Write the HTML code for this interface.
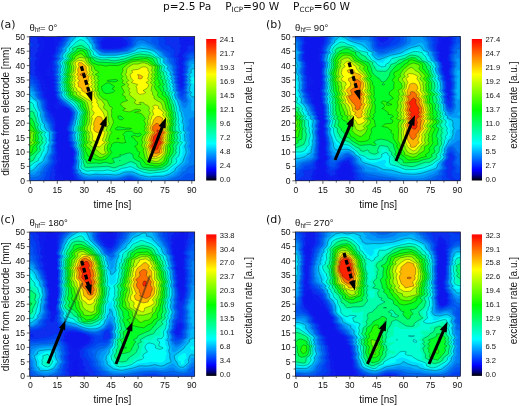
<!DOCTYPE html>
<html><head><meta charset="utf-8"><title>figure</title>
<style>html,body{margin:0;padding:0;background:#fff}svg{display:block}text{fill:#111}</style></head><body>
<svg width="520" height="406" viewBox="0 0 520 406">
<defs><clipPath id="pc"><rect x="0" y="0" width="164.9" height="144.3"/></clipPath>
<linearGradient id="cb" x1="0" y1="1" x2="0" y2="0"><stop offset="0.000" stop-color="#000000"/><stop offset="0.035" stop-color="#000096"/><stop offset="0.075" stop-color="#0000ff"/><stop offset="0.260" stop-color="#00ffff"/><stop offset="0.500" stop-color="#00ff00"/><stop offset="0.750" stop-color="#ffff00"/><stop offset="1.000" stop-color="#ff0000"/></linearGradient>
<filter id="bl" x="0" y="0" width="520" height="406" filterUnits="userSpaceOnUse"><feGaussianBlur stdDeviation="0.42"/></filter>
</defs>
<rect width="520" height="406" fill="#fff"/>
<g filter="url(#bl)">
<text x="163" y="10.1" font-size="10.6" font-family="'DejaVu Sans', sans-serif">p=2.5 Pa</text>
<text x="225.2" y="10.1" font-size="10.6" font-family="'DejaVu Sans', sans-serif">P<tspan font-size="7.2" dy="1.8">ICP</tspan><tspan dy="-1.8">=90 W</tspan></text>
<text x="293.1" y="10.1" font-size="10.6" font-family="'DejaVu Sans', sans-serif">P<tspan font-size="7.2" dy="1.8">CCP</tspan><tspan dy="-1.8">=60 W</tspan></text>
<g transform="translate(0.0,0.0)">
<g transform="translate(29.8,36.5)" clip-path="url(#pc)" stroke="#001020" stroke-opacity="0.6" stroke-width="0.55" stroke-linejoin="round">
<rect x="0" y="0" width="164.9" height="144.3" fill="#0812ec"/>
<path d="M-2,-2l17.2,0 -0.6,2 -1.6,2 2,2 -0.8,2 1.8,2.3 -0.4,1.7 -2.3,2 0.1,2 -1.8,2 -1.5,4 1.3,2 -1.9,2 -0.9,4 0.2,6 1.8,2 -0.7,2 2.1,1.9 0.5,2.1 3.8,6 -0.5,2 3,2 -1.9,2 0.8,2 -1.3,2 0.1,2 3.1,4 0.4,3.1 1.5,0.9 -1.1,2 1.2,2 -0.2,2 4.6,4 -0.1,2 1.3,2 -0.4,4 0.6,2 -0.7,2 -0.1,2 0.4,2 2.6,2 -2,2 0.2,4 -1.1,2 1.9,2 -0.9,2 -0.3,2 1.3,2 -0.1,2 1.1,2 -0.2,2 0.4,2 1.5,2 0.2,2 -2.6,4 -0.9,2 -0.2,2 1.1,2 -0.1,2 2.5,2 3.9,6 -1.3,0.4 -1.4,1.6 2.1,2 -36.7,0 0,-150zM27,0l2.8,-2 138.2,0 0,150 -124,0 -4,-3.5 -2,-0.5 2,-0.5 1.2,-1.5 -0.5,-2 0.5,-2 -1.4,-2 1.7,-2 -1.2,-2 0.3,-2 1.4,-2 0.7,-2 0.1,-2 -0.6,-2 1.2,-6 -2.3,-4 -2.5,-2 0.1,-2 0.7,-2 -2.9,-2 0.5,-2 -0.3,-2 1.9,-4 -3,-2 0,-2 0.5,-2 1.2,-2 0.3,-2 2.2,-4 1,-6 -4.1,-4 -2.7,-0.8 -2,0 -3.8,0.8 -1.5,2 -0.7,0.3 -0.5,-0.3 -0.1,-2 -2.7,-4 1.3,-0.3 2,-1.6 0.6,-2.1 -1.5,-2 -1.8,-4 1.6,-2 -2.3,-2 0.1,-2 -0.6,-2 1.1,-2 -2.2,-2 2,-2 -2.7,-4 -5.8,-2 3.5,-1.9 -2,-2.1 3.2,-4 -0.7,-2 2.6,-4 2,-2 -2.7,-2 1.3,-2 2,-2 0.7,-2 -0.9,-2 0.4,-2 1.1,-2 -1.6,-4 1,-2 2.6,-2zM76,4l-3.5,2 1.2,2 0,2 2.3,0.9 12,-0.4 4,-0.9 2.9,-1.6 -3.2,-4 -3.7,-1.5 -6,-0.4 -6,1.9zM156,2.7l-1.6,1.3 1.6,0.6 3.5,-0.6 -3.5,-1.3z" fill="#081ded" stroke="none"/>
<path d="M-2,-2l8,0 1.4,2 -0.3,2 0.9,2 -0.2,2 2.1,2 -0.3,2 -2.2,2 0.8,2 -2.5,4 -0.2,2 2.4,2 -2.6,2 -0.7,4 1.2,2 0.1,2 -1.5,2 1.4,2 -1.1,2 3.2,2 -0.5,2 2.6,1.9 -0.4,2.1 1.8,2 -0.6,2 1,2 0.2,1.9 2.4,2.1 -1.1,2 0.7,2 3.4,4 0.4,4 -0.4,2 0.6,2.4 0.7,1.6 3.3,3.9 0.6,2.1 1.6,2 1.5,6 -0.5,4 0.4,2 2.6,2 -1.7,2 0.3,4 -1.1,2 1.9,2 -1.8,4 1.2,2 -0.3,2 1,2 -1.3,4 -0.2,2 1.6,2 -0.4,2 -2.3,4 -0.3,2 1,2 -0.9,2 1.1,1.9 -1.1,2.1 0.5,4 -0.9,4 -26.5,0 0,-150zM33.4,-2l44.4,0 0.8,2 -5.1,2 -3.3,4 1.3,2 0,2 1.2,2 5.3,0.6 11.5,-0.6 5.3,-2 3.1,-2 -0.9,-4 -4,-2 -2.2,-4 58.5,0 0.4,2 -0.3,2 0.9,2 -1,2 2.6,4 -2.1,2 0.9,2 -0.5,2 -2.8,4 2.2,2 -1.1,4 0.2,2 1.1,2 -1.5,4 1.4,2 -1.4,2 1.6,2 -1.6,2 1.4,2 -1.2,2 2.6,2 -1.3,2 2.1,2 0.4,-2 1.6,-2 -1.7,-2 1.6,-2 -0.8,-2 1.2,-2 -3.3,-2 2.5,-2 -0.7,-4 0.7,-2 -1.2,-2 0,-2 2.3,-4 -2.1,-2 0.6,-2 3,-2.9 2,-1.1 -0.7,-2 0.3,-2 0.4,-0.3 2,-1.2 8,1.1 0,138.4 -120,0 -1.6,-2 0.9,-2 -2.7,-2 -0.8,-4 -1.6,-2 1.1,-2 -1.3,-2.3 0.2,-1.7 1.7,-4 0.1,-2 -0.9,-2 1.3,-6 -1.3,-2 -0.6,-2 -2,-2 -0.1,-2 0.5,-2 -2.9,-2 0.6,-2 -0.4,-2 0.3,-2 1.4,-2 -3,-2 0.5,-4 1.2,-2 0.3,-2 1.9,-4 1.1,-6 -3.9,-4.2 -6,-2.3 -2.4,-1.5 -1.2,-4 -1.8,-2 -0.5,-2 -1.2,-2 1.6,-2 -2.2,-2 0.7,-2 -0.9,-2 1.3,-2 -1.9,-2 1.6,-2 -1.3,-2 0.5,-2 -2.3,-2 1.9,-2 -1.3,-2 -0.2,-2 1.1,-2 -1,-2 -0.3,-2 1,-2 2,-2 -2.3,-2 2.7,-4 0.7,-2 -0.7,-2 2.7,-4 0.2,-2 2.2,-2 -0.1,-2 2.6,-2 0.2,-2z" fill="#072eee" stroke="none"/>
<path d="M-2,-2l1.6,0 1.1,2 -0.7,6 3.6,2 -1.2,2 -4.4,-0.3 0,-11.7zM35.6,-2l37,0 0,2 -3.7,2 0,2 -0.8,2 1.5,2 0.5,4 3.9,1.3 4,0.5 12,-0.7 2,-0.5 5.6,-2.6 2.4,-1.6 0.5,-0.4 -0.4,-2 0.2,-2 -2,-2 0.3,-4 36.5,0 0.4,2 -1.8,2 1.9,2 -1.1,4 5.5,1.6 1.9,2.4 2.6,2 0,2 -0.9,4 3.1,2 -0.6,4 0.4,2 1.4,2 -1.2,4 1.2,2 -1.5,2 2.2,2 -1.5,2 1.4,2 -1.3,2 2.3,2 -1.1,2 1.2,2 -0.1,2 2.5,0.9 0.2,-0.9 1.8,-1.8 -0.2,-2.2 1.3,-2 -1.9,-2 1.7,-2 -0.7,-2 1.1,-2 -2.6,-2 2.3,-2 -0.7,-2 0.8,-4 -1.1,-1.9 0.1,-2.1 2.7,-4 -1.8,-2 3,-3.5 2,-1.3 4,-1.4 4,0 0,134.2 -116.8,0 -1.2,-2 0.1,-2 -2.9,-2 -1.6,-4 -1.9,-2 1,-2 -1.6,-2 0.3,-2 1.4,-4 0.1,-2 -0.8,-2 1.2,-6 -1.7,-4 -1.6,-1.9 -0.3,-2.1 0.5,-2 -2.9,-2 0.7,-1.7 -0.7,-2.3 0.3,-2 1.4,-2 -2.8,-2 0,-2 0.4,-2 1.3,-2 0.2,-2 1.8,-4 0.9,-6 -3.2,-4 -6.6,-4 -2,-2 -1,-1.9 -2,-2 -1.9,-4.1 1.5,-2 -2.2,-2 0.9,-2 -1,-2 1.3,-2 -1.9,-2 1.7,-2 -1.3,-2 1.1,-2 -2.2,-1.8 1.7,-2.2 -1.1,-2 0,-2 1,-2 -1.2,-2 -0.4,-1.8 0.8,-2.2 1.9,-2 -2,-2 3.5,-6 -0.6,-2 3.2,-4 0.4,-2 2.3,-2 -0.2,-2 2.3,-2 0,-2zM98,143.5l-1.5,0.5 -0.1,2 1.6,1.1 2,0 2,-0.9 1.7,-2.2 -3.7,-0.7 -2,0.2zM141,4l1,-0.7 1.8,0.7 -1.8,0.3 -1,-0.3zM-2,14l0,-0.5 2,0.4 0.2,2.1 -2.2,1.1 0,-3.1zM-2,20l0,-0.9 2,0.6 2.9,2.3 -1.9,2 -1.3,4 0.4,2 -2.1,0.2 0,-10.2zM-2,38l0,-1.9 2,0 0.7,1.9 3.8,2 -0.5,1.8 3.3,2.2 -0.8,2 2.4,2 -0.7,2 1.2,2 0,2 2.6,2 -1,2 2,4 2.3,2 0.5,2 -0.1,4 0.5,2 0.8,2 1.6,2 1,4 1.8,2 2.5,6 -0.1,4 0.6,2 2.7,2 -1.6,2 0.3,4 -1.1,2 1.9,2 -2.1,4 1.1,2 -0.3,2 0.8,2 -2,4 -0.4,2 1.4,2 -0.2,2 -3.3,6 0.2,2 -1.7,2 0.6,2 -1.1,2 -0.5,2 0.5,2 -1.2,2 1.5,2 -21.9,0 0,-110z" fill="#0641f0" stroke="none"/>
<path d="M37.2,-2l30.1,0 0.4,2 -1.9,2 1.2,2 -0.4,2 1.6,2 0.5,4 5.3,2.3 4,0.3 14,-0.6 8,-3.9 2.5,-2.1 -0.4,-2 0.6,-2 -1,-2 1.3,-4 28.4,0 -0.7,2 -3.2,2 1.4,2 0.1,4 2.9,4 8.1,3.9 0.6,2.1 -0.3,2 3.7,1.9 0.3,4.1 0.5,2 1.6,2 -0.9,4 1.2,2 -1.5,2 2.3,2 -1.4,2 1.4,2 -1.3,2 2.2,2 -1,2 1.1,2 -0.5,1.9 2.9,2.1 -1,2 2.1,2.7 0.8,-0.7 0.5,-2 2.3,-2 -2,-2 1.4,-2 -0.3,-2 1.4,-2 -1.9,-2 1.7,-2 -1,-2 1.3,-2 -2.2,-1.9 2,-2 -0.7,-2.1 1,-4 -1.2,-2 0.2,-2 3.3,-4 -1.4,-2 2.8,-2.6 2,-1 2,0 4,1 0,130.6 -60,0 -1.1,-4 -4.9,-1.9 -2,-0.3 -2.6,0.2 -5.1,2 -0.8,2 0.9,2 -38.4,0 -1.5,-2 0.1,-2 -3.2,-2 -2.4,-4 -2.1,-2 0.8,-2 -1.5,-2 0.2,-2 1.2,-4 0.1,-2 -1,-2 1.4,-6 -1.3,-2 -0.4,-2 -1.7,-2 -0.1,-2 0.6,-2 -2.7,-2 0.6,-2 -0.8,-2 0.2,-2 1.5,-2 -2.8,-2 0.4,-4 1.2,-2 0.2,-2 1.8,-4 0.8,-6 -3,-4 -5.6,-4 -6.1,-6 -1.9,-4 1.5,-2 -2.2,-2 0.9,-2 -1,-2 1.3,-2 -1.8,-2 1.6,-2 -1.1,-2 1,-2 -2.3,-2 1.9,-2 -0.8,-1.9 0,-1.6 0.8,-2.5 -1.7,-4 0.9,-1.9 2,-2.1 -1.8,-2 3.6,-6 -0.6,-2 2.1,-2 1.3,-2 0.5,-2 2,-2 -0.1,-2 2.3,-2 -0.1,-2zM-2,42l2,0.1 4,1.9 -0.6,2 3.2,2 -0.3,2 1.4,2 -0.1,2 2.7,2 -1.1,2 2,4 2.4,2 0.8,2 0,4 1.3,4 1.6,2 0.3,4 1.8,2 0.4,2 2.6,4 0,2 1,4 2.6,1.9 -1.4,2.1 0.3,4 -1.1,2 1.9,2 -2.2,4 1,2 -0.3,2 0.7,2 -2.4,4 -0.3,2 1.1,2 -0.3,2 -4.4,6 0,2 -2.5,2 0.4,2 -0.9,2 -1.5,2 0.3,4 1.6,2 -18,0 0,-106z" fill="#0653f1" stroke="none"/>
<path d="M38.6,-2l26.1,0 0.4,2 -1.1,2.1 1.5,1.9 -0.2,2 1.8,2 0.4,4 4.5,2.5 4,0.9 14,-0.5 6,-0.9 2.2,-2 4.1,-2 1.7,-1.8 0.1,-2.2 1.2,-2 0.4,-2 1.5,-2 -0.3,-2 18.8,0 -1.2,2 -3,2 -0.3,2 0.5,2 2.3,0.9 2,1.6 2.9,3.5 4.1,2 4.3,4 0.5,2 3.6,2 0.9,4 0.9,2 1.8,2 -0.6,4 1.3,2 -1.5,2 2.4,2 -1.3,2 1.4,2 -1.3,2 2.2,2 -1,2 1.1,2 -0.6,2 2.6,2 -1,2 2.1,4 3.2,1.9 0.8,-1.9 -0.1,-4 2.1,-2 -2.2,-2 1.3,-2 -0.4,-2 1.4,-2 -2,-2 1.7,-2 -0.9,-2 1.2,-2 -2.3,-2 2.3,-2 -0.7,-2 1,-4 -1,-2 0.3,-2 1.5,-2 2.3,-2 -0.6,-2 0.3,-0.3 2,-0.7 6,0.6 0,116.1 -2,0.1 -4,1.4 -4,-0.4 -2,0.6 -4,4 -7.5,2.6 -0.7,2 1.1,2 -32.9,0 -1.9,-4 -8.1,-3.1 -2,-0.4 -4,0.7 -6,2.1 -6.8,0.7 1,2 2.4,2 -3.7,0 -0.9,-0.6 -6,0.3 -2,-0.3 -1.2,0.6 -9.5,0 -1.3,-1.1 -4,-0.4 -0.9,-0.5 -0.6,-2 -4.5,-1.8 -2,-1.7 -1.8,-2.5 -2.2,-1.9 0.6,-2.1 -1.6,-2 0.1,-2 1.2,-4 0,-2 -1,-2 1.2,-6 -1.1,-2 -0.4,-2 -1.6,-2 -0.1,-2 0.8,-2 -2.7,-2 0.6,-1.8 -0.8,-2.2 0,-2 1.5,-2 -2.6,-2 0.4,-4 1.3,-2 0.2,-2 1.6,-4 -0.1,-2 0.8,-4 -2.7,-4 -11.8,-10 -2,-4 1.4,-2 -2.3,-2 1.1,-2 -1.1,-2 1.4,-2 -1.9,-2 1.6,-1.8 -1.1,-2.2 1.2,-2 -2.1,-1.8 1.7,-2.2 -0.9,-2 0.1,-2 1,-2 -1.3,-2 -0.4,-2 0.9,-2 1.9,-2 -1.7,-2 3.8,-6 -0.5,-2 3.6,-4 0.4,-2 1.9,-2 0,-2 2.3,-2 -0.2,-2zM68,143.9l-0.7,0.1 0.7,0.6 2,0.3 1,-0.9 -3,-0.1zM-2,48l0,-1.9 2,0.3 3.8,1.6 0.7,2 1.5,1.8 0,2.2 2.8,2 -1.2,2 2.1,4 2.3,1.8 1.1,2.2 0.2,4 1.3,4 1.4,1.9 0.2,4.1 1.6,2 0.3,2 3,4 0.1,2 1.2,4 2.8,2 -1.5,2 0.4,4 -1.1,2 2,2 -2.5,4 1,2 -0.3,2 0.5,2 -2.6,4 -0.2,2 0.9,2 -0.6,2 -5.2,6 -0.1,2 -2.9,2 0.4,2 -1.4,2 -4,3.3 -6.7,0.7 -1,2 7.7,0.3 2,0.7 1.3,1 -13.3,0 0,-100z" fill="#0565f3" stroke="none"/>
<path d="M39.7,-2l23.4,0 0.4,2 -0.8,2 1.7,2 -0.1,2 1.9,2 0.4,4 5.4,3.3 2,0.6 14,-0.2 10,-1.6 1.9,-2.1 3.8,-2 1.9,-2 0.3,-2 2.1,-1.8 2,-0.9 4,0.4 3.8,2.3 4.6,2 2.8,2 1.6,2 5.2,2.7 1.5,1.3 2.5,3.8 3.6,2.2 -0.1,2 0.9,2 3.4,4 -0.3,4 1.4,2 -1.4,2 2.4,2 -1.3,2 1.4,2 -1.2,2 2.1,2 -0.9,1.8 1.1,2.2 -0.7,2 2.6,2 -1.2,2 1.8,4 4.4,4 2,-0.5 0.9,-1.5 -0.8,-2 -0.4,-4 1.9,-2 -2.2,-2 1.2,-2 -0.4,-2 1.4,-2 -2,-2 1.6,-2 -0.9,-2 1.2,-2 -2.2,-2 2.3,-2 -0.7,-2 1.1,-3.9 -0.9,-2.1 0.4,-2 2.5,-2.7 2,-1.3 2,-0.8 4,0.2 0,102.3 -0.6,0.3 0.6,0.3 0,3.7 -8.3,2 -2.7,2 -0.1,2 -4.4,2 -1.1,2 -2.6,2 -10.3,4 0,4 -23,0 -1.5,-2 0.5,-2 -4.5,-1 -7.5,-3 -2.5,-0.4 -2,0.1 -10,2.8 -6,0.5 -24,-0.2 -3.8,-0.8 -2.2,-1.1 -5.3,-4.9 0.5,-2 -1.5,-2 0,-2 1.1,-4 0,-2 -1,-2 1.2,-6 -1.5,-4 -1.5,-2 0,-2 0.7,-2 -2.5,-2 0.5,-2 -0.8,-2 0,-2 1.5,-2 -2.6,-2 0.4,-4 1.3,-2 0.1,-2 1.6,-4 0,-2 0.7,-4 -2.9,-4.3 -11.5,-9.7 -2.1,-4 1.5,-2 -2.4,-2 1,-2 -1,-2 1.3,-2 -1.9,-2 1.8,-2 -1.2,-2 1.2,-2 -2.3,-2 2,-2 -0.9,-2 0.2,-2 0.9,-2 -1.2,-2 -0.5,-2 1,-2 1.9,-2 -1.5,-2 3.7,-5.8 -0.3,-2.2 2.1,-2 1.4,-2 0.4,-2 1.9,-2 0.1,-2 2.4,-2 -0.3,-2zM-2,50l0,-1.8 2,0.1 2,0.8 2.7,2.9 0.1,2 2.8,2 -1.1,2 2.1,4 2.6,2 0.9,2 0.3,4 0.6,2 0.7,2 1.6,2 -0.1,4 1.5,2 0.3,2 3,3.9 0.2,2.1 1.4,4 2.8,2 -1.3,2 0.3,4 -1,2 1.9,2 -2.5,4 0.9,2 -0.4,2 0.5,2 -2.8,4 -0.2,2 0.8,2 -0.6,1.4 -2,2.4 -2.5,2.2 -1.4,2 -0.4,2 -3.1,2 0.6,2 -3.2,2.3 -4,0.9 -6,0.1 0,-91.3z" fill="#047bf4" stroke-opacity="0.22"/>
<path d="M41.4,-2l19.5,0 0.3,2 -0.2,2 1.7,2 0.3,2 1.9,2 0.4,4 4.7,3.5 2,1 2,0.4 14,-0.2 10,-1.7 2.8,-1 1.5,-2 3.7,-2 4,-2.8 2,-0.3 2,0.2 4,1.3 3.1,1.6 2.4,2 4.9,2 2.7,2 2.8,4 3.6,2 -0.4,2 0.5,2 4.2,4 -0.2,2 0.5,2 1.5,2 -1.3,2 2.5,2 -1.3,2 1.5,2 -1.2,2 2.1,2 -1,2 1.1,1.8 -0.7,2.2 2.6,2 -1.3,2 1.7,4 2.1,2 1.6,4.5 2,2.9 2,0.3 2,-3.6 1.3,-4.1 -1.3,-1.9 -1,-4.1 1.9,-2 -2.3,-2 1,-2 -0.3,-2 1.4,-2 -2.1,-2 1.7,-2 -1.1,-2 1.3,-2 -2.1,-2 2.4,-2 -0.8,-2 1.5,-4 -0.8,-2 0.7,-2 2.6,-1.8 6,-0.2 0,56.9 -4,-0.3 -2,0.6 -2,1.1 -1.5,1.7 1.1,4 -1.5,2 -0.6,2 0.1,2 2.9,2 -1.5,2 0.8,4 -0.4,2 1.5,2 -1.3,2 -0.7,2 1.4,2 -0.1,2 1.1,2 -2.8,6 0.7,4 -7.2,5.6 -0.4,0.4 -0.1,2 -3.2,2 -1.4,2 -2.9,1.6 -8,2.8 -4,0.5 -12,0.3 -4,-0.4 -6,-1.4 -6,-2.4 -4,-1 -2,0.1 -8,2.6 -4,0.5 -18,-0.5 -6,0.6 -4,-0.2 -4,-1 -6,-4.1 0.3,-2 -1.7,-2 1,-8 -1.1,-2 1.2,-6 -1.1,-2 -0.3,-2 -1.5,-2 0,-2 0.8,-2 -2.5,-2 0.6,-2 -0.8,-2 0,-2 1.5,-2 -2.4,-1.9 0.2,-4.1 1.3,-2 0.1,-2 1.6,-4 -0.2,-2 0.9,-4 -2.5,-4 -1.4,-1.4 -10.4,-8.6 -2.1,-4 1.3,-2 -2.4,-2 0.9,-2 -1,-2 1.3,-2 -1.8,-2 1.7,-2 -1,-2 1.2,-2 -2.3,-2 2,-2 -0.9,-2 0.2,-2 1,-2 -1.2,-2 -0.4,-2 1,-2 2,-2 -1.4,-2 3.9,-6 -0.3,-2 3.5,-4 0.4,-2 1.9,-2 0.4,-2 2.4,-2 -0.5,-2zM-2,52l0,-1.2 2,0.2 1.9,1 0.5,2 3.2,2 -1,2 2.4,4 2.6,2 1.1,2 0.3,4 1.3,4 1.6,2 -0.2,4 1.2,2 0.3,2 3.2,4 0.1,2 1.7,4 2.9,2 -1.1,2 0.3,4 -1,2 1.9,2 -2.6,4 0.8,2 -0.4,2 0.3,2 -3,4 0,4 -1.3,2 -4.8,4 -2.2,3.9 -3.2,2.1 -0.8,1.6 -2,0.6 -6,-0.1 0,-86.1z" fill="#0398f7" stroke="none"/>
<path d="M43.4,-2l15.2,0 0.6,4 1.9,2 0.5,2 2,2 0.5,2 -0.1,2 6,5 2,0.8 4,0.3 10,-0.3 12,-1.8 5,-2 1.8,-2 1.2,-0.6 6,-2.2 3.9,0.8 3.4,2 6.4,2 2.9,2 3.2,4 3.9,2 -0.5,2 0.3,2 4.5,4 -0.8,2 3.1,4 -1.2,2 2.4,2 -1.3,2 1.7,2 -1.1,2 2,2 -1,2 1.4,2 -1.1,2 2.7,2 -1.3,2 1.5,4 1.9,2 1.8,6 1,2 0.1,2 1.8,2 0.7,4 0.9,2 -0.4,2 0.2,2 1.2,2 -1.1,4 0.2,2 2.6,2 -1.6,2 0,2 1,2 -0.4,2 1.7,2 -2.2,4 1.5,2 0.8,4 -2.7,5.8 -0.8,4.2 -6.9,6 0,2 -3.4,2 -1.9,2 -9,3 -14,0.7 -4,-0.4 -6,-1.5 -6,-2.4 -4,-0.8 -4,0.3 -6,2.4 -4,0.6 -20,-0.8 -6,0.6 -4,-0.5 -6.5,-3.2 0,-2 -1.9,-2 0.9,-8 -1.2,-2 1.1,-6 -1.1,-2 -0.3,-2 -1.4,-2 0,-2 0.9,-2 -2.4,-2 0.6,-2 -0.8,-4 1.5,-2 -2.6,-2 0.4,-4 1.3,-2 0.6,-4 1.1,-2 -0.2,-2 0.9,-4 -2.4,-4 -1.9,-2 -4.4,-4 -5.4,-4 -2.3,-4 1.2,-2 -2.5,-2 1,-2 -1.1,-2 1.3,-2 -1.9,-2 1.9,-2 -1.1,-2 1.3,-2 -2.2,-2 2,-2 -1,-2 0.3,-2 1,-2 -1.1,-2 -0.4,-2 1.1,-2 2.2,-2 -1.4,-2 4,-6 -0.3,-2 3.6,-4 0.4,-2 2.2,-2 0.7,-2 2.3,-1.9 -0.6,-2.1zM161.5,28l0.5,-0.4 6,-0.2 0,47.1 -4,0 -2.4,-0.5 -0.3,-6 0.9,-4 -2.2,-2.4 -1.5,-3.6 1.9,-2 -2.4,-1.9 0.9,-2.1 -0.3,-2 1.3,-2 -2.1,-2 1.6,-2 -1.1,-2 1.3,-2 -2,-2 2.4,-1.9 -0.6,-2.1 0.6,-1.7 1.6,-2.3 -0.1,-2zM-2,56l0,-2 4.9,2 -0.6,2 1.9,2 1,2 2.8,2 1.2,2 0.2,4 1.5,4 1.5,2 -0.3,4 1.2,2 0.1,2 1.1,2 1.9,2 0.1,2 2.1,4 3,2 -0.8,2 0.2,4 -0.9,2 1.8,2 -2.6,4 0.6,2 -0.4,4 -3,4 -0.8,4 -1.6,2 -4.1,3.3 -3.4,4.7 -2.6,1.2 -6,0.9 0,-80.1z" fill="#02b7f9" stroke="none"/>
<path d="M45.9,-2l10.5,0 0,2 1,2 2.1,2 0.9,2 1.9,2 0.8,2 -0.2,2 2.6,2 3.7,4 2.8,0.7 14,0 10,-1.6 4.4,-1.1 4.9,-2 2.7,-1.9 2,-0.4 8,1 5,1.3 3.4,2 3.5,4 4.3,2 -0.3,4 4.6,4 -1,2 1.3,2 2.2,2 -1,1.9 2.4,2.1 -1.5,2 1.9,2 -1,2 2,2 -1,2 1.5,2 -1.2,2 2.7,2 -1.3,2 1.4,4 1.7,2 2.6,8 -0.3,2 1.7,2 0.5,4 1,2 -0.6,4 1.5,1.8 -0.5,6.2 2.5,1.9 -1.5,2.1 0.7,4 -0.3,2 2,2 -2.4,4 1.3,2 0.6,4 -3.9,10 -6.9,6 -0.4,2 -5.2,3.5 -6,2.1 -10,0.2 -4,0.6 -2,-0.1 -8,-1.8 -6,-2.8 -2,-0.4 -6,0.1 -2.4,0.6 -4.3,2 -3.3,0.5 -8,-0.6 -6,0.3 -6,-0.6 -6,1 -4,-0.7 -4,-1.5 -0.8,-0.4 -0.5,-2 -2.1,-2 0.6,-8 -1.2,-2 1,-6 -1.3,-4 -1.4,-2 0.1,-2 0.9,-2 -2.4,-2 0.7,-2 -0.8,-4 1.5,-2 -2.6,-2 0.4,-4 1.3,-2 0.5,-4 1.2,-2 -0.3,-2 1,-4 -3.8,-5.7 -4.5,-4.3 -5.5,-3.9 -1.4,-2.1 -1.1,-2 1.1,-2 -2.5,-2 0.8,-2 -1.1,-2 1.3,-2 -1.9,-2 1.9,-2 -0.9,-2 1.2,-2 -2.2,-2 2.1,-2 -1,-2 0.3,-2 1.1,-2 -1.2,-2 -0.3,-2 1.2,-2 2.3,-2 -1.4,-2 0.9,-2 3.1,-4 -0.2,-2 2.2,-2 1.4,-2 0.6,-2 2.6,-2 0.9,-2 2.7,-2 -0.5,-1.7zM164.6,32l3.4,-1 0,30 -6,-0.9 -1.7,-2.1 1.6,-2 -2.4,-2 0.6,-2 0,-2 1.2,-2 -2.3,-2 1.6,-2 -1.3,-2 1.5,-2 -1.8,-2 2.7,-2 -0.6,-2 0.9,-1.4 2.6,-0.6zM-2,60l0,-1.9 2,0.5 1.8,1.4 1.6,2 3.1,2 1.2,2 0.3,3.8 1.6,4.2 1.5,2 -0.3,4 1.1,2 0.1,2 0.9,2 1.8,2 -0.2,2 2.4,4 3.1,1.9 -0.4,2.1 0.2,4 -0.7,2 1.5,2 -2.5,4 0.4,2 -0.8,4 -2.6,4 -1.4,4 -1.7,1.8 -3.6,2.2 -4.4,5.2 -2,1 -4,0.5 0,-74.7z" fill="#01dcfc"/>
<path d="M46.8,2l3.2,-1.4 2,0.1 4,2.5 4.3,4.8 1.2,2 -0.2,2 2.4,2 1.6,2 0.8,2 3.9,1.7 4,0.4 12,-0.1 12,-2.3 10,-3.2 6,-0.9 4,0.5 4,1.2 2,1.1 3.6,3.6 4.7,2 -0.3,4 4.7,4 -1.1,2 0.4,1.5 3.1,2.5 -0.8,2 2.3,2 -1.7,2 2.3,2 -0.8,2 1.9,2 -1.1,2 1.5,2 -1.2,2 2.9,2 -1.2,2 1.1,4 1.6,2 0.7,2 1.9,6 -0.6,2 1.8,2 0.4,4 0.9,2 -0.7,2 -0.1,2 1.6,2 -0.6,2 0.2,4 2.6,2 -1.8,2 0.4,4 -0.5,2 2.7,2 -2.8,4 1,4 -0.7,2 0.1,2 -0.8,2 -1.6,1.9 -0.5,4.1 -7.4,6 -2.1,2.7 -2,1.3 -4.9,2 -13.1,0.6 -10,-2.1 -2,-1 -1.6,-1.5 -4.4,-1.2 -6,0.7 -12,3 -8,-0.6 -8,-0.1 -10,0.7 -4,-0.9 -4,-3.6 -0.3,-2 0.7,-2 -0.1,-4 -1.4,-2 0.9,-6 -1.2,-4 -1.3,-2 0,-2 1,-2 -2.3,-2 0.7,-2 -0.6,-4 1.4,-2 -2.7,-2 0.4,-4 1.4,-2 -0.1,-2 0.5,-2 1.3,-2 -0.3,-1.9 1.2,-4.1 -5.2,-7.3 -2.8,-2.7 -5.9,-4 -2.5,-4 1,-2 -2.7,-2 0.9,-2 -1.2,-2 1.4,-2 -2,-2 1.8,-1.9 -0.8,-2.1 1.4,-2 -2.1,-2 2.1,-2 -1.1,-2 0.3,-2 1.1,-2 -1.1,-2 -0.4,-2 1.4,-2 2.6,-2 -1.4,-2.3 0.6,-1.7 3.4,-4 -0.3,-2 2.5,-2 2.9,-4 2.5,-2 1.2,-2zM161.2,42l0.8,-1 2,-0.5 2,2.2 2,0.4 0,6.7 -2,-0.1 -2,-2.1 -2.6,-1.6 1.8,-2 -2,-2zM-2,62l5.7,2 1.7,2 0.6,3.9 1.3,2.1 0.5,2 1.4,2 0,4 1.1,2 0.1,2 0.7,2 1.8,2 -0.8,2 0.8,2 1.6,2 3.5,1.9 -0.9,2.1 1,4 -0.6,2 1.2,2 -2.4,4 0.2,2 -0.6,2 -2.9,6 -1.4,2 -0.2,2 -6.8,4 -1,2 -1.6,1.2 -4,1.1 0,-70.3z" fill="#00fff7" stroke="none"/>
<path d="M48.8,4l1.2,-0.7 2,0.1 2,0.8 4,3.7 1.5,2.1 0.4,2 2.3,2 1.3,2 0.2,2 3,2 3.3,0.9 4,0.5 6,-0.5 8,0.1 8,-1.6 12,-3.7 6,-0.8 4,0.5 4,1.4 3.8,3.2 4.7,2 -0.1,4 1.8,2 2.8,2 -1.1,4 3.4,2 -0.6,2 2,2 -1.6,2 2.5,2 -0.7,2 1.7,2 -1,2 1.4,2 -1.2,2 3.1,2 -1.1,2 0.9,2 0.2,2 1.6,2 2.6,8 -0.6,2 1.5,1.9 0.4,4.1 0.8,2 -1,4 1.4,2 -0.8,2 0.6,2 -0.1,2 2.7,1.9 -2,2.1 0.9,4 -1.2,2 3,2 -3.1,4 0.4,4 -0.6,4 -0.8,2 -2.6,2 0.9,2 0,2 -7.5,6 -1.4,1.7 -4,1.5 -14,1.7 -5.9,-0.9 -8.1,-3.4 -4,-2.2 -2,-0.2 -4,1.1 -4,0.5 -4.4,2.2 -3.6,0.9 -6,-1.5 -4,0.8 -8,0.2 -3.7,-0.4 -4.3,0.7 -2,-0.4 -4.4,-2.3 -0.6,-2 0.6,-2 -0.3,-4 -1.3,-1.8 0.6,-6.2 -1.1,-4 -1.3,-2 0,-2 1.1,-2 -2.4,-2 1,-2 -0.7,-4 1.4,-2 -2.6,-1.9 0.3,-4.1 1.5,-2 -0.2,-2 0.4,-1.8 1.4,-2.2 -0.4,-2 1.5,-4 -5.7,-8 -2.8,-2.7 -5.3,-3.3 -2.7,-4 1,-2 -2.8,-2 0.9,-2 -1.3,-2 1.4,-2 -2.1,-2 1.9,-2 -0.9,-2 1.6,-2 -2,-2 2,-2 -1,-2 0.3,-2 1,-2 -1.1,-2 -0.3,-2 1.4,-1.9 2.9,-2.1 -1.7,-2 0.7,-2 3.9,-4 -0.5,-2 2.7,-1.9 4,-4.3 2.8,-1.8zM-2,66l0,-0.4 2,0 1.9,0.4 1.7,2 0.3,2 3.6,6 0.3,4 1.1,2 0.1,2 0.6,2 1.8,2 -1,2 0.5,2 1.5,2 3.6,1.9 -1.8,2.1 2.3,4 -0.4,2 0.5,2 -2.5,4 0.2,2 -0.4,2 -1.5,2 -1.6,4 -1.8,2 -0.1,2 -4.1,2 -4.8,3.9 -2,0.5 0,-64.4z" fill="#00ffd1"/>
<path d="M46.9,8l1.1,-1.1 2,-0.8 2,0.1 2,0.7 1.4,1.1 3.1,4 2.5,2 0.9,2 0,2 2.1,1.8 8,2.5 4,0.1 4,-0.7 6,0.8 4,-0.4 8,-2.1 8,-2.9 6,-1 8,1.2 2,0.9 2.3,1.8 4.5,2 0.2,4 1.7,2 2.9,2 -1.3,4 3.2,2 -0.3,2 1.7,2 -1.3,2 2.4,1.9 -0.6,2.1 1.5,2 -0.8,2 1.3,2 -1.3,2 3.2,2 -0.8,2 1.1,2 0.2,2 1.5,2 1.4,4 1.1,4 -0.5,2 1.6,2 0.1,4 0.8,2 -1.3,4 1.4,2 -1,2 0.3,4 3.3,2 -2.1,2 1.1,4 -1.7,2 3,2 -3.1,4 0.4,2 -0.6,2 0.5,2 -1.9,4 -2.1,1.9 0.4,2.1 -0.2,2 -2.2,2.3 -6,4.7 -6,0.9 -4,1.1 -8,0.4 -3.2,-1.4 -4.8,-0.9 -2,-0.8 -4,-3.1 -2,-1.1 -2,-0.4 -2,0.4 -2.6,1.9 -5.4,1.1 -4,1.8 -2,0.3 -6,-1.8 -12,1 -10,0.2 -2,-0.6 -1.7,-2 0.6,-2 -0.6,-4 -1.5,-2 0.6,-6 -1.1,-4 -1.3,-2 0,-2 1.2,-2 -2.2,-1.9 0.9,-2.1 0,-2 -0.7,-2 1.5,-2 -2.8,-2 0.4,-4 1.7,-2 -0.4,-2 0.4,-2 1.3,-2 -0.4,-2 1.8,-4 -1.7,-2 -4,-6.3 -4,-3.6 -4,-2.1 -2.9,-4 1,-2 -2.8,-2 0.9,-2 -1.4,-2 1.4,-2 -2.2,-2 1.8,-2 -0.8,-2 1.7,-2 -2,-2 1.9,-2 -0.8,-2 1.1,-4 -1.3,-4 1.6,-2 2.8,-1.9 -1.7,-2.1 0.7,-2 4.6,-4 -0.8,-2 6.1,-4zM-2,68l0,-0.6 2.8,0.6 0.4,2 4.8,5.9 0.1,2.1 1.5,4 0.1,2 0.6,2 1.7,1.8 -1,2.2 0.5,2 1.2,2 3.6,2 -1.9,2 2.4,4 -0.5,2 0.6,2 -3.1,4 0.4,4 -2.1,2 -1.2,2 -0.4,2 -2,2 -0.2,2 -6.3,3.3 -2,0.2 0,-59.5z" fill="#00ffac" stroke="none"/>
<path d="M47.1,10l2.9,-0.9 2,0 7.7,4.9 0.8,2 0.1,2 1.6,2 5.8,2.4 4,1 6,-0.2 4,1 4,-0.1 8,-1.5 12,-4.3 4,-0.8 10,1.2 6.9,3.3 0.8,4 1.6,2 3,2 -1.2,4 2.7,2 -0.3,2 1.6,2 -1,2 2.5,2 -0.9,2 1.6,2 -0.8,2 1.4,2 -1.5,2 3,2 -0.4,2 1.4,2 0.4,2 1.2,1.9 0.5,2.1 1.1,2 1,4 -0.4,2 1.5,2 0,4 0.8,2 -1.3,4 1.3,2 -1.3,2 0.2,4 3.6,2 -2.2,2 1.3,4 -2,2 2.8,2 -2.9,3.8 0.6,2.2 -0.9,2 0.8,2 -4.4,6 -0.5,4 -1.6,2.4 -6,4 -8,1.4 -6,0.1 -9.9,-1.9 -2.9,-2 -0.4,-2 -0.8,-0.8 -4,-1.9 -2,0 -8,3.6 -2,0.2 -4,1.8 -2,0.4 -6,-1.5 -20,1.1 -2,-0.1 -1.7,-0.8 0.1,-2 -0.9,-2 -0.1,-2 -1.7,-2 0.6,-6 -0.9,-2 -0.2,-2 -1.2,-1.9 -0.1,-2.1 1.3,-2 -2.2,-2 1,-2 0.1,-2 -0.8,-2 1.5,-2 -2.8,-2 0.5,-4 1.8,-2 -0.6,-2 0.4,-2 1.2,-2 -0.4,-2 1.9,-4 -3.2,-4 -1.8,-4 -1.8,-2 -2.3,-2 -4.1,-2 -3.4,-4 1,-2 -2.8,-2 0.9,-2 -1.3,-1.9 1.2,-2.1 -2.2,-2 1.7,-2 -0.8,-2 2,-2 -2.1,-2 1.8,-2 -0.8,-2 0.2,-2 0.9,-2 -1.2,-4 1.7,-2 2.9,-2 -1.8,-2 0.8,-2 5.1,-4 -0.9,-2 4.6,-2zM-2,76l0,-0.6 4,-0.5 2,0.9 0.3,2.2 1.9,4 0.1,2 0.6,2 1.8,2 -1.1,2 0.6,2 1,2 3.4,2 -1.9,2 2.1,4 -1.1,2 1.4,2 -3.4,4 0.8,4 -4.1,4 -3.1,6 -3.3,1.3 -2,0.3 0,-49.6z" fill="#00ff72"/>
<path d="M47.3,12l2.7,-0.1 4,0.8 3.1,1.3 2.1,6 4.2,2 1.2,2 3.4,1.5 18,1 10,-2.1 8,-3.1 6,-1 8,0.3 4.9,1.4 2.2,4 1.7,2 3.2,1.9 -1,4.1 1.9,2 -0.8,2 1.7,2 -1,2 2.4,2 -0.5,2 1.8,2 -1.9,2 1.4,2 -0.6,2 2.3,2 0.2,2 2.3,2 1.7,4 -0.1,2 1.4,2 1,6 1.6,2 -0.6,2 0.2,2 1,2 -1.2,2 -0.1,2 1.1,2 -1.3,2 -0.1,4 3.2,1.9 -1.8,2.1 0.1,2 0.8,2 -1.8,2 2.2,2 -2.1,2 -0.5,2 1.1,1.9 -0.7,2.1 0.1,2 -4.2,6 -1,4 -1.3,2 -4.9,2.8 -4,0.8 -10,-0.2 -4,-0.5 -2,-0.9 -1.1,-2 -0.1,-2 -0.8,-0.8 -3,-1.2 -3,-2 -0.9,-2 0.1,-2 -3.2,-1.6 -2,0.2 -6,2.1 -2,-0.7 0.6,2 -8,2 2.1,4 -2.7,0.9 -2,0.2 -4,-1.4 -6,1.2 -4,-0.4 -8,0.4 -1.5,-0.9 -0.2,-2 -2.3,-1.9 0.1,-6.1 -1,-2 0.2,-2 -1.7,-2 0,-2 1.6,-2 -1.9,-2 0.9,-2 -0.2,-2 -0.7,-2 1.6,-2 -2.5,-2 -0.2,-2 0.6,-2 1.7,-2 -0.5,-2 0.3,-2 0.9,-2 -0.4,-2 1.8,-4 -4,-6 0,-2 -1.3,-2 -7.3,-4.6 -3.8,-3.4 1.1,-2 -2.9,-2 1.1,-2 -1.4,-2 1,-2 -2,-2 1.4,-2 -0.8,-2 2,-2 -2.2,-2 1.8,-2 -0.5,-2 1,-4 -1.1,-4 4.5,-4 -1.5,-2 1.2,-2 5.6,-4 0.8,-2zM-2,82l2,-0.4 2,0.4 2.3,4 0.7,2 0.1,2 1.8,4 2.8,2 -1.9,2 1,4 -1.1,2 2.3,1.9 -2.2,2.1 -1.2,2 0.9,2 -0.5,2 -3,3 -4,2.8 -2,-0.7 0,-37.1zM89.8,124l0.6,0 -0.4,0.4 -0.2,-0.4z" fill="#00ff26"/>
<path d="M46.9,16l3.1,-1.6 2,-0.3 2,0.9 2,2.7 0.8,2.3 4,2 0,2 1.1,2 6.1,2.6 4,0 4,1.1 4,-0.9 8,0.3 10,-3.6 4,-2 14,-1.4 2,0.5 4,3 2.3,2.4 3.7,2 -1,4 1.4,2 -1.3,2 1.7,2 -1.6,2 2,2 0,2 1.7,2 -2.9,1.9 2,2 0.7,2.1 2,2 -0.6,2 4.6,4 2.4,10 0.9,1.9 1.8,2.1 -1,2 0.4,2 1.3,2 -1.3,2 0.2,2 1,2 -1.3,2 -0.3,4 2.8,2 -1.6,1.9 -0.3,2.1 0.5,2 -1.3,2 1.7,2 -2,2 -0.9,2 1.2,2 -1.5,6 -2.5,4 -0.3,2 -0.6,1.1 -2,2.2 -2,1.1 -4,1.2 -2,0 -10,-1.8 -4,-5.7 -3.3,-2.1 1.4,-4 -3,-2 0.2,-2 -2.5,-2 2.9,-2 0.4,-2 -2.4,-2 -1.7,-2.5 -2.7,-1.5 2.7,-1.1 4,1.4 2,-0.9 1.7,-1.4 -1.7,-1.5 -4,0.8 -2,-0.7 -2,-1.8 -2,-0.2 -4,0.3 -3,3.1 1.8,2 -0.3,2 1.6,4 -4.1,0.6 -4,-0.9 -2,0 -2,0.7 -2.4,1.6 0.1,2 -1.7,1.8 0,0.5 1.9,3.7 -5.9,6.6 -4,1 -4,0 -4,-1.2 -6,-3.1 -1.3,-3.3 -1.4,-2 0.7,-1.9 -2.4,-2.1 -0.1,-2 2.1,-2 -1.6,-1.9 0.5,-2.1 -1,-4 1.7,-2 -2.5,-2 -0.4,-2 0.7,-2 1.4,-2 -0.1,-2 1,-4 -0.4,-2 1.4,-4 -1.8,-4 -1.5,-2 0.2,-2 -0.9,-2 -12.1,-8 1.1,-2 -2.9,-2 1.2,-2 -1.5,-2 0.8,-2 -1.8,-2 1.3,-2 -0.7,-2 1.8,-2 -2.4,-2 2.1,-2 0,-4 0.5,-2 -0.8,-2 -0.1,-2 4.2,-4 -0.9,-2 4.8,-4zM76,46.7l-1.2,1.3 -3.2,2 1,4 1.4,2 2,1 2,0 5.5,-1 0.5,-0.5 0.9,-1.5 -2.8,-2 1.9,-0.9 0.8,-1.1 -4.8,-3.2 -2,-0.4 -2,0.3zM78,43.8l-0.7,0.2 0.7,1 6,0.4 2,-0.2 2.3,-1.2 -2.3,-1.2 -8,1zM86,91.5l-0.4,0.5 0.4,1.1 2,0.3 6,-0.1 2,-0.5 4,-0.1 1.7,-0.7 -1.7,-0.5 -4,0.1 -6,-1.2 -2,0 -2,1.1zM88,79.9l0.5,2.1 1.5,1.1 2,0.3 1.7,-1.4 -1.7,-1.8 -2,-0.9 -2,0.6zM88,101.6l-1.1,0.4 1.1,0.5 1.4,-0.5 -1.4,-0.4zM-2,88l0,-1.5 2,0.3 3.7,5.2 0.8,2 2.6,2 -1.6,2 0.7,4 -1,2 2.4,2 -4,4 -1.6,5.9 -2,0.7 -2,0.1 0,-28.7z" fill="#24ff00"/>
<path d="M48.9,18l1.1,-0.6 2,0 2.4,2.6 4.1,2 -0.1,2 1,2 4.8,4 0.3,2 1.3,2 2.2,0.6 0.9,1.4 -3.5,2 3.4,2 -1.2,2 1.6,2 -2,2 1.6,2 -1.1,2 0.7,2 -0.6,2 2,2 -0.6,2 3.7,4 4.4,2 2.7,5.8 2,0.9 0.7,1.3 -0.7,0.6 -0.4,1.4 0.4,2 -0.3,4 1.1,2 0.9,4 -3.7,7.8 2,2.1 -2,2.7 -1.5,5.4 1.5,2 -1.8,2 -1.1,4 0.4,2 1.6,2 -3.1,3 -4,1.9 -2,0.1 -5,-3 -1.5,-2 -2.8,-2 -1.1,-2 -2.8,-2 -0.8,-1.7 -0.1,-0.3 2.7,-2 -2.1,-2 0.4,-4 -0.9,-1.9 1.5,-2.1 -2.4,-2 -0.5,-2 0.6,-2 1.2,-2 0.9,-4 0.4,-2 -0.6,-2 0.8,-4 -3.1,-10 -2.3,-2 -9.7,-6 0.8,-2 -3,-2 1.1,-2 -1.7,-2 0.8,-2 -1.6,-2 1.2,-2 -0.5,-2 1.5,-2 -2.5,-2 2.3,-2 0.6,-6 -0.9,-2 0,-2 4.1,-4 0.2,-2 3.7,-2zM100.6,26l3.4,-1.1 4,-0.4 8,0.3 2,0.6 3.5,2.6 4.2,2 -1.1,4 1.3,2 -1.7,2 1.6,2 -1.8,1.9 1.6,2.1 -1.6,1.9 1.7,2.1 -1.3,2 1.9,4 2.1,2 -0.8,2 0.6,2 5.6,4 1.1,2 1.4,6 1,2 2,2 -0.7,2 0.5,2 1.5,2 -1.2,2 0.3,2 1,2 -1.3,2 0.1,2 -0.5,2 2.3,2 -1.3,1.8 -0.4,2.2 0.3,2 -1,2 1.6,2 -2.2,2 -0.9,2 0.2,6 -3,6 -0.5,2 -1.9,2 -2.2,0.9 -4,0.2 -4,-0.6 -4,-1.8 -2.6,-2.7 -2.1,-8 0.7,-2 -1.8,-2 -0.2,-2 1.1,-2 -1.1,-2.3 1,-3.7 3.4,-4 -2,-2 1.2,-2 -1,-2 1.4,-2.3 -1.9,-3.7 1.6,-2 -3.7,-4.6 -2,-0.8 -5.2,-0.6 1.2,-0.7 4,-0.6 1.1,-0.7 -1.1,-0.8 -4,-0.5 -6,2.7 -4,-0.5 -3,-0.9 1,-1.1 2,-0.8 -2,-0.7 -2,-2.5 -1.3,-0.9 1.3,-1.9 5.9,-2.1 -2.3,-2 -0.1,-2 -3.4,-2 2.6,-2 -3.1,-6 3.8,-2 -3.2,-2 1.4,-2 -2.2,-2 1.9,-2 -1.9,-2 1.8,-4 -0.4,-2 4.4,-4 3.4,-2zM-2,94l0,-1.6 6.7,3.6 -1.3,2 0.3,4 -1,2 2.5,2 -3.2,2.6 -2,1 -2,-0.1 0,-15.5z" fill="#6dff00"/>
<path d="M47.7,22l2.3,-1 2,0 3.6,1 0.4,2 1.3,2 1.7,2 2.7,2 -0.1,4 2.1,2 -1.7,1.8 2.9,2.2 -1,2 1.8,2 -1.4,2 1.5,2 -1.4,2 1.4,2 -0.9,2 2.4,2 -0.5,2 2.1,4 3.1,1.9 2.7,4.1 -0.9,2 0.2,2 2.9,2 1,2 0.5,8 1.2,4 -2,2 -1.3,4 2.1,2 -1.2,2 -0.2,2 -1.6,4 2.3,2 -2.1,2 -0.9,2 -0.1,4 1.6,2 -2.2,1.8 -2,-0.1 -2,-1.3 -2.5,-2.4 -5.7,-4 -1.8,-1.9 2,-2 -3.1,-2.1 0.9,-4 -1,-2 0.9,-2 -2,-2 -0.4,-2 0.4,-2 1.3,-2 1.2,-6 -0.9,-2 0.8,-4 -0.8,-2 -1.2,-6 -0.7,-2 -1.8,-2 -9,-6 0.1,-2 -3.3,-2 0.5,-2 -1.9,-1.9 0.8,-2.1 -1.4,-2 1.4,-2 -0.6,-2 1.4,-2 -2.4,-2 2.2,-2 0.8,-6 -1.1,-2 0,-2 4.6,-4zM102.7,28l1.3,-0.4 4,0 4,-1.2 2,-0.1 4,1.2 2,1.5 2.4,1 -0.1,2 -0.7,2 1.4,2 -1.6,2 1.4,2 -1.9,2 1.6,2 -2.1,2 2.3,2 -0.9,2 -0.5,4 1.5,2 -0.2,2 1.7,2 -0.1,2 2.8,2 4,2 1.9,4 0.2,2 3.5,4 -0.6,2 0.8,2 1.8,2 -1.1,2 0.3,2 1.2,2 -1.4,2 0.4,2 -0.7,2 2.2,2 -1.5,2 -0.3,2 0.2,2 -0.8,2 1.4,2 -2.1,2 -0.9,2 0.3,6 -1.1,2 -2.7,3.6 -4,3.3 -2,0.2 -2,-0.4 -4,-1.5 -2,-1.2 -1.8,-8 0,-2 -1.6,-2 0.3,-2 1.4,-2 -1.6,-2 0.3,-2 1.6,-4 2.2,-2 -1.7,-2 0.4,-2 -0.7,-2 1.6,-2 -0.7,-4 1.4,-2 -0.6,-2 1.4,-2 0.5,-2 -1.6,-2 0.8,-2 -0.6,-2 -1,-1.1 -2.7,-0.9 -1.3,-1.7 -2,-0.6 -2.7,0.3 1.9,2 -4.1,0 -3,-2 2.2,-2 -7,-6 1.1,-2 -1.7,-2 1.3,-1.8 -2.2,-2.2 1.2,-2 -2.7,-2 2.8,-2 -2,-2 -0.1,-2 -1.4,-2 1.1,-2 0,-2 0.6,-2 2,-2 3.4,-2zM-2,96l0,-0.5 3.6,0.5 -1.2,2 0.4,2 -0.4,2 -0.4,0.5 -2,0.5 0,-7zM-2,106l0,-1.5 4,1.5 -2,0.8 -2,0 0,-0.8z" fill="#b6ff00"/>
<path d="M49.9,24l2.1,0 2,0.9 2.6,3.1 2.6,2 0,4 1.1,2 -1.5,2 3.1,2 -1,2 1.4,2 -1.2,2 1.7,2 -2.1,2 2.1,2 -0.3,2 2.3,2 -0.5,2 0.3,2 2.7,4 -0.3,2 1.5,2 0,2 1.5,1.4 3.3,4.6 2.5,6 -0.2,2 1.2,4 -2,2 -1.5,4 2.1,2 -1.1,2 -0.1,2 -1.1,2 -0.4,2 2.6,2 -3.2,2 -2.1,2.5 -3.4,-0.5 -0.6,-2 2.6,-2 -5.5,-2 -0.6,-2 0.5,-2 -1,-4 -1.3,-2 -0.1,-4 1,-2 -0.1,-2 1,-4 -0.8,-2 1.9,-2 0.9,-2 -2.1,-2 -0.6,-2 1.2,-2 -1.5,-2 0.5,-1.6 0.7,-0.4 -12.6,-8 0.5,-2 -3.5,-2 -0.2,-2 -2.5,-2 0.9,-2 -1,-2 1.7,-2 -1.4,-2 1.4,-1.8 -2,-2.2 1.6,-2 -0.3,-2 1.2,-4 -1,-2 -0.2,-2 2.7,-1.6 1.9,-0.4zM110,32l2,-1.3 2,-0.4 2,0.3 2.2,1.4 0,2 1.3,2 -1,2 0.2,2 -1.1,2 1.7,2 -3,2 2.8,2 -1.1,2.7 -1,1.3 -3.8,2 2.8,2 -2,1.2 -4,0.7 -2.6,-1.9 -0.3,-4 -0.8,-2 1.6,-2 -6.3,-2 1.9,-2 -2.2,-2 -1.2,-4 2.7,-2 -0.8,-2 2,-0.6 4,-0.4 2,-1zM122.9,70l1.1,-1 2,-0.4 2,0.7 0.8,0.7 -0.2,2 1.4,0.5 3.8,3.5 -1.1,2 1.3,2 2.3,2 -0.9,2 0,2 1.4,2 -1,2 0.5,2 -0.6,2 2.1,2 -1.5,2 -0.4,2 0.2,2 -0.9,2 1.5,2 -2,2 -0.9,2 -0.1,4 0.5,2 -2.2,2.8 -2,1.7 -4,1.4 -4,-0.1 -2,-1.2 -0.8,-4.6 -1.1,-2 -0.3,-2 -1.4,-2 0.7,-2 1.4,-2 -1.7,-2 0.5,-2 1.5,-4 2.3,-2 -2,-2 0.1,-2 -0.5,-2 1.7,-2 0.1,-4 1.2,-2 0.2,-2 2.1,-1.9 -1.5,-4.1 1.8,-2 -1.4,-2z" fill="#ffff00"/>
<path d="M49.1,26l2.9,0.3 4.4,3.7 0.1,4 1.5,2 -1.5,2 2.9,2 -0.9,2 0.7,2 -2,2 2.3,2 -1.5,2 2.5,6 -0.5,0.5 -2,0.4 -2,-0.3 -4,-2.5 -0.1,-2.1 -3.5,-2 0.2,-2 -0.8,-2 2.2,-2 -2.5,-2 1.6,-2 -2.3,-2 1.7,-2 -0.7,-2 0.3,-2 1.3,-2 -1.1,-2 0.8,-2zM107.8,38l2.2,0.4 3,1.6 -1,2 -2,0.5 -1.6,-0.5 0.4,-2 -1,-2zM67.8,80l2.2,0 2,1.3 1.7,6.7 -1.7,1.9 -1.9,4.1 1.8,2 -1.9,0.6 -4,-1.1 -1.8,-1.5 -0.4,-2 0.5,-2 -0.5,-2 0.2,-2 2,-4.6 1.8,-1.4zM127.7,80l2.3,0 3.2,2 -0.8,2 0,2 1.3,2 0.7,4 -0.3,2 2.2,2 -1.9,2 -0.3,2 0.2,2 -0.9,2 1.5,2 -1.9,2 -0.9,2 0.3,2 -0.4,2 0.5,2 -5.8,4 -2.7,0.3 -1.1,-0.3 -0.9,-1.2 -0.7,-2.8 -1.6,-2 -0.4,-2 -1.2,-2 2.2,-4 -1.6,-2 1.3,-4 0.8,-2 2.3,-2 -2.1,-2 -0.5,-4 1.8,-2 1.7,-4.9 2,-2.4 1.7,-0.7z" fill="#ffb600"/>
<path d="M53.5,36l0.5,-0.3 0.5,0.3 -0.3,2 1.8,1.9 -2,2 -0.3,-1.9 -3.7,-1.9 3.5,-2.1zM125,88l1,-1 2,0 2,1.8 2,3 0.2,2.2 2.4,2 -2.2,2 -0.2,2 0.4,2 -0.9,2 1.6,2 -1.9,2 -1.1,2 0.5,2 -1.1,2 0.2,2 -3.9,1 -2,-0.7 -2,-1.8 -2.2,-4.5 2.2,-3.9 -1.3,-2.1 1.1,-4 1.1,-2 2.3,-2 -2.2,-2 -0.2,-2 0.2,-2 2,-2z" fill="#ff6d00"/>
<path d="M126.8,94l1.2,-0.7 0.4,0.7 3.6,2 -2.8,2 1.6,4 -0.8,2 1.6,2 -3.3,4 0.1,2 -2.4,1.6 -2,-0.5 -2.3,-3.1 0.8,-2 1.3,-2 -1,-2 0.9,-2 0.1,-2 4.2,-4 -1.2,-2z" fill="#ff2400"/>
</g>
<rect x="29.8" y="36.5" width="164.9" height="144.3" fill="none" stroke="#222" stroke-width="0.7"/>
<text x="30.4" y="193.0" font-size="8.6" text-anchor="middle" font-family="'Liberation Sans', sans-serif" >0</text>
<text x="57.3" y="193.0" font-size="8.6" text-anchor="middle" font-family="'Liberation Sans', sans-serif" >15</text>
<text x="84.2" y="193.0" font-size="8.6" text-anchor="middle" font-family="'Liberation Sans', sans-serif" >30</text>
<text x="111.1" y="193.0" font-size="8.6" text-anchor="middle" font-family="'Liberation Sans', sans-serif" >45</text>
<text x="138.0" y="193.0" font-size="8.6" text-anchor="middle" font-family="'Liberation Sans', sans-serif" >60</text>
<text x="164.9" y="193.0" font-size="8.6" text-anchor="middle" font-family="'Liberation Sans', sans-serif" >75</text>
<text x="191.8" y="193.0" font-size="8.6" text-anchor="middle" font-family="'Liberation Sans', sans-serif" >90</text>
<text x="25.0" y="183.7" font-size="8.6" text-anchor="end" font-family="'Liberation Sans', sans-serif" >0</text>
<text x="25.0" y="169.3" font-size="8.6" text-anchor="end" font-family="'Liberation Sans', sans-serif" >5</text>
<text x="25.0" y="154.9" font-size="8.6" text-anchor="end" font-family="'Liberation Sans', sans-serif" >10</text>
<text x="25.0" y="140.5" font-size="8.6" text-anchor="end" font-family="'Liberation Sans', sans-serif" >15</text>
<text x="25.0" y="126.1" font-size="8.6" text-anchor="end" font-family="'Liberation Sans', sans-serif" >20</text>
<text x="25.0" y="111.7" font-size="8.6" text-anchor="end" font-family="'Liberation Sans', sans-serif" >25</text>
<text x="25.0" y="97.3" font-size="8.6" text-anchor="end" font-family="'Liberation Sans', sans-serif" >30</text>
<text x="25.0" y="82.9" font-size="8.6" text-anchor="end" font-family="'Liberation Sans', sans-serif" >35</text>
<text x="25.0" y="68.5" font-size="8.6" text-anchor="end" font-family="'Liberation Sans', sans-serif" >40</text>
<text x="25.0" y="54.1" font-size="8.6" text-anchor="end" font-family="'Liberation Sans', sans-serif" >45</text>
<text x="25.0" y="39.7" font-size="8.6" text-anchor="end" font-family="'Liberation Sans', sans-serif" >50</text>
<path d="M30.4,180.8v3M57.3,180.8v3M84.2,180.8v3M111.1,180.8v3M138.0,180.8v3M164.9,180.8v3M191.8,180.8v3M43.8,180.8v1.8M70.7,180.8v1.8M97.6,180.8v1.8M124.5,180.8v1.8M151.4,180.8v1.8M178.3,180.8v1.8M29.8,180.8h-3M29.8,166.4h-3M29.8,152.0h-3M29.8,137.6h-3M29.8,123.2h-3M29.8,108.8h-3M29.8,94.4h-3M29.8,80.0h-3M29.8,65.6h-3M29.8,51.2h-3M29.8,36.8h-3M29.8,173.6h-1.8M29.8,159.2h-1.8M29.8,144.8h-1.8M29.8,130.4h-1.8M29.8,116.0h-1.8M29.8,101.6h-1.8M29.8,87.2h-1.8M29.8,72.8h-1.8M29.8,58.4h-1.8M29.8,44.0h-1.8" stroke="#222" stroke-width="0.7" fill="none"/>
<text x="112.5" y="207.7" font-size="10" text-anchor="middle" font-family="'Liberation Sans', sans-serif" >time [ns]</text>
<text transform="translate(9.0,111.4) rotate(-90)" font-size="10" text-anchor="middle" font-family="'Liberation Sans', sans-serif">distance from electrode [mm]</text>
<text x="0.3" y="27.8" font-size="11" text-anchor="start" font-family="'DejaVu Sans', sans-serif" >(a)</text>
<text x="29.5" y="30.5" font-size="9.5" font-family="'Liberation Sans', sans-serif">θ<tspan font-size="6.3" dy="1.8">hf</tspan><tspan dy="-1.8">= 0°</tspan></text>
<rect x="206.2" y="39.0" width="10.2" height="141.5" fill="url(#cb)"/>
<text x="219.8" y="181.7" font-size="7.6" text-anchor="start" font-family="'Liberation Sans', sans-serif" >0.0</text>
<text x="219.8" y="167.8" font-size="7.6" text-anchor="start" font-family="'Liberation Sans', sans-serif" >2.4</text>
<text x="219.8" y="153.8" font-size="7.6" text-anchor="start" font-family="'Liberation Sans', sans-serif" >4.8</text>
<text x="219.8" y="139.9" font-size="7.6" text-anchor="start" font-family="'Liberation Sans', sans-serif" >7.2</text>
<text x="219.8" y="125.9" font-size="7.6" text-anchor="start" font-family="'Liberation Sans', sans-serif" >9.6</text>
<text x="219.8" y="112.0" font-size="7.6" text-anchor="start" font-family="'Liberation Sans', sans-serif" >12.1</text>
<text x="219.8" y="98.0" font-size="7.6" text-anchor="start" font-family="'Liberation Sans', sans-serif" >14.5</text>
<text x="219.8" y="84.1" font-size="7.6" text-anchor="start" font-family="'Liberation Sans', sans-serif" >16.9</text>
<text x="219.8" y="70.1" font-size="7.6" text-anchor="start" font-family="'Liberation Sans', sans-serif" >19.3</text>
<text x="219.8" y="56.2" font-size="7.6" text-anchor="start" font-family="'Liberation Sans', sans-serif" >21.7</text>
<text x="219.8" y="42.2" font-size="7.6" text-anchor="start" font-family="'Liberation Sans', sans-serif" >24.1</text>
<text transform="translate(251.5,105.2) rotate(-90)" font-size="10" text-anchor="middle" font-family="'Liberation Sans', sans-serif">excitation rate [a.u.]</text>
</g>
<g transform="translate(265.6,0.0)">
<g transform="translate(29.8,36.5)" clip-path="url(#pc)" stroke="#001020" stroke-opacity="0.6" stroke-width="0.55" stroke-linejoin="round">
<rect x="0" y="0" width="164.9" height="144.3" fill="#0812ec"/>
<path d="M-2,-2l12.9,0 5,4 -3.9,1.4 -0.6,0.6 1.5,2 -2.4,2 -0.8,6 2,2 -2.1,2 0.4,1.8 1.8,2.2 -1.2,2 2.2,2 -0.7,2 1.4,2 -1.3,2 1.5,4 -1,2 5.3,5.2 1.2,2.8 -1.2,1.8 -2,0.6 -0.6,1.6 -1.4,1.8 0,2.2 4.2,2 -0.3,4 0.9,2 -0.6,4 1.7,2 1.8,4 -0.7,2 2.1,2 -1,2 2.4,2 -1.4,2 2.6,2 -0.1,2 -1,2 -0.2,2 1.2,2 -1.1,2 -0.5,2 1,2 -0.1,2 0.7,2 -0.4,2 0.2,4 -0.6,2 0.3,4 0.5,2 -0.9,2 0.9,2 -0.2,2 -1.9,2 -0.7,2 -0.5,2 0.4,2 1,2 -2.8,2 0,4 -1.3,2 1,2 -1.5,2 2.4,2 0,2 -23.5,0 0,-150zM17.5,-2l4,0 -1.5,1.4 -2,0.2 -0.5,-1.6zM24.1,-2l121.3,0 0.2,2 1.4,2 -1,2 0.3,2 -1.3,2 -1.1,6 2.9,2 -2.3,2 0.8,2 -0.3,2 0.2,2 2.8,2 0,2 1.3,2 -1.1,2 1.1,2 0.5,4 2,2 -0.4,2 0.6,1.5 0.4,-1.5 1.8,-2 -2.5,-4 0.3,-0.2 0.5,-3.8 1.3,-2 -1,-2 0.8,-2 -1.6,-1.9 -0.5,-2.1 0.5,-2 -0.2,-2 2,-2 -1.8,-1.9 0.1,-4.1 2.5,-4 -1.4,-2 0.7,-2 -0.9,-2 0.3,-2 14.7,0 0,150 -112.8,0 -1.2,-2 -0.5,-2 1,-2 -0.5,-2 2.4,-2 -2,-2 -0.6,-2 1.7,-2 -0.9,-2 -2.6,-2.3 -2,-0.1 -2,1.1 -1.2,1.3 -0.8,2 -2.9,2 -0.3,2 1.1,2 -2.6,2 3.2,2 0.3,2 -0.3,4 -11.1,0 -1,-6 -1.9,-2 0.7,-2 -1.6,-2 -0.9,-2 1.9,-2 -2.4,-4 -0.4,-2 2.8,-4 -0.4,-2 -1.7,-2 1.2,-2 -1,-2 -0.1,-2 1.2,-6 -1.2,-2 0.2,-2 -1.2,-6 0.9,-4 -1.8,-2 2.4,-6 -2.4,-2 1.8,-2 -1.9,-2 1.4,-1.9 -0.9,-2.1 0.6,-2 -0.9,-2 0,-2 -1.8,-2 1,-1.8 0,-1.3 -0.2,-0.9 -1.8,-1.9 1.4,-2.1 -1.8,-4 1,-2 0.5,-4 1.1,-2 -1.1,-2 0,-2 1,-2 -1.6,-2 0.7,-4 -0.5,-2 1.3,-2 -1.3,-2 -0.4,-2 -2.1,-2 0.5,-4 -1,-2 3.4,-2 -2.6,-2 -0.4,-2 1.9,-2 2,-3.9 0,-3.2 -1.7,-2.9 -0.2,-2zM17.5,8l0.5,-0.4 0.2,0.4 -0.7,0z" fill="#081ded" stroke="none"/>
<path d="M-2,-2l9.1,0 2,4 -0.6,2 1.2,2 -1.3,2 -0.6,6 2.2,1.8 -2,2.1 0.4,6.1 2.5,2 -0.6,2 1,2 -1,2 0.2,4 -0.4,2 1.8,2 -0.5,4 1.2,2 -0.9,2 0.7,2 -1.5,4 3.7,4 -0.5,2 2.1,2 0.2,4 2,2 2,4 -0.6,2 2,2 -0.7,2 2.4,2 -1.5,1.8 2.8,2.2 -0.2,2 -1.1,2 -0.3,2 1.4,2 -1.2,2 -0.2,2 0.4,4 0.8,2 -0.6,2 0.6,2 -0.8,6 0.8,4 -1.2,2 1,2 -0.2,2 -2,2 -1.7,4 0.8,4 -3.1,1.9 -0.6,2.1 0.1,2 -2.1,2 2,2 -2.2,2 -0.2,2 2.3,2 -19.3,0 0,-150zM27.9,-2l54,0 -0.3,2 2.3,4 2.1,1.6 2,0.3 3,-1.9 1.9,-2 -0.5,-4 49.6,0 1.2,4 -0.6,2 0.6,2 -1.2,2 -0.4,2 0,4 3.2,2 -1.9,2 0.9,2 -0.3,2 0.3,2 3,2 -0.1,2 1.1,2 -0.9,2 1,4 0.6,2 1.8,2 -0.9,2 0.6,1.7 1.6,2.3 -0.5,2 0.4,4 -1.3,2 2.8,4 -1.6,2 1.9,4 0.7,0.7 0.6,-2.7 -1,-2 2.4,-1.9 -1.3,-2.1 -0.7,-2 1.4,-4 0.1,-4 -1.1,-2 -0.1,-2 1.3,-2 -1.4,-2 -0.8,-2 0.7,-4 1.2,-2 -0.8,-2 0.6,-2 -1.9,-2 -0.2,-2 0.2,-4 2.3,-2 -1.8,-2 0.7,-4 2.3,-4 -1.1,-2 0.7,-2 -1.1,-2 0.5,-2 12.3,0 0,150 -108.6,0 -0.6,-4 0.5,-2 -1.2,-2 1.4,-2 -1.9,-2 -1.1,-2 1.5,-2 -2.9,-4 -1.1,-2.5 -1.2,-1.5 -0.8,-0.1 -5.1,2.1 -0.9,1 -0.8,1 -1.2,3.9 -3.5,2.1 -0.5,2.3 0.5,1.7 -5.1,2 -4.7,-6 1.8,-2 -2.5,-4 -0.4,-2 2.4,-3.9 -0.3,-2.1 -1.7,-2 0.9,-2 -0.9,-1.9 -0.1,-2.1 0.8,-6 -0.7,-1.9 0.2,-2.1 -0.8,-2 -0.8,-4 1,-4 -1.6,-2 2.2,-6 -2.4,-2 1.7,-2 -1.9,-2 1.2,-2 -0.8,-1.9 0.5,-2.1 -0.6,-4 -1.8,-2 0.8,-2 -0.1,-2 -1.7,-2 1.8,-2 -2,-4 1.4,-2 0.2,-4 0.7,-2 -0.9,-2 -0.1,-2 1,-2 -1.2,-2 -0.1,-2 0.4,-2 -0.2,-2 1.1,-2 -0.8,-2 0.3,-2 -2,-2 0.3,-4 -0.5,-2 3.3,-2 -1.8,-1.9 0,-1 0.7,-3.1 1.2,-2 0.6,-2 0.5,-4 -1,-2 -0.1,-2zM37.9,148l0.6,0 -0.5,0z" fill="#072eee" stroke="none"/>
<path d="M-2,-2l6,0 0.8,2 1.6,2 0.1,2 1.5,2 -1.1,2 -0.5,2 0.1,4 2.5,2 -2.2,2 0,4 0.2,2 2.5,2 -0.5,2 0.8,2 -0.9,2 -0.2,4 0.2,2 1.5,2 -0.9,2 0.1,2 1.3,2 -0.9,2 0.6,2 -1.4,4 3.3,4 -1,2 2.2,2 0.8,4 2.3,2 2.2,4 -0.3,2 2,2 -0.7,2 2.5,2 -1.5,2 2.8,2 -0.2,2 -1.4,4 1.4,2 -1,2 -0.4,2 1.2,6 -0.6,2 0.6,2 -0.8,6 0.7,4 -1.3,2 1,2 -0.3,2 -3.7,4 -0.9,2 -0.1,2 -1,2 -9.4,2 0.1,2 1.1,2 -1.6,2 -6.1,4 1.7,2 -0.8,1.3 -1,0.7 -3,0 0,-150zM30.2,-2l49,0 0.1,2 1.1,2 0.3,2 1.7,2 -0.5,2 1.3,2 2.8,0.4 4,-0.5 4.3,-1.9 1,-2 4,-4 -0.8,-2 -0.2,-2 40.4,0 0.5,6 0.9,2 -1,2 0.5,6 3.2,2 -1.5,2 1,2 -0.1,2 0.5,2 2.9,2 -0.1,2 1.2,2 -1,2 1.6,6 1.8,2 -1,2 2.3,4 -0.5,2 0.6,2 -0.2,2 -1.1,2 2.5,4 -1.7,1.9 1.1,2.1 0.3,2 -0.4,2 1.7,2 0.7,2 0.6,0.5 0.9,-0.5 1.3,-2 -1.2,-2 1,-1.8 0.2,-2.2 -1.2,-2 2.1,-2 -2,-4 1.2,-2 0.4,-6 -1.2,-2 -0.1,-2 1.3,-2 -1.5,-2 -0.5,-2 0.5,-4 1.4,-2 -0.7,-2 0.6,-2 -2,-2 0,-2 0.1,-4 2.4,-2 -1.7,-2 1.2,-4 2.2,-4 -0.9,-2 0.8,-2 -1.3,-2 0.5,-2 10.2,0 0,144 -6,1.5 -4,-2.1 -1.2,-1.4 0.2,-2 -0.8,-2 0.4,-2 2.1,-2 -2.2,-4 -0.3,-2 2.2,-4 -0.2,-2 -2.2,-2.7 -2,0.1 -0.7,0.6 0.6,2 -0.3,2 -2,2 -1.1,2 -0.1,2 2.3,4 -2.3,2 0.3,2 1.2,2 -1.4,2 5.5,3.7 1.8,2.3 -1.8,2 -91.9,0 -1.1,-6 -1.7,-2 1.1,-2 -2,-2 -1.3,-2 1.1,-2 -3.1,-4 -1.3,-2 0.2,-2 -2,-2.2 -2,0.3 -8,3.9 -1.4,2 -0.2,2 -1.3,2 -5.1,2.3 -2.2,-0.3 0.9,-2 -1.8,-2 -1.1,-2 -0.4,-2 0.5,-2 1.4,-2 -0.3,-2 -1.9,-2 0.9,-1.9 -1.1,-2.1 0.8,-8 -0.9,-2 0.3,-2 -1.6,-6 1,-4 -1.7,-2 2.1,-6 -2.4,-2 1.8,-2 -1.9,-2 1.2,-2 -1,-2 0.6,-2 -0.6,-4 -1.7,-2 0.9,-2 0,-2 -1.5,-2 1.7,-1.9 -1.9,-4.1 1.3,-2 0.1,-4 0.7,-2 -1.2,-2 0,-2 1.2,-2 -1.4,-2 -0.1,-2 0.3,-4 1.3,-2 -0.7,-2 0.6,-2 -2.1,-2 0.4,-4 -0.3,-2 2.9,-2 -1.8,-2 1.2,-4 2,-4 -0.1,-2 0.7,-2 -0.8,-2 -0.1,-2zM166.5,148l1.5,-0.8 0,0.8 -1.5,0z" fill="#0641f0" stroke="none"/>
<path d="M-2,-2l2.5,0 1.2,2 2.3,2 0.7,2 1.8,2 -1.4,4 0.2,4 2.6,2 -2.2,2 0,4 0.2,2 2.5,2 -0.5,2 0.9,2 -1.1,2 -0.3,4 0.4,2 1.5,2 -1.1,2 0.3,2 1.2,2 -0.7,2 0.3,2 -0.2,2 -1.1,2.2 3.2,3.8 -1.4,2 2.1,2 0.9,2 0,2 2.6,2 2.3,4 -0.1,2 2,2 -0.5,2 2.5,2 -1.5,2 2.9,2 -0.2,2 -1,2 -0.3,2 1.3,2 -1,2 -0.4,2 0.5,4 0.7,2 -0.7,2 0.6,2 -0.8,6 0.5,4 -1.3,2 1,2 -0.4,2 -5.5,5.3 -2,1.2 -4,0.9 -1,0.6 -1,2 -4,1.9 -0.5,2.1 -1.5,1.5 -4,1 0,-140.5zM32.1,-2l45.2,0 0.1,2 1.1,2 0,2 1.5,1.9 -0.1,4.1 2.1,2 2,0.8 2,0.1 4,-0.8 11.1,-4.1 2.9,-2.6 0.8,-1.4 0.3,-2 -1.1,-2 -0.5,-2 32,0 0,2 0.9,4 1.1,2 -0.6,2 0.1,2 0.8,2 0.1,2 3.3,2 -1.2,2.2 1.1,1.8 0.6,4 3,2 -0.1,2 1.1,2 -0.9,2 0.8,4 0.8,2 1.6,1.9 -0.7,2.1 0.7,2 1.5,2 -0.4,2 0.5,2 -0.1,2 -1.2,2 2.7,4 -1.9,2 1.1,2 0.3,2 -0.7,2 1.8,2 0.4,2.3 1.9,1.7 2.1,-0.5 0.7,-1.5 0.6,-2 -1,-2 0.8,-2 0,-2 -1,-2 1.9,-1.9 -1.9,-4.1 1.1,-2 0.5,-6 -1.2,-2 -0.1,-2 1.3,-2 -1.5,-2 -0.5,-2 0.6,-4 1.4,-2 -0.7,-2 0.7,-2 -2.1,-2 0.3,-6 2.6,-2 -1.7,-2 2.4,-6 1.6,-2 -0.6,-2 1.1,-2 -1.9,-2 0.5,-2 8.1,0 0,138 -6,0.4 -2,-1.2 -0.4,-1.2 1.9,-2 -2.9,-4 -0.6,-2 2,-3.9 -0.2,-2.1 -1.5,-2 -0.1,-2 -2.2,-1.5 -2,1.1 -2.2,2.4 1.2,2 -0.6,2 -1.9,2 -1.2,2 -0.2,2 1.9,4 -2.7,2 -0.6,2 1.1,2 -2.7,2 0.7,4 1.4,2 -0.9,2 -79.1,0 -0.3,-2 2.1,-1.9 3.4,-0.1 -3.4,-0.1 -2,-1.1 -3,-2.8 0.5,-2 -2.7,-2 -1.3,-2 0.8,-2 -5,-6 -0.3,-4 -1,-0.8 -2,-0.9 -2,0.2 -10.5,5.5 -1.4,2 -0.3,2 -1.8,0.9 -2,-0.3 -0.7,-0.6 -1.5,-2 -0.5,-2 0,-2 1.3,-2 -0.4,-2 -1.9,-2 0.7,-2 -1,-1.9 -0.1,-2.1 0.7,-6 -0.9,-2 0.3,-2 -1.7,-6 0.9,-4 -1.7,-2 2.1,-6 -2.4,-2 1.8,-2 -1.9,-2 1.2,-2 -1.1,-2 0.8,-2 -0.7,-4 -1.7,-2 0.9,-2 0,-2 -1.4,-2 1.8,-2 -2.1,-4 1.5,-2 0,-4 0.5,-2 -1,-2 -0.1,-2 1.1,-2 -1.1,-2 -0.3,-2 0.5,-2 -0.1,-2 1.2,-2 -0.6,-2 0.6,-2 -2.1,-2 0.6,-4 -0.2,-2 2.9,-2 -1.8,-2 1.3,-4 2.3,-3.8 -0.1,-2.2 0.8,-2 -0.6,-2 0,-2z" fill="#0653f1" stroke="none"/>
<path d="M33.8,-2l23.8,0 -0.4,2 2.8,0.3 2.5,-0.3 0.3,-2 12.6,0 0.2,2 1,2 0,2 1.7,2 0,4 1.1,2 1.8,2 4.8,1.4 2,-0.2 2.3,-1.2 11.7,-3.9 6,-4.1 0.5,-4 -0.3,-2 -1,-2 25.2,0 0,2 3,6 -0.4,2 0.2,2 1.4,4 3.2,2 -1.2,2 1.3,2 0.9,4 3,2 0,2 1.1,2 -0.9,1.8 0.8,4.2 0.8,2 1.7,2 -0.9,2 2.3,4 -0.4,2 0.6,2 -0.1,2 -1.2,2 2.6,4 -1.9,2 1.2,2 0.2,2 -0.5,2 1.8,2 0.1,2 0.9,1.7 2,2.3 2,-0.7 1.2,-1.3 1.2,-4 -1.2,-2 0.8,-1.8 0,-2.2 -1.1,-2 2,-2 -1.4,-2 -0.7,-2 1.2,-1.8 0.3,-2.2 -0.1,-2 0.4,-2 -1.2,-2 -0.1,-2 1.3,-2 -1.6,-2 -0.3,-2 0.6,-4 1.5,-2 -0.7,-2 0.7,-2 -2,-2 0.5,-6 2.7,-1.9 -1.6,-2.1 3.6,-6.6 2,-0.7 4,0.1 0,122.5 -4,0 -2,-0.7 -0.5,-0.6 -1.5,-1.9 0.5,-2.1 1.2,-2 -0.3,-2 -1.4,-1.9 0.2,-2.1 -3.5,-4 -0.7,-0.3 -2,0.4 -1.2,1.9 0.1,2 -1.9,2 1,2 -0.4,2 -2,2 -1.3,2 -0.4,2 1.6,4 -3,2 -1,2 0.9,2 -4.1,2 -2.3,2.4 -4.3,1.6 -0.6,4 -37.1,0 2.2,-2 -2,-2 -2.2,-0.6 -8,-0.7 -4,-1 -6,-0.3 -6.9,-1.4 -1.1,-0.8 -0.6,-1.2 -4.1,-2 -1.5,-2 0.6,-2 -5.6,-6 -0.3,-4 -2.2,-2 -2.3,-1 -2,-0.5 -5.3,3.5 -6.7,3.2 -2,0.8 -2,-0.1 -1.2,-1.9 1,-2 -0.4,-2 -2.1,-2 0.7,-1.8 -1.1,-2.2 -0.1,-2 0.5,-6 -0.8,-2 0.2,-2 -1.8,-6 1,-4 -1.7,-2 2,-6 -2.2,-1.9 1.6,-2.1 -1.9,-2 1.2,-2 -1,-2 0.6,-2 -0.5,-4 -1.7,-2 0.7,-2 0.1,-2 -1.1,-1.8 1.7,-2.2 -2.1,-4 1.3,-2 0,-4 0.6,-2 -1.1,-2 -0.1,-2 1.2,-2 -1.2,-2 -0.2,-2 0.3,-4 1.3,-2 -0.6,-2 0.8,-2 -2.1,-2 0.1,-2 0.5,-2 -0.1,-2 2.7,-2 -1.7,-2 1.5,-4 2.7,-4 -0.3,-2 1,-2 -0.6,-2 0.2,-2zM-2,2l0,-0.5 2,0.2 2,1.1 2.9,3.2 -1.1,4 0.5,4 2.7,2 -2.2,2 -0.1,4 0.2,2 2.6,2 -0.5,2 0.8,2 -1,2 -0.5,4 0.6,2 1.4,2 -1,2 0.3,2 1.2,2 -0.8,2 0.1,4 -1.1,2 3,4 -1.3,2 1.9,2 0.8,2 0,2 2.6,1.9 2.5,4.1 0.1,2 1.9,2 -0.4,2 2.7,2 -1.5,2 2.9,2 -0.1,2 -1.4,4 1.3,1.9 -1.3,4.1 1.1,6 -0.7,2 0.6,2 -0.9,8 0.5,2 -1.3,1.9 0.8,2.1 -0.6,2 -6.2,4.2 -6,1.8 -2.9,4 -5.1,2 -2,1.2 0,-133.2z" fill="#0565f3" stroke="none"/>
<path d="M35.1,-2l18.9,0 0.4,2 3.6,1.2 4,0.3 2,-0.2 2.7,-1.3 -0.7,-1.7 7.3,-0.3 1.7,6 1.9,2 0.2,4 0.8,2 1.4,2 4.7,2.3 2,0.5 5.1,-0.8 3.8,-2 10.5,-4 3.2,-2 2.3,-2 0.2,-4 -0.9,-4 19.8,0 0.2,2 1.6,2 0.6,2 1.4,2 -0.3,2 0.3,2 1.6,4 3.2,2 -1,2 1.4,2 1,4 3.1,2 0.1,2 1,2 -1,2 0.8,3.8 1,2.2 1.7,2 -1,2 2.3,4 -0.3,2 0.6,2 -0.2,2 -1,2 2.6,4 -1.9,2 1.2,2 0.3,2 -0.7,2 1.8,2 0.2,2 0.9,2 0.4,2 2.1,1.2 2,0.1 2,-2.6 1.2,-4.7 -1.1,-2 0.8,-2 -0.2,-2 -1.1,-2 2,-2 -1.4,-2 -0.7,-2 1.3,-2 0,-4 0.5,-2 -1.1,-2 -0.1,-2 1.2,-2 -1.5,-2 -0.3,-2 0.7,-4 1.5,-2 -0.6,-2 0.7,-2 -2,-2 0.9,-6 3.2,-2 -1.4,-2 1.5,-1.6 6,-0.2 0,105.3 -4,0 -3.8,-3.5 -0.6,-2 -1.6,-1.5 -2,-0.2 -2,0.7 -2,2.3 0,2.6 -1.7,2.1 1.2,2 -0.5,2 -3.4,4 -0.5,2 1.2,4 -3.3,2 -1.3,2 0.5,2 -5,2 -3.5,2 -6.2,2 0.7,2 -1.2,2 -22.7,0 -0.8,-2 -1.7,-2 -4.9,-2 -8.9,-0.9 -6,-1.1 -12,-2.6 -4,-1.3 -2.2,-2.1 0.5,-2 -6.3,-5.9 -0.4,-4.1 -2,-2 -3.5,-2 -2.1,-0.7 -3,0.7 -1.5,2 -3.4,2 -6.1,2.3 -0.9,-0.3 0.2,-2 -0.8,-2 -2.2,-2 0.7,-2 -1.3,-2 -0.1,-4 0.4,-3.9 -0.9,-2.1 0.2,-2 -1.9,-6 1,-4 -1.7,-2 1.9,-6 -2.3,-2 1.7,-1.8 -1.8,-2.2 1.2,-2 -1.1,-2 0.7,-2 -0.5,-4 -1.7,-2 0.8,-2 0.1,-2 -1.3,-2 1.9,-2 -2.2,-4 1.4,-2 -0.1,-4 0.6,-2 -1.2,-2 0,-2 1.2,-1.9 -1.2,-2.1 -0.3,-2 0.4,-4 1.3,-2 -0.6,-2 0.8,-2 -2,-2 0.1,-2 0.6,-2 -0.1,-2 2.8,-2 -1.7,-2 1.5,-4 2.9,-4 -0.3,-2 1.1,-2 -0.6,-2 0.4,-2zM-2,4l2,-0.2 3.4,2.2 -0.7,4 0.7,4 2.9,2 -2.3,2 -0.1,4 0.2,2 2.6,2 -0.5,2 0.8,2 -1,1.8 -0.6,4.2 0.8,2 1.4,2 -1.1,2 0.3,2 1.2,1.9 -0.7,2.1 0.1,4 -1.2,2 3,4 -1.4,2 1.9,2 0.6,2 0,2 2.8,2 2.4,4 0.2,2 2,2 -0.4,2 2.7,1.9 -1.3,2.1 2.9,2 -0.1,2 -1.4,4 1.4,2 -1,2 -0.4,2 1.1,6 -0.7,2 0.6,2 -1.1,8 0.5,2 -1.5,2 0.9,2 -1,2 -2.9,1.9 -4,1.6 -4,0.9 -2,1.1 -2,2.8 -2,1.5 -4,0.3 0,-128.1zM163.6,120l0.4,-1.1 3.6,1.1 -3.6,1.2 -0.4,-1.2z" fill="#047bf4" stroke-opacity="0.22"/>
<path d="M37.2,-2l14.1,0 0.4,2 6.3,2.9 6,0.7 6,-0.1 2,0.8 2.4,1.7 0.6,4 2.1,4 4.2,2 -0.1,2 2.8,1 2,-0.1 11.1,-2.9 3.6,-2 5.7,-2 6.8,-4 2.4,-2 0.4,-2 -0.4,-2 -1.6,-2 1.8,-2 9.8,0 3.4,6 2.1,2 0.3,4 2,4 3.5,2 -0.9,1.8 1.5,2.2 1.3,4 3.1,2 0.2,2 1.1,2 -1.1,2 0.9,4 0.9,2 1.8,2 -1,2 2.4,4 -0.3,2 0.5,2 -0.1,2 -1,2 2.7,4 -2,2 1.3,2 0.3,2 -0.8,2 1.9,2 0.8,6 2.4,2 0.5,2 0.7,0.3 2,-0.1 3.2,-2.2 0.1,-2 1.1,-2 0.5,-4 -1.2,-2 0.6,-2 -0.4,-2 -1,-2 1.9,-2 -1.5,-2 -0.6,-2 1.3,-2 -0.1,-4 0.7,-2 -1.2,-2 0.1,-2 1.2,-2 -1.6,-2 -0.2,-2 0.9,-4 1.7,-2 -0.4,-2 0.9,-2 -2,-2 2,-2.8 4,1.5 2,0.3 0,81 -6,0 -1.8,2 -6.2,3.1 -2,1.9 -1.3,3 0.4,2 -1.7,2 1.2,2 -0.6,1.8 -3.6,4.2 -0.7,2 0.7,4 -4.1,2 -4.3,3.8 -4,1.1 -6,2.6 -6,0.6 -14,-0.6 -16,-2.8 -11.2,-2.7 -8.8,-1.1 -2,-0.5 -0.6,-0.4 0.2,-2 -1.6,-1.9 -4,-2.4 -1.8,-1.7 -0.9,-4 -1.9,-2 -3.1,-2 -2.2,-2 -2.1,-0.2 -4,1.1 -2.6,1.1 -1.4,1.3 -2,1 -2,0.1 -3.4,-2.4 0.3,-2 -1.6,-2 -0.4,-2 0.2,-6 -0.9,-2 0.1,-2 -2,-6 0.9,-4 -1.7,-2 1.9,-6 -2.3,-2 1.8,-2 -1.9,-2 1.2,-2 -1.1,-2 0.7,-2 -0.5,-4 -1.7,-2 0.8,-2 0.1,-2 -1.3,-2 1.9,-2 -2.1,-4 1.4,-2 -0.2,-4 0.4,-2 -1,-2 -0.1,-2 1.2,-2 -1.2,-2 -0.3,-2 0.6,-4 1.2,-2 -0.6,-2 0.9,-2 -2,-2 0.2,-2 0.7,-2 0,-2 2.6,-2 -1.7,-2 1.8,-4 3.1,-3.9 -0.1,-2.1 1.5,-2 -0.7,-2 0.5,-2zM-2,8l0,-0.5 2,0.2 0.1,2.3 1.8,4 3.1,2 -2.4,2 0,4 0.2,2 2.6,2 -0.5,2 0.8,2 -1.2,2 -0.5,4 2.4,4 -1.1,2 0.4,2 1.2,2 -0.8,2 0.2,4 -1.1,2 2.7,4 -1.4,2 1.8,2 0.5,2 -0.1,2 2.8,2 2.3,4 0.3,2 1.9,1.9 -0.1,2.1 3,2 -1.3,2 2.9,2 -0.1,2 -1.3,4 1.4,2 -1,2 -0.4,2 1.1,6 -0.8,2 0.5,2 -1.2,8 0.4,2 -1.9,2 0.8,2 -2.3,2 -12.2,4 -3.5,2.4 -2,0.1 0,-120.5z" fill="#0398f7" stroke="none"/>
<path d="M39.7,-2l8.9,0 0.4,2 4,2 2.8,2 8.2,1.6 6,0.4 0.7,2 4.2,6 4.5,2 -0.9,2 3.5,2.6 2,0.4 4,-0.6 6,-2.5 9.1,-1.9 2.9,-2 4.6,-2 3.2,-2 6.5,-2 3.7,-1.7 1.8,-0.3 2.2,1.6 0.7,2.4 2.2,4 4.2,2 -1,2 1.8,2 1.6,4 3.2,2 0.3,2 1,1.9 -1.1,2.1 0.9,4 2.8,4 -1,2 2.4,4 -0.2,2 0.6,2 -0.2,2 -1,2 2.8,4 -2,2 1.3,2 0.3,2 -0.8,2 1.9,2 0.6,4 -0.1,2 2.1,2 -0.4,2 5.1,3.1 6,0.5 6,1.7 0,5.7 -4.7,1 2,2 -3.3,1.1 -1,0.9 -2.2,6 0.3,2 -3,2 -1,2 -3.1,3.2 -2,2.8 -0.4,2 0.5,2 -1.7,2 1.3,2 -0.7,2 -4,4 -1,2 0,4 -16,6.8 -10,0.9 -12,-1.1 -14,-2.3 -9.4,-2.3 -2,-2 -8.6,-1.9 -3.1,-2.1 -2.9,-1.1 -2,-2 -0.7,-2.9 -2,-2 -3.2,-2 -1.1,-2 -3,-1.4 -2,-0.4 -2,0.1 -8,2.6 -2,-0.7 -2.6,-2.2 -1.2,-4 0.2,-4 -0.9,-2 -0.1,-2 -2.1,-6 0.8,-4 -1.7,-2 1.8,-6 -2.2,-2 1.8,-2 -1.8,-1.8 0.9,-2.2 -0.9,-1.9 0.6,-2.1 -0.4,-4 -1.7,-2 0.7,-2 0.1,-2 -1.1,-2 1.8,-1.9 -2.1,-4.1 1.4,-2 -0.4,-4 0.4,-2 -1,-2 0,-2 1.3,-2 -1.3,-2 -0.3,-2 0.6,-4 1.2,-2 -0.6,-2 1,-2 -1.9,-2 0.9,-4 0,-2 2.8,-2 -1.7,-2 1.3,-2 0.5,-2 1.4,-2 2.1,-2 0.1,-2 2,-2 -0.4,-2 0.4,-2zM-2,14l0,-0.7 5.4,2.7 -2.5,2 0,4 0.4,2 2.5,2 -0.4,2 0.8,2 -1.4,2 -0.3,4 2.5,4 -0.9,2 0.3,2 1.2,2 -0.7,2 0.2,4 -1.1,2 2.6,4 -1.5,2 2,2 0.3,2 -0.4,2 2.8,2 2.4,4 0.2,2 2,2 -0.3,2 3.3,2 -1.1,2 3,2 -0.1,2 -1.2,3.9 1.2,2.1 -1.1,4 1,6 -1,2 0.6,2 -1.6,8 0.4,2 -2.7,2 0.1,2 -0.9,0.5 -12,3.9 -4,-0.5 0,-109.9zM161.7,34l0.3,-0.6 2,0.4 4,-0.3 0,25.5 -3.4,1 0.4,2 -1,0.8 -2,0.2 -1.1,-3 1.6,-2 -1.6,-2 -0.8,-2 1.5,-2 0,-4 0.7,-2 -1.1,-2 0.4,-2 1.7,-2 -2.2,-2 0.6,-4zM165.5,74l2.5,-0.3 0,4.8 -4,0.5 -2,-0.4 -0.4,-0.6 0.4,-0.6 2,-2.5 1.5,-0.9z" fill="#02b7f9" stroke="none"/>
<path d="M42.1,2l1.9,-1.9 2,0.1 4,1.4 4,2.7 12,3.8 4,2.7 3,3.2 4.9,2 -1.1,2 3.2,3.7 2,1.4 2,0.1 12,-4.6 8,-1.6 2.8,-1 2.8,-2 6.4,-2.8 8,-2 2,1.3 2.2,3.5 5.2,2 -0.9,2 1.9,2 1.8,4 3.2,2 0.5,2 1.1,2 -1.2,2 1.1,4 2.7,4 -1.1,2 2.5,4 -0.2,2 0.6,2 -0.1,2 -1,2 2.9,4 -2,2 1.3,2 0.4,2 -1,2 2,2 0.5,4 -0.3,2 2.1,2 -0.7,2 3,2 -0.5,1.8 5,2.2 0.5,2 -0.1,4 1.3,2 -1.4,2 0.3,4 -1,2 -0.2,2 -3.1,2 -0.6,2 -3.6,6 -0.3,2 0.4,2 -1.7,2 1.3,2 -0.7,2 -4.4,4 -1.4,2 -0.3,1.8 -1.5,2.2 -14.5,4.8 -8,1 -10,-0.7 -12,-3.5 -8,-0.6 -6,-2.8 -14,-4.1 -2.5,-2.1 -0.3,-2 -2.1,-2 -3.6,-2 -0.8,-2 -4.7,-2.7 -4,-0.7 -8,0.8 -2,-0.4 -0.7,-1 -1.1,-2 -0.4,-4 -1,-2 -0.2,-2 -2.3,-6 0.7,-4 -1.8,-2 1.8,-6 -2.2,-2 1.9,-2 -2.1,-2 1.1,-2 -1,-2 0.6,-2 -0.5,-2 0.2,-2 -1.7,-2 0.9,-4 -1.1,-2 1.7,-2 -2.1,-4 1.3,-1.8 -0.4,-4.2 0.4,-1.9 -1,-2.1 0.1,-2 1.2,-2 -1.3,-2 -0.3,-2 0.7,-4 1.1,-2 -0.5,-1.8 0.9,-2.2 -1.7,-2 1,-4 0.1,-2 2.7,-2 -1.6,-2 1.3,-2 0.5,-2 0.8,-1.1 3.1,-2.9 0.4,-2 2.5,-1.9zM-2,16l2.7,0 -2.2,2 -0.5,2 1,4 1.9,2 1.5,4 -1.7,2 0.1,4 2.8,4 -0.8,2 0.4,2 1.1,2 -0.6,2 0.2,4 -0.9,2 2.2,4 -1.2,1.9 2,2.1 0.1,2 -0.5,2 2.7,2 2.4,4 0.1,2 2,2 -0.4,2 3.3,2 -0.9,2 3.2,2 -1.2,6 1.2,2 -0.8,2 -0.1,2 0.6,2 0.3,4 -1.1,2 0.6,2 -0.1,2 -1,2 0,2 -0.9,2 0.2,2 -4,2 -1.7,1.9 -6,1.9 -6,0.1 0,-105.9z" fill="#01dcfc"/>
<path d="M43.6,4l2.4,-0.5 2,0.3 6.7,2.2 2.9,2 2.4,0.7 9.6,5.3 6.1,2 -1.1,2 4.7,6 4.7,2 2,0.3 2,-0.2 1.2,-2.1 4.8,-2.8 12.6,-3.2 5.4,-2 2,-1.6 4,-1.1 4,-0.6 2,0.7 0.6,0.6 6.1,2 -0.5,2 2.1,2 1.8,4 3.4,2 0.6,2 1.5,2 -1.2,2 1.1,4 2.5,3.9 -1.1,2.1 2.6,4 -0.1,2 0.7,2 -0.2,2 -1,2 3.1,3.9 -1.9,2.1 1.3,2 0.4,2 -1.3,2 2.3,2 0.1,6 2,2 -0.9,2 2.5,2 -1.2,2 3.3,2 0.9,2 -0.6,2 0.4,2 1.5,2 -0.8,2 0.9,4 -1.5,2 -0.2,2 -2.5,2 0,2 -2.9,6 -0.2,2 0.4,2 -1.9,2 1.3,2 -0.8,2 -5.2,4 -3.4,3.9 -6,2.8 -10,2.4 -4,0.4 -10,-0.8 -10,-3.8 -4,0.1 -3.4,-1 -1.5,-2 1.6,-2 -0.2,-2 -0.5,-0.4 -2,0 -8,2.5 -4,-0.1 -6,-1.8 -1.8,-2.2 -2.6,-2 -4,-2 -0.8,-2 -6.8,-4.8 -2.5,-1.2 -7.5,-0.5 -2.7,-1.5 -2.4,-4 -2.8,-8 0.4,-4 -2,-2 1.7,-6 -2.2,-2 1.9,-2 -2.2,-2 1,-2 -0.7,-1.8 0.4,-2.2 -0.5,-2 0.3,-2 -1.7,-2 0.8,-2 0.2,-2 -1.2,-2 1.7,-2 -1.4,-2 -0.8,-2 1.4,-2 -0.7,-4 0.4,-2 -0.9,-1.8 0,-1.1 1.2,-3.1 -1.2,-2 -0.4,-2 0.9,-4 1,-2 -0.6,-2 1.1,-2 -1.6,-2 1.2,-4 0,-2 2.8,-2 -1.5,-2 3.1,-5.5 3.2,-2.5 0.8,-1.3 1.6,-0.7zM-2,44l0,-1.2 2,-0.4 1.8,3.6 0.1,6 -0.6,2 1.4,4 -0.5,2 2.3,2 -1,4 2.5,1.9 2.9,4.1 -0.3,2 1.6,2 0,2 2.8,2 -1,1.9 3.7,2.1 -0.6,6 0.9,1.9 -0.6,2.1 0.2,2 0.7,2 -0.1,4 -1.1,2 0.6,4 -1.6,2 -0.1,2 -2,3.3 -0.8,0.7 -3.2,1.1 -8,1.7 -2,-0.2 0,-74.6z" fill="#00fff7" stroke="none"/>
<path d="M43.9,6l2.1,-0.5 3,0.5 3.7,2 6.7,2 4.3,4 8.7,2 -0.3,2 2.2,2 1.1,2 1.9,2 3.5,2 0.9,2 4.3,2.4 4,-0.4 0.4,-2 3.3,-2 2.8,-4 11.5,-2.9 10,-4 4,0 4.7,0.9 1,2 2.3,1.9 1.7,4.1 3.9,2 0.6,2 2,2 -1.1,2 1.2,4 2.3,4 -1.5,2 2.9,4 -0.1,2 0.8,2 -0.4,2 -1,2 3.6,4 -2,2 1.4,2 0.3,2 -1.4,2 2.4,2 0.1,6 1.9,2 -0.8,2 2.1,2 -1.5,2 3,2 0.4,2 -1.2,2 2.4,4 -1,2 1.1,2 -0.1,0.6 -0.4,1.4 -1.6,1.9 0.6,2.1 -1.8,2 0.3,2 -2.5,6 -0.1,4 -2.1,2 1.4,2 -0.9,2 -4.9,3.3 -3,2.7 -9,3.4 -8,1.7 -10,0.1 -7.6,-3.2 -7.3,-2 -1.1,-2 0.4,-6 -1.8,-2 -0.6,-1.5 -2,-0.6 -3.9,2.1 0.5,2 -2.6,2.1 -4,0.7 -6,0 -1.9,-0.8 -2.6,-2 -5.5,-1.9 -1.3,-2.1 -8.7,-6.9 -2,-0.7 -6.4,-0.4 -1.8,-2 -2.6,-2 -2.4,-6 -0.8,-4 0.2,-2 -2.2,-1.9 1.5,-6.1 -2.3,-2 1.9,-2 -2.3,-2 0.9,-2 -0.6,-2 0.4,-2 -0.5,-2 0.4,-2 -1.7,-2 0.9,-2 0.2,-2 -1.2,-2 1.5,-2 -1.5,-2 -0.7,-2 1.4,-2 -0.9,-4 0.3,-2 -0.9,-2 0.3,-2 1.1,-2 -1.3,-2 -0.4,-2 1,-4 1,-2 -0.6,-2 1,-2 -1.4,-2 1.4,-4 0.1,-2 2.9,-2 -1.5,-2 2.3,-4 5.2,-4zM-2,60l2,0.1 2.6,1.9 -1.6,4 3,1.9 3.3,4.1 -0.8,2 1.4,2 0.5,2 2.7,2 -1.7,2 3.5,2 0.4,6 1,2 -0.7,2 1.3,4 -0.2,2 -1.3,4 0.4,4 -1.8,1.8 -2.7,4.2 -3.3,1.5 -8,0 0,-55.5z" fill="#00ffd1"/>
<path d="M44.4,8l1.6,-0.4 10.4,2.4 1.6,0.8 3.3,3.2 6.2,2 1.5,2 3.4,2 1.1,2 2.1,2 3.5,2 0,2 2.4,2 0.4,2 2.1,0.9 4,-0.4 2,-0.7 2.7,-1.8 0.3,-2 5,-2 2,-2.7 2.7,-1.3 5.3,-1.3 5,-2.7 3,-0.9 2,0 6,1.1 2,1 2,1.7 0.7,1.1 0.3,2 4.8,2 0.6,2 2.6,2 -1,2.2 1.1,3.8 2.2,4 -1.8,2 3,4 -0.1,2 0.8,2 -0.4,2 -1.2,2 4.1,4 -2,2 1.3,2 0.4,2 -1.4,2 2.5,2 0.2,6 1.8,2 -0.9,2 1.8,2 -1.6,2 2.8,2 0,2 -2.1,2 3,4 -1.3,2 1.3,2 -1.9,4 0.9,2 -1.3,2 0.5,2 -0.4,2 -2,4 -0.4,4 -2.4,2 1.3,2 -0.9,2 -3.5,2 -3.4,2.9 -2,0.6 -14,3.8 -8,0.9 -4.8,-2.2 -7.2,-2 -2,-1.8 -1.2,-2.2 -0.4,-4 -1.9,-2 0.1,-2 -3.2,-2 -1.2,-2 -2.2,-0.4 -2,1.1 -1.1,1.3 0.9,2 -2.8,2 -1,1.7 -2,0.3 -12,-1.9 -2,-0.9 -4,-3.1 -1.7,-2.1 -6.3,-4.7 -2,-1 -4,-0.6 -3.9,-1.7 -3.3,-6 -0.8,-3.8 0.1,-2.2 -2.8,-2 1.7,-6 -2.6,-2 1.8,-2 -2.2,-1.8 0.7,-2.2 -0.5,-2 0.4,-2 -0.6,-2 0.5,-2 -1.6,-2 1,-2 0.3,-2 -1.4,-2 1.4,-2 -1.6,-2 -0.6,-1.8 1.2,-2.2 -0.9,-4 0.3,-2 -1,-2 1.4,-4 -1.4,-2 -0.3,-2 2.1,-6 -0.5,-2 0.9,-2 -1.3,-2 1.6,-4 0.2,-2 2.8,-2 -1.1,-1.9 2,-3.1 2,-0.9 2.4,-2.1zM-2,68l0,-1.7 4,1.6 3.8,4.1 -1.1,2 1.6,2 0.6,2 2.8,2 -1.9,2 3.2,2 0.3,6 1.2,2 -0.8,2 1.5,4 -1.8,8 0.4,2 -3.8,3.1 -4,0.9 -3.4,2 -2.6,0.3 0,-46.3z" fill="#00ffac" stroke="none"/>
<path d="M41.3,12l2.7,-1.1 4,-0.8 8,0.9 1.5,1 1.8,2 5.1,2 1,2 4.6,2 1.1,2 2.6,2 3.8,2 -0.5,2 1.9,2 1.1,2.7 2,1.8 8,0.4 2,-1.2 2,-2.5 1.6,-3.2 5.5,-2 1.7,-2 1.2,-0.6 5,-1.4 5,-2.9 2,-0.5 4,0.4 3.1,1 2.6,2 0.9,2 5.3,2 0.7,2 2.9,2 -0.9,2 1,2 0.3,2 2,4 -1.9,2 2.9,4 0.7,4 -0.4,2 -1.2,1.9 4.4,4.1 -2.2,2 1.8,3.8 -1.3,2.2 2.4,2 0.4,2 -0.9,2 0.8,2 1.9,2 -0.9,2 1.4,2 -1.8,2 2.7,2 -0.2,2 -2.1,2 0.9,2 1.7,2 -1.2,2 1.1,2 -1.3,2 0,2 0.9,2 -1,2 0.7,2 -0.1,2 -1.6,2 -0.6,2 0,2 -0.8,2 -2.6,2 1,2 -1.4,2 -6.1,3.8 -4,-0.1 -11.8,4.3 -2.2,0.1 -8,-1.2 -2.6,-0.9 -2,-2 -3.1,-2 -2.1,-4 -2.1,-2 0.5,-2 -2.6,-2 -0.4,-2 -1.5,-2 -6.1,-1 -2,0.5 -2,4.5 1.1,2 -3.1,1.5 -2,0 -4,-1.5 -1,-2 -1,-0.5 -4,1.4 -3.1,-0.9 -0.6,-2 -4.3,-1.8 -6,-4.7 -6,-2.1 -3.7,-3.4 -0.6,-2 -1.3,-2 -0.5,-2 0.2,-2 -3.2,-2 1.7,-6 -2.9,-2 1.9,-2 -2.5,-2 0.7,-2 -0.4,-2 0.3,-2 -0.4,-2 0.6,-2 -1.5,-2 1.1,-2 0,-2 -1.5,-2 1.4,-2 -1.7,-2 -0.6,-2 1.1,-2 -0.9,-4 0.2,-2 -1,-2 1.4,-4 -1.4,-2 -0.2,-2 2.2,-6 -0.6,-2 0.8,-2 -1.1,-2 1.8,-4 0.5,-2 2.5,-2 -0.7,-2 1.6,-2zM-2,72l0,-1.4 2,-0.1 2,0.4 1.9,1.1 -1,2 2.1,2 0.5,2 2.9,2 -2,2 3,2 -0.1,6 1.5,2 -1.1,2 1.3,4 -0.9,6 -1.9,4 -10.2,4.4 0,-40.4z" fill="#00ff72"/>
<path d="M46,14l2,-1.3 2,-0.5 2,0.1 2,0.5 2,1.5 4.4,1.7 -0.1,2 3.7,3.5 3.2,2.5 5.9,2 2.2,4 1.7,6 1,1.5 4,3.5 1.8,1 2.2,3 2,0.5 2,-0.9 2,-2.4 2,-3.1 0.7,-3.1 5.3,-6.2 2,-1.7 4,-2 2.6,-2.1 5.4,-2.3 2,-0.6 4,0.4 2.9,2.5 5.6,2 2.7,4 0.1,2 2.1,2 0,2 2.2,4 -2.1,2 2.8,4 -0.2,2 0.4,4 -1.3,2 1.6,2 2.6,2 -2.6,2 1.2,6 2,2 0.1,2 -0.7,2 1,2 1.6,1.8 -0.8,2.2 1.3,2 -2.4,2 3.5,2 0.2,2 -2.3,2 -0.8,2 2.9,2 -2.9,8 1.9,2 -0.5,2 0.5,4 -3.2,2 -1.1,2 1.1,2 -0.2,2 -3.2,2 0.9,2 -3.2,2 -5.7,1.2 -6,2.3 -12,1 -2,-0.4 -0.3,-2.1 -8.5,-6 1.2,-2 -2.1,-6 -0.1,-2 -5.8,-4 -6.4,-1.4 -4,0.7 -1.5,0.7 -2.3,2 1.8,0.7 0.8,1.3 -0.8,1 -2,0.2 -2,-0.9 -2,-0.2 -8,0.8 -2,-0.2 -8,-4.6 -1.4,-2.1 -4.6,-2 -0.3,-2 -1.1,-2 -2.6,-1.9 -0.3,-2.1 -2.4,-2 -0.7,-2 0.9,-2 0.2,-2 -2.4,-2 1.5,-2 -2.6,-2 0.9,-2 -1,-2 0.4,-2 -0.3,-2 0.6,-2 -1.4,-2 1,-2 -0.7,-2 -1.5,-2 1.7,-2 -2.2,-4 0.4,-2 -0.7,-4 0.2,-2 -1.3,-2 1.4,-4 -1.7,-1.9 0.2,-2.1 2.5,-6 -0.7,-1.7 0.6,-2.3 -1,-2 3,-6 3.4,-3.4 2,-0.6zM88,46.8l-1.5,1.2 1.5,0.5 1.3,-0.5 -1.3,-1.2zM-2,76l0,-1.2 2,0 2,0.8 0.5,0.4 0.1,2 3.4,2 -2.3,2 3.2,2 -0.6,6 1.5,2 -1.1,2 -0.1,8 -0.6,0.7 -3.5,1.3 0.2,2 -0.7,0.8 -2,0.4 -2,-0.7 0,-30.5z" fill="#00ff26"/>
<path d="M43.4,18l2.6,-1.4 6,-0.2 2,0.3 4,2.2 4,4.5 5.6,2.6 4.4,3.4 0.4,0.6 -0.4,2.3 2.7,5.7 1.3,1.9 -1.9,2.1 1.9,2 1.1,2 -0.2,2 1.7,2 -0.1,4 0.5,4 -1,2.2 1.4,1.8 0.5,2 -1.5,2 1.2,2 0.3,2 -0.4,4 0.4,2 -1.9,2 0.7,2 -0.7,1.2 -1.7,0.8 1.7,0.8 1.1,1.2 1,6 -2.1,0.6 -1.8,1.4 -0.4,2 0.4,2 -2.1,4 0.4,2 -2.5,2 -2,0.7 -4,0.6 -4,-0.8 -0.9,-0.5 -1.3,-2 -4.4,-2 -0.7,-2 -1.3,-2 -0.3,-2 1.2,-2 -1.5,-2 0.4,-2 -3.2,-3.5 -2,-0.7 -2,-1.8 1.6,-2 -2.9,-2 0.8,-2 -1.5,-1.9 -0.5,-6.1 -1.8,-2 1.6,-2 -2.9,-4 2.1,-2 -1.8,-4 -0.2,-4 -0.9,-2 0.3,-2 -1.7,-2 0.4,-2 1.1,-2 -1.9,-2 1.9,-6 1.1,-2 -1,-2 1.1,-2 -1.1,-2 3.6,-6zM113.4,24l2.6,-0.7 2,0.4 6.3,2.3 1.7,1.1 0.8,0.9 0.7,2 -0.6,2 2.7,2 0.7,2 2,2 1,2 -2.5,2 3.1,4 -1,2 0.8,4 -0.8,2 1.1,2 2,1.9 -2.5,2.1 0.8,2 -0.4,4 2.8,2 0.5,4 -0.2,2 0.8,2 -1.1,2 1.9,2 -1.7,2 3.8,2 0.8,2 -4.9,4 3.2,2 -2.9,6 -0.3,2 0.6,2 -0.5,2 1,2 -1,2 -3.3,4 0.8,2 -0.9,2 -3.3,2 1,2 -5,1.1 -4,1.9 -8,0.6 -2,-0.3 -3.1,-3.3 -3.6,-2 1,-2 -2.5,-2 -2.4,-4 0.6,-2 -4,-5.9 -0.3,-2.1 0.4,-2 -2.7,-2 0.8,-2 -2.2,-1 -0.6,-1 -1.4,-1.1 -5.3,-0.9 1.8,-2 1.5,-0.6 6,-0.6 1.1,-0.8 0.5,-2 -3,-2 3.4,-1.9 0,-0.4 -2,-1.5 -3.4,-0.2 0.2,-2 -4.8,-3.5 -1.6,-0.5 1.6,-0.8 1.1,-1.2 -0.5,-2 -3,-2 0.4,-0.6 2,-0.8 2,0.3 2,1 2,-1.2 2,-1.9 2,-0.8 -2,-2.6 -2.4,-1.4 0.4,-2.5 4.5,-3.5 -0.1,-4 0.4,-2 -1.9,-2 1,-2 1.8,-2 -1.4,-2 0.5,-2 4,-2 3.2,-3.2 1.5,-0.8 1.3,-2 3.8,-2 0.8,-2zM92,66.1l-1.3,1.9 1.3,0.7 2,0.1 2.6,-0.8 -4.6,-1.9zM-2,80l0,-1.3 4.6,1.3 -2.1,2 4,2 0.2,2 -1.1,4 1.7,2 -1.2,2 -1,6 -1.1,1.1 -2,-0.1 -2,-1.2 0,-19.8z" fill="#24ff00"/>
<path d="M46.3,20l1.7,-1.1 2,-0.4 4,0.4 2.4,1.1 2.4,4 4.6,2 5.9,4 -1.6,2 3.3,4 0.7,2 1.5,2 -2.4,2 3.8,4 -0.2,2 0.8,4 -1,2 2.2,4 -2,2 2.4,4 -1.1,2 1.3,2 -0.8,4 -1.2,2 0,2 -1,2 1.1,2 -3.1,2 2.8,2 0.2,2 -1,1.8 -3.1,2.2 1.4,2 -1.3,2 -0.4,2 -4.6,3.9 -2,-0.2 -4,-2 -3.4,-3.7 0.7,-2 -1.2,-4 -1.3,-2 -0.4,-2 -2.9,-2 1,-2 -3.5,-2 0.5,-2 -1.4,-2 -0.6,-2 -1.2,-2 -0.2,-2 -2.1,-1.9 2,-2 -2,-2 -1.2,-2.1 2.2,-2 -1.9,-4 0.4,-4 -1.2,-2 0.4,-2 -2.5,-2 0.2,-2 1.4,-2 -1.6,-2 1.4,-6 1.2,-2 -1,-2 1.5,-2 -1.1,-2 4.1,-4zM113.8,28l4.2,-1.5 5.3,1.5 1.2,2 -1.1,2 1.3,2 4.3,4 1.2,2 -2.5,2 3.7,4 -1.3,2 0.6,2 -0.2,4 2.9,4 -2.9,2 1.2,2 0.3,2 -0.7,2 2.7,2 0.1,2 0.9,2 -0.9,2 1.3,2 -1.9,2 2,2 -1.4,2 3.7,2 0.2,1.9 -4,3.9 1.8,2.2 -1.7,4 -1.4,2 0.9,2 -1.2,4 1.3,2 -0.7,2 -3.9,2 -0.4,4 -0.7,0.7 -5.3,3.3 -1.6,2 -3.1,0.7 -2,-0.1 -6.8,-2.6 -0.1,-2 -4.4,-6 0.1,-2 -2.2,-4 0.7,-12 -0.7,-2 0.5,-4 2.3,-2 -4.4,-2 2,-2 -1,-1.9 1.3,-2.1 -2.3,-2 1.6,-4 0.1,-2 -0.9,-2 1.9,-4 -1,-2 1.5,-2 -1.6,-4 3.4,-2 0.9,-2 -0.9,-3.1 -3.1,-2.9 0.2,-2 0.9,-1.3 1.2,-0.7 -0.5,-2 3.3,-5 5.8,-5zM-2,84l0,-0.7 3.3,0.7 1.1,2 -1.6,4 1.7,2 -1.5,2 -1,2.5 -2,0.1 0,-12.6z" fill="#6dff00"/>
<path d="M48.7,22l3.3,-0.8 2,0.7 1.6,2.1 3.9,2 2.2,2 3.2,2 -1.2,2 4.3,4.1 3.1,3.9 -2.4,2 3.3,3.9 0.8,6.1 -1.3,2 1,2 2,2 -2.3,2 2,4 -1,2 1.7,2 -1.5,4 -1.4,1.8 0.2,2.2 -1.3,2 1.8,2 -2.6,2 2.4,2 -1,2 -3.7,4 2,2 -3.8,2.2 -2,0.2 -2,-0.8 -1.7,-1.6 -3.1,-8 -2.6,-2 1.3,-2 -3.9,-2 0.5,-2 -3.1,-8 -2.9,-2 1.9,-2 -1.8,-2 -1,-2 2.2,-2 -2.4,-4 1.5,-2 -1,-4 -0.1,-2 -3.2,-2 0,-2 1.8,-2 -1.7,-2 1.1,-6 1.5,-2 -0.7,-2 1.3,-2 -0.6,-2 3.4,-2zM113.3,32l2.7,-1.1 1.9,1.1 1.8,2 3.8,2 2.5,4 -1.5,2 1.2,2 2.2,2 -0.6,2 0.9,2 -0.5,4 2.9,4 -2.6,1.9 1.5,2.1 0.7,2 -0.8,2 2.2,2 0,2 1,2 -0.6,1.9 1.4,2.1 -2,2 1.9,2 -1.7,2 3.5,2 -0.7,2 -2.3,2 -0.8,2 1.9,2 -1.5,2 -0.8,2 -1.9,2 0.9,2 -0.9,4 1,2 -1.3,2 -3,2 -0.4,2 -3.3,4 -2,1.1 -2,0.5 -4,-0.8 -2,-1.4 -2,-3.3 -0.3,-2.1 -1.5,-2 -0.9,-2 -1.2,-4 0.2,-2 -0.5,-4 0.9,-4 -1.3,-2 0.6,-1.9 2.7,-4.1 -3.7,-2 1.4,-2 -1.3,-2 1,-2 -1.3,-2 1.4,-4 -1.1,-4 1.8,-2 0.3,-2 -1.8,-2 3.1,-2 -2,-4 2.1,-2 0.8,-2 0.1,-4 -2.1,-2 -0.5,-2 3.1,-2 -1.6,-2 1,-2 3.9,-4z" fill="#b6ff00"/>
<path d="M50.1,26l1.9,-1.2 4,1.1 1.6,2.1 3,2 0.5,2 3.1,4 3.2,2 1.6,2 -2.2,2 3,4 0.7,6 -1.5,2 1,1.9 2.4,2.1 -2.4,2 1.3,2 0.2,2 -1.1,2 2.3,2 -3.5,6 0.8,1.9 -1.7,2.1 2,2 -2.3,2 2,2.2 -1.6,1.8 -4.4,2.2 -2,-0.7 -1.9,-3.5 -2.8,-2 1.1,-2 -3.3,-2 0.4,-2 -1.1,-2 0.1,-2 -1.9,-4 -2.9,-2 0.7,-2 -2.2,-4 2.5,-2 -1.1,-2 -1.9,-2 1.9,-2 -0.3,-2 1.6,-2 -0.6,-2 -3.8,-2 -0.5,-2 2,-2 -1.8,-2 -0.3,-2 1,-4 2.9,-2 -1.5,-2 1.7,-1.9zM111.7,38l2.3,-1 4,0.4 4.7,2.6 -1.3,2 2.6,3.9 1.2,4.1 0.2,2 -0.6,2 2.7,4 -2,2 2.1,2 0.9,2 -0.8,2 1.7,2 0,2 1.1,2 -0.4,2 1.3,2 -1.9,2 1.7,2 -2,2 3.2,2 -1,2 -1.8,2 -0.6,2 1.9,2 -2.1,2 -0.9,2 -1.8,2 0.8,2 -0.9,4 1,2 -7,7.7 -2,0.8 -4,-2.5 -1.8,-2 -2.6,-6 -1.6,-7.8 1.2,-4.2 -1.2,-1.8 0.1,-2.2 1.9,-1.9 0.8,-2.1 -3.1,-2 1.5,-2 -1.2,-2 0.7,-2 -1.4,-2 1.4,-4 -1.3,-4 1.8,-2 0.3,-2 -1.8,-2 3.1,-2 -1.7,-4 1.6,-2 0.8,-4 1.1,-2 -2.1,-4 2.6,-2 -1.4,-2z" fill="#ffff00"/>
<path d="M51.8,34l2.2,-1.1 2,-0.3 2,0.7 0.6,0.7 0.3,2 5.6,2 1.8,2 -1.7,2 3.3,4 0.6,4 -1.9,4 1.1,2 2.1,2 -2.4,2 1.4,2 -1.1,4 2.3,1.9 -1.6,2.1 -0.2,2 -1.7,2 1,2 -1.5,2 0.9,2 -2.9,1.5 -2,0 -0.7,-1.5 -2.2,-2 1.2,-2 -2.3,-1 -1,-1 0.1,-2 -1.3,-4 -2.5,-2 -1.5,-4 -1.3,-2 3.1,-2 -3,-4 3.4,-3.7 0.8,-0.3 0.6,-2 -0.5,-2 -1.8,-2 0.1,-2 4.8,-1.9 -1,-2.1 -1,-1 -3.1,-1 -1.1,-2zM114.2,48l1.8,-1.1 2,-0.2 2,0.6 1,0.7 1,1.9 0.5,2.1 -1.6,2 1.1,0.7 2.6,3.3 -1.4,2 2.4,2 0.9,2 -0.7,2 1.5,2 0.1,2 1.1,2 -0.4,2 1,2 -1.8,2 1.7,2 -2.2,2 2.6,2 -2.4,6 1.4,2 -2.2,2 -2.6,4 0.7,2 -1.3,2 -0.5,2 1.4,2 -2.4,2 -1.1,2 -2.4,0.9 -2,-0.2 -1.3,-0.7 0.2,-2 -1.6,-2 -0.8,-2 -2.2,-8 1.2,-4 -1.3,-2 -0.1,-2 1.9,-2 0.7,-2 -2.7,-2 1.9,-2 -1.7,-2 0.9,-2 -1.8,-2 1.4,-4 -1.4,-4 1.9,-2 0.2,-2 -1.6,-2 2.9,-2 -0.9,-2 0,-2 1.2,-2 1.2,-4z" fill="#ffb600"/>
<path d="M59.2,44l0.8,-0.7 2,-0.2 2,1.2 1.7,1.7 -1.4,8 2.6,4 -2.4,2 1.4,2 -0.7,4 1.6,2 -2.3,2 0.4,2 -2.9,1.7 -2,-0.9 -0.3,-0.8 0.6,-2 -1.2,-2 -2.1,-2 -4.1,-6 3.8,-2 -1.7,-4 2.1,-2 4.4,-2 -1.9,-2 -0.7,-2 0.3,-2zM114.6,56l1.4,-1 2,0.3 1.5,0.7 1.9,2 -0.7,2 2.8,2 0.7,2 -0.8,2 3.1,6 -0.7,2 0.8,2 -1.8,2 1.9,2 -2.2,2 1.5,2 -1.2,6 0.6,2 -1.8,2 -1,2 -2,2 0.5,2 -3.1,3.2 -2,-0.9 -1.4,-2.3 -1.4,-4 0,-2 0.6,-2 -1.4,-2 -0.3,-2 1.9,-2 0.7,-2 -2.6,-2 1.9,-1.9 -1.9,-2.1 1.4,-2 -2.2,-2 1.5,-4 -1.6,-4 2,-2 0.2,-2 -1.6,-2 3.4,-2 -0.6,-2z" fill="#ff6d00"/>
<path d="M117.1,62l0.9,-0.6 2,1.1 0.7,1.5 -0.3,2 0.6,2 2.8,4 -0.9,2 1.4,2 -1.8,2 1.7,2 -2.7,2 -0.3,2 0.9,2 -0.8,2 0.4,2 -1.7,2.7 -2,-0.1 -3.3,-2.6 -0.1,-2 3.1,-4 -3.3,-2 1.8,-2 -1.9,-2 2,-2 -2.6,-2 0.5,-2 1.3,-2 -1.4,-2 -0.7,-2 2.4,-2 1.3,-2z" fill="#ff2400"/>
</g>
<rect x="29.8" y="36.5" width="164.9" height="144.3" fill="none" stroke="#222" stroke-width="0.7"/>
<text x="30.4" y="193.0" font-size="8.6" text-anchor="middle" font-family="'Liberation Sans', sans-serif" >0</text>
<text x="57.3" y="193.0" font-size="8.6" text-anchor="middle" font-family="'Liberation Sans', sans-serif" >15</text>
<text x="84.2" y="193.0" font-size="8.6" text-anchor="middle" font-family="'Liberation Sans', sans-serif" >30</text>
<text x="111.1" y="193.0" font-size="8.6" text-anchor="middle" font-family="'Liberation Sans', sans-serif" >45</text>
<text x="138.0" y="193.0" font-size="8.6" text-anchor="middle" font-family="'Liberation Sans', sans-serif" >60</text>
<text x="164.9" y="193.0" font-size="8.6" text-anchor="middle" font-family="'Liberation Sans', sans-serif" >75</text>
<text x="191.8" y="193.0" font-size="8.6" text-anchor="middle" font-family="'Liberation Sans', sans-serif" >90</text>
<text x="25.0" y="183.7" font-size="8.6" text-anchor="end" font-family="'Liberation Sans', sans-serif" >0</text>
<text x="25.0" y="169.3" font-size="8.6" text-anchor="end" font-family="'Liberation Sans', sans-serif" >5</text>
<text x="25.0" y="154.9" font-size="8.6" text-anchor="end" font-family="'Liberation Sans', sans-serif" >10</text>
<text x="25.0" y="140.5" font-size="8.6" text-anchor="end" font-family="'Liberation Sans', sans-serif" >15</text>
<text x="25.0" y="126.1" font-size="8.6" text-anchor="end" font-family="'Liberation Sans', sans-serif" >20</text>
<text x="25.0" y="111.7" font-size="8.6" text-anchor="end" font-family="'Liberation Sans', sans-serif" >25</text>
<text x="25.0" y="97.3" font-size="8.6" text-anchor="end" font-family="'Liberation Sans', sans-serif" >30</text>
<text x="25.0" y="82.9" font-size="8.6" text-anchor="end" font-family="'Liberation Sans', sans-serif" >35</text>
<text x="25.0" y="68.5" font-size="8.6" text-anchor="end" font-family="'Liberation Sans', sans-serif" >40</text>
<text x="25.0" y="54.1" font-size="8.6" text-anchor="end" font-family="'Liberation Sans', sans-serif" >45</text>
<text x="25.0" y="39.7" font-size="8.6" text-anchor="end" font-family="'Liberation Sans', sans-serif" >50</text>
<path d="M30.4,180.8v3M57.3,180.8v3M84.2,180.8v3M111.1,180.8v3M138.0,180.8v3M164.9,180.8v3M191.8,180.8v3M43.8,180.8v1.8M70.7,180.8v1.8M97.6,180.8v1.8M124.5,180.8v1.8M151.4,180.8v1.8M178.3,180.8v1.8M29.8,180.8h-3M29.8,166.4h-3M29.8,152.0h-3M29.8,137.6h-3M29.8,123.2h-3M29.8,108.8h-3M29.8,94.4h-3M29.8,80.0h-3M29.8,65.6h-3M29.8,51.2h-3M29.8,36.8h-3M29.8,173.6h-1.8M29.8,159.2h-1.8M29.8,144.8h-1.8M29.8,130.4h-1.8M29.8,116.0h-1.8M29.8,101.6h-1.8M29.8,87.2h-1.8M29.8,72.8h-1.8M29.8,58.4h-1.8M29.8,44.0h-1.8" stroke="#222" stroke-width="0.7" fill="none"/>
<text x="112.5" y="207.7" font-size="10" text-anchor="middle" font-family="'Liberation Sans', sans-serif" >time [ns]</text>
<text x="0.3" y="27.8" font-size="11" text-anchor="start" font-family="'DejaVu Sans', sans-serif" >(b)</text>
<text x="29.5" y="30.5" font-size="9.5" font-family="'Liberation Sans', sans-serif">θ<tspan font-size="6.3" dy="1.8">hf</tspan><tspan dy="-1.8">= 90°</tspan></text>
<rect x="206.2" y="39.0" width="10.2" height="141.5" fill="url(#cb)"/>
<text x="219.8" y="181.7" font-size="7.6" text-anchor="start" font-family="'Liberation Sans', sans-serif" >0.0</text>
<text x="219.8" y="167.8" font-size="7.6" text-anchor="start" font-family="'Liberation Sans', sans-serif" >2.7</text>
<text x="219.8" y="153.8" font-size="7.6" text-anchor="start" font-family="'Liberation Sans', sans-serif" >5.5</text>
<text x="219.8" y="139.9" font-size="7.6" text-anchor="start" font-family="'Liberation Sans', sans-serif" >8.2</text>
<text x="219.8" y="125.9" font-size="7.6" text-anchor="start" font-family="'Liberation Sans', sans-serif" >11.0</text>
<text x="219.8" y="112.0" font-size="7.6" text-anchor="start" font-family="'Liberation Sans', sans-serif" >13.7</text>
<text x="219.8" y="98.0" font-size="7.6" text-anchor="start" font-family="'Liberation Sans', sans-serif" >16.4</text>
<text x="219.8" y="84.1" font-size="7.6" text-anchor="start" font-family="'Liberation Sans', sans-serif" >19.2</text>
<text x="219.8" y="70.1" font-size="7.6" text-anchor="start" font-family="'Liberation Sans', sans-serif" >21.9</text>
<text x="219.8" y="56.2" font-size="7.6" text-anchor="start" font-family="'Liberation Sans', sans-serif" >24.7</text>
<text x="219.8" y="42.2" font-size="7.6" text-anchor="start" font-family="'Liberation Sans', sans-serif" >27.4</text>
<text transform="translate(251.5,105.2) rotate(-90)" font-size="10" text-anchor="middle" font-family="'Liberation Sans', sans-serif">excitation rate [a.u.]</text>
</g>
<g transform="translate(0.0,195.4)">
<g transform="translate(29.8,36.5)" clip-path="url(#pc)" stroke="#001020" stroke-opacity="0.6" stroke-width="0.55" stroke-linejoin="round">
<rect x="0" y="0" width="164.9" height="144.3" fill="#0812ec"/>
<path d="M-2,-2l14.4,0 3.5,2 1.6,2 -1.8,2 0.7,2 -0.1,2 -2.3,1.9 0.2,4.1 1,2 -0.6,4 -1.1,2 2.8,2 -0.9,2 -1.8,2 2.6,2 1.1,4 -2,2 1.5,2 1.4,6 -0.7,2 1.7,4 -0.8,4 1.4,2 0.5,2 -0.3,2 0.6,2 -1.3,6 1.3,2 -1.2,4 0.5,2 1.1,2 3,1.8 1.4,-1.8 -0.4,-4 2.1,-4 -1.1,-2 1,-2 0.9,-8 -0.3,-2 -1.1,-2 1.3,-4 -0.8,-2 -0.2,-2 0.9,-2 -0.6,-2 0.5,-2 -0.1,-2 -1.8,-2 1.7,-2 -1.1,-2 0.7,-2 -1,-2 1.7,-4 -2.3,-2 0,-2 1.1,-2 0.2,-2 -0.7,-4 0,-3.8 0.5,-2.2 -1.3,-2 1.2,-2 -6.4,-3.8 54.6,-0.2 2.2,2 -0.4,2 -2.4,1 -1.2,1 0.9,4 4.3,5.1 2,0.3 1.9,-1.4 1.1,-2 0.1,-2 0.9,-2 -0.5,-2 -1.1,-2 1.6,-1.8 -0.4,-2.2 65.6,0 0.5,2 2.2,2 -3.9,1.9 -2,1.6 -1.5,2.5 1.5,1.9 -2.9,4.1 0.9,2 0.1,6 2.2,2 -0.6,4 1.8,2 -0.2,2 1.1,2 -2.3,2 1.7,2 0.1,4 1.3,2 -1,2 1.6,4 -0.2,2 -1.2,2 1.4,2 2.2,4.6 2.2,-2.6 0,-2 -1.5,-2 0.4,-2 1,-2 -0.9,-4 1,-2 -0.3,-6 -1.9,-1.9 1.6,-2.1 -1,-2 0.7,-2 -1.2,-2 2.3,-4 -2.3,-2 0.1,-2 1.2,-2 0.4,-2 -0.5,-2 0.7,-2 -0.3,-4 1.4,-2 -1.1,-4 0,-2 -1,-2 15,0 0,150 -170,0 0,-150zM40,101.2l-2,0.8 -1.2,2 0.5,2 -1.7,2 4,2 0.8,2 3.6,4.4 2,0 2,-0.6 5.2,-3.8 4.5,-2 -0.5,-2 1.9,-2 -2.8,-2 -3.9,-2 -8.4,-1.2 -4,0.4zM148,97.7l0,0.6 0.3,-0.3 -0.3,-0.3zM46,127.8l-0.7,0.2 -1.3,1.9 -0.5,4.1 0.5,2 -1.7,2 1.3,2 -0.9,2 1.3,2 2,1.7 2,-1.5 0.6,-2.2 -0.3,-2 -1.4,-2 2.2,-2 -2.1,-2 -0.2,-2 2.3,-2 -1.1,-1.2 -2,-1z" fill="#081ded" stroke="none"/>
<path d="M-2,-2l7.1,0 0.7,2 3.9,4 -0.9,4 1.4,2 -0.2,4 1.7,2 -0.9,2 -0.6,4 2.7,2 -0.4,2 -1.7,2 1.8,2 1.7,4 -1.7,2 1.9,2 0.8,2 1.4,4 -0.5,2 2,4 -0.7,4 1.4,2 0.7,6 -1.2,6 1.3,2 -1.5,4 1.3,4 1.9,2 -1,4 1.3,2 -1.7,1.9 0,0.5 2,1.9 2,-0.7 1.1,-3.6 -0.1,-2 1.5,-2 -0.5,-8 1.9,-4 -1.3,-2 1.1,-2 0.6,-4 0,-6 -1.1,-2 1.2,-4 -0.9,-4 0.8,-2 -0.4,-2 0.4,-2 -0.1,-2 -1.9,-2 1.9,-2 -1.2,-2 0.8,-2 -1.2,-2 1.4,-1.9 0.5,-2.1 -2.2,-2 0.2,-2 1.4,-4 -0.4,-4 0.5,-1.9 -0.1,-2.1 0.7,-2 -0.5,-2 1.4,-2 0.3,-2 -1.2,-2 39.4,0 3,2 0.2,2 -1.6,2 1.7,4 4.3,6 4.2,2 2.2,-0.7 2,-2.5 1.4,-2.8 0,-2 1.3,-2 0.8,-6 -0.5,-2 55.7,0 1.7,4 -2.6,2 -0.1,2 -1,2 1.7,2 -1.2,4 1.4,4 0,4 2.4,2 -0.7,4 1.5,2 -0.1,2 1.3,2 -2.3,2 1.8,2 0.4,2 -0.2,2 0.9,2 -0.7,2 1.4,4 -1.3,4 1.5,2 0.7,4 0.7,2 -0.6,6 2.7,2 0.3,-2 1.9,-2 0.4,-4 1.2,-4 -0.2,-2 -1.2,-2 1.4,-4 -1,-4 1.2,-2 -0.6,-2 0.1,-4 -2,-2 1.7,-2 -1.1,-2 0.8,-2 -1,-2 2.2,-4 -2.4,-2 0.3,-1.8 1.2,-2.2 0.6,-4 0.9,-2 0.1,-4 1.6,-2 -0.4,-2 1.1,-2 -0.3,-2 -1.6,-2 10.8,0 0,150 -110.9,0 2.9,-1.9 0,-0.8 -2,-4.4 -4.6,-2.9 2.4,-2 -3.3,-4 1.1,-2 -4.2,-6 0.6,-1.8 -0.2,-4.2 4.7,-4 6.3,-4 -0.8,-1.9 1.7,-2.1 -2.7,-2 -3.7,-2 -9.3,-2.2 -4,-0.4 -4,0.3 -2,0.7 -1.9,3.6 0.9,2 -1.8,2 3.4,2 2,4 0.7,2 -0.6,2 1.8,4 -2.3,2 0.6,4 1.2,2 -1.2,4 0.7,2 -2,2 1.9,2 -0.6,2 1.1,2 -0.9,2 -2.2,2 -38.8,0 0,-150zM0,102.8l-0.8,1.2 2.8,0.6 2,-0.6 -2,-1.3 -2,0.1zM16,97.9l-0.7,0.1 0.7,0.3 0.8,-0.3 -0.8,-0.1zM150,90.8l-2,1.5 -1.2,1.7 0.1,2 -2.4,4 1.5,2.4 2,1 2,-0.8 0.4,-0.6 -0.6,-2 2.5,-4 -0.1,-4 -2.2,-1.2z" fill="#072eee" stroke="none"/>
<path d="M-2,-2l2,0 -2,1.4 0,-1.4zM31.7,-2l34,0 2.5,2 0.5,2 -1.2,2 1.5,4 4.5,6 4.5,3.6 2,1.1 2,-0.9 2.2,-1.8 3.4,-6 0.1,-2 1.8,-2 1.1,-4 0.2,-2 -0.5,-2 44.9,0 2.8,4 -0.7,2 1.1,2 -0.8,2 2.3,4 -0.4,2 1.6,4 0.1,4 2.5,2 -0.6,4 1.4,2 -0.1,2 1.2,2 -2.1,2 1.9,2 0.3,2 -0.2,2 0.8,2 -0.6,2 1.5,4 -1.4,4 1.6,2 0.3,4 0.7,2 -0.4,4 -0.6,2 1.6,2 -1.6,4 0.5,2 2.1,4 -0.9,4 0.5,2 -2.4,2 -0.9,2 0.2,2 -1.3,2 0.2,2 -2.3,4 2.9,4.7 1.8,1.3 2.2,0.1 1.5,-2.1 0.9,-2 -0.8,-2 2.4,-3.8 0.1,-4.2 -1.6,-2 -0.3,-2 1,-2 -1,-2 1,-4 -1,-4 0.3,-2 2.1,-4 -0.5,-2 1.5,-2 1.5,-8 -0.2,-2 -0.9,-2.3 1.4,-3.7 -1,-4 1.1,-2 -0.6,-2 0.2,-4 -2,-2 1.7,-2 -1.1,-2 0.8,-2 -0.9,-2 1.5,-2 0.6,-2 -2.4,-2 0.5,-2 2.1,-4 1.2,-4 0.1,-2 0.8,-1.9 4,-4.9 4,-1 0,145.8 -43.1,0 2.5,-2 0.7,-2 -4.1,-0.5 -6.4,0.5 -2.9,4 -48.4,0 2.7,-2 0.4,-2 -4.8,-2 1.4,-1.9 -3.5,-2.1 -0.3,-2 -2.1,-2 -0.8,-2 0.2,-2 -3.5,-3.7 -3,-2.3 1.3,-2 -0.5,-4 6.2,-4.4 1.4,-1.6 2.6,-1.9 -0.2,-2.1 1.5,-2 -3,-2 -4.3,-2 -12,-3.4 -4,-0.7 -10,-0.1 -2,-0.4 -1.2,-1.4 -0.8,-2 0.3,-2 -1.3,-2 -0.4,-2 0.9,-2 -0.8,-2 1.2,-2 0.2,-2 -1.3,-4 -0.2,-2 1.9,-4 -1.3,-2 1.1,-2 0.6,-4 0,-6 -0.9,-2.3 1.1,-3.7 -1,-4 0.8,-2 -0.4,-2 0.4,-2 -0.2,-2 -1.8,-2 1.9,-2 -1.1,-2 0.7,-2 -1,-2 1.3,-2 0.5,-2 -2.1,-2 1.8,-6 -0.1,-4 0.7,-2 0,-2 1,-2 0,-2 1.7,-2 0.6,-2 -1.1,-2zM78,97.9l-3.4,2.1 -0.2,2 -1,2 -0.3,4 0.9,0.3 2,-0.2 4,-2.1 0.3,-4 -1.6,-2 0,-2 -0.7,-0.1zM162,-2l6,0 0,2 -2,0.1 -4,-2.1zM-2,2l0,-0.9 2,0.5 2,0.9 1.6,1.5 -0.1,2 0.6,2 2.6,4 -0.5,2 0.7,2 -0.1,2 0.6,4 1.9,2 0.2,2 -1.3,2 3.2,6 -1.4,2 2.4,2 1.1,2 0.4,2 1.2,2 -0.2,2 2.2,4 -0.6,4 1.3,2 0.5,2 -0.2,2 0.6,2 -1.3,6 1.3,2 -1.5,4 0.9,4 1.5,2 -1.5,4 0.7,2 -2.4,2 -0.8,2 1.2,2 -1.5,2 -2.4,2 -2.9,1.3 -4,1.4 -6,0.7 -2,0 0,-97.4zM25.1,102l0.9,-0.6 2,0.6 4,3.5 0.3,0.5 -1.6,2 3.2,2 2.3,4 0.5,2 -0.6,2 1.7,4 -2.1,2 0.6,4 1.3,2 -2.1,4 0.5,2 -1.5,2 1.8,2 -2.1,2 1.3,2 -0.5,2 -2.7,2 -34.3,0 0,-40.6 6,0 16,-2.2 5.1,-3.2z" fill="#0641f0" stroke="none"/>
<path d="M34,-2l29.9,0 2.1,1.9 0.8,2.1 -1,2 1,2 0.4,2 4.8,6 2.6,2 3.4,4.7 2,0.5 2,-1.2 4,-4 3.5,-6 0.5,-2 2.3,-2 1.9,-6 -1,-2 37.9,0 1.6,2 0.6,2 -0.2,2 2.1,2 0,2 2.6,4 0.2,2 1.8,4 0.2,4 2.7,2 -0.1,2 -0.6,2 1.4,2 -0.1,2 1.3,2 -2.1,2 1.9,2 0.5,2 -0.3,2 0.7,2 -0.6,2 1.5,4 -1.2,4 1.4,2 0.9,6 -0.3,4 -0.9,2 1.4,2 -1.5,4 0.4,2 1.8,4 -1.2,4 0.6,2 -2.2,2 -0.6,2 0.5,2 -1.3,2 0.3,2 -2.3,4 3.2,6 -0.7,2 1.5,0.4 2,-0.3 5,-2.1 1,-3.9 -0.9,-2.1 2.2,-4 0,-4 -1.2,-2 -0.2,-2 1.3,-2 -1,-2 1.1,-4 -1.6,-4 0.2,-2 2.1,-3.9 -0.7,-2.1 1.5,-2 1.4,-8 -0.1,-2 -0.9,-2 1.6,-4 -1.1,-4 1.3,-2 -0.7,-2 0.3,-4 -2,-2 1.7,-2 -1,-2 0.6,-2 -0.6,-2 1.7,-2 0.4,-2 -2.4,-2 1,-2.5 2.9,-3.5 1.1,-3.3 2,-1.5 4,-1 0,137.8 -24.8,0 -1.2,-0.7 -2.7,0.7 -7.9,0 2.1,-2 0.8,-2 -6.3,-1.7 -4,-0.6 -8,0.3 -2,0.6 -2.4,1.4 -0.3,2 -2.6,2 -36.3,0 1.5,-2 0.7,-2 -4.2,-2 0,-2 -3.8,-2 -0.5,-2 -2.6,-2 -0.9,-2 0.7,-2 -1.9,-2 -2.8,-4 -0.1,-2 -1.2,-4 7.5,-4 2.1,-2 3.1,-1.2 2,-0.3 4,0.4 2,-0.8 0.1,-2.1 3,-2 0.2,-4 -1.2,-2 0.8,-2 -0.9,-1.9 -2,0.6 -5.6,3.3 -0.3,2 -2.1,1.5 -4,-0.1 -20,-5.9 -12,-1.8 -2,-0.6 -1.2,-1.1 -0.5,-2 -1.7,-2 -0.5,-2 0.7,-2 -0.9,-2 0.9,-2 0.1,-2 -1.6,-6 1.7,-4 -1,-2.2 0.8,-1.8 0.9,-8 -0.2,-2 -1.1,-2 1.3,-4 -1.1,-4 0.9,-2 -0.5,-2 0.5,-2 -0.2,-2 -1.8,-2 1.9,-2 -1.1,-2 0.7,-2 -0.9,-2 1.9,-4 -2,-1.9 0,-0.8 1.8,-5.3 -0.2,-2 1.2,-4 0,-2 1.2,-1.9 0.6,-2.1 1.9,-2 0.7,-2 -1.2,-2zM-2,12l0,-1.5 2,1.1 3.3,4.4 0.4,2 -0.6,2 0.7,2 2.2,2 0.5,2 -0.7,2 1.5,2 0.5,2 1.6,2 -1.1,2 2.5,2 1.1,2 0.5,2 1.3,2 0,2 2.3,4 -0.5,4 1.5,2 0.8,6 -1.3,6 1.3,2 -1.7,4 0.8,4 1.1,1.8 -1.6,4.2 0.4,2 -2.8,1.9 -1.1,2.1 0.3,2 -3.2,3.1 -4,1.6 -6,1 -2,0 0,-85.7zM18.1,108l7.9,-1.5 5.7,3.5 0.8,2 1.5,1.8 0.6,2.2 -0.4,2 1.7,4 -1.9,1.8 0,0.8 0.5,3.4 1.4,2 -2.5,4 0.3,2 -1.7,2 1.4,2 -2.4,2 -0.6,2 0.3,2 -2.7,2 -30,0 0,-38.6 8,0.1 10,-0.9 2,-0.5z" fill="#0653f1" stroke="none"/>
<path d="M36.1,-2l26.5,0 1.9,2 0.6,2 -0.6,2 1,2 0.2,2 5.2,6 2.4,2 4,6 2.7,0.9 2,-1 5.5,-5.9 5,-8 2.3,-2 0.3,-2 1.3,-2 0.6,-2 -1.5,-2 33,0 1.5,1.9 0.7,2.1 0,2 1.8,2 0.6,2 1.7,2 3,6 0.8,2 0.3,4 2.8,2 0,2 -0.6,2 1.4,2 -0.2,2 1.4,2 -2.1,2 2,2 0.4,1.9 -0.2,2.1 0.7,2 -0.7,2 1.6,4 -1.2,4 1.4,2 0.3,2 -0.1,2 0.5,2 -0.4,4 -0.8,2 1.3,2 -1.4,4 0.2,2 1.9,4 -1.5,4 0.7,2 -2.3,2.4 -0.3,1.6 0.6,2 -1.1,2 0.3,2 -2.3,4 2.6,6 -1.5,2 3.7,2.3 2,0.3 1.4,-0.6 1.3,-2 3.9,-2 0.7,-4 -0.9,-2 2.1,-4 -0.3,-2 0.3,-2 -1.2,-2 -0.2,-2 1.5,-2 -1.2,-2 1.2,-4 -1.7,-4 0.1,-2 2.1,-4 -0.7,-2 1.5,-2 1.4,-8 0,-2 -0.8,-2 1.7,-4 -1,-4 1.5,-2 -0.9,-2 0.2,-4 -1.8,-2 1.7,-2 -0.9,-2 0.5,-2 -0.3,-2 1.9,-2 0.2,-2 -2.1,-2 0.8,-1.8 2,-1.5 2,0.1 3.8,-0.8 0.2,120 -4,0.6 -1.8,-0.6 0,2 -4.2,1.8 -4,0.8 -6,-0.1 -6,-0.9 -8,0.5 -8,-1.9 -12,0.7 -6.5,1.1 -3.5,1.2 -7,0.8 2.4,2 -1.4,2 -19.6,0 2.3,-2 0.2,-2 -4.4,-2 -2.5,-2 -4.6,-2 -0.1,-2 -2.6,-2 -1.1,-2 0.5,-2 -2.8,-4 0,-2 0.5,-2 -2,-2 0.1,-2 4.1,-1.4 4,-2.2 4,-0.6 2,-0.7 3.7,-3.1 -0.6,-2 2.9,-1.9 0.2,-4.1 -1.3,-2 1.1,-2 0,-2.4 -2,-2 -2,1 -0.7,1.4 -6.8,4 -0.5,0.7 -2,1 -4,0 -10,-2.3 -8,-2.8 -12,-2.4 -4,-4.2 -0.8,-2 0.7,-2 -1.2,-2 0.9,-2 0.1,-2 -0.9,-2 -0.9,-4 1.7,-4 -1.2,-2 0.9,-2 0.7,-3.9 0.1,-6.1 -1.2,-2 1.4,-4 -1.2,-4 0.9,-1.8 -0.5,-2.2 0.6,-2 -0.2,-2 -1.9,-2 2,-2 -1.1,-2 0.6,-2 -0.9,-2 1.3,-2 0.7,-2 -2.1,-2 0.3,-2 1.7,-4 -0.1,-2 0.4,-2 1.1,-2 0.2,-2 2.2,-4 2.2,-2 1,-2 -1.4,-2zM-2,22l0,-0.7 4.4,2.7 1,4 1.9,2 0.7,1.8 1.7,2.2 -0.8,2 2.5,2 1.2,2 0.5,2 1.3,2 0.1,2 2.5,4 -0.3,4 1.3,1.9 1.1,6.1 -0.7,4 -0.7,2 1.3,2 -1.7,4 0.5,4 1,2 -2,4 0.2,2 -3,2 -1,2 -0.1,2 -2.5,2 -4.4,1.9 -4,0.6 -2,-0.1 0,-74.4zM22.1,110l1.9,-0.7 4,0.3 1,0.4 3.2,4 0.6,2 -0.4,2 1.6,3.8 -1.6,2.2 0.8,4 1.2,2 -2.7,4 0.2,2 -1.9,1.9 0.7,2.1 -5.8,4 -0.4,2 -4.1,2 -16.4,0 1.5,-4 -1.5,-1.2 -1.9,-2.8 -4.1,-1.9 0,-26.5 18,-0.8 6,-0.8z" fill="#0565f3" stroke="none"/>
<path d="M37.8,-2l23.7,0 1.8,2 0.6,2 -0.4,2 1,2 0.2,2 5.3,6 2.4,2 3.5,6 6.1,3.3 2.2,-1.3 -1,-2 5.4,-6 1.4,-2.4 6.4,-7.6 0.4,-2 1.5,-2 0.7,-2 -1.8,-2 29.4,0 1.6,2 0.8,2 0.1,2 1.5,2 0.9,2 1.8,2 2,4 1.5,2 0.7,2 0.5,3.8 2.9,2.2 0.1,2 -0.6,2 1.3,2 -0.1,2 1.4,2 -2,2 1.9,2 0.6,2 -0.3,2 0.6,2 -0.5,2 1.5,4 -1.2,4 1.3,2 0.5,2 -0.2,2 0.4,2 -0.4,4 -0.9,2 1.3,2 -1.4,4 0.2,2 1.8,4 -1.5,4 0.7,2 -2.1,2 -0.4,2 0.7,2 -1.1,2 0.4,2 -2.4,4 2.4,6 -1.7,2 2.7,2 1.2,2 0.9,0.4 2,-0.1 2,-1 1.7,-1.3 0.4,-2 3.6,-2 0.6,-4 -0.9,-2 2.1,-4 -0.4,-2 0.4,-2 -1.2,-2 -0.1,-2 1.4,-2 -1.2,-2 1.2,-4 -1.8,-4 0.1,-2 2.1,-3.9 -0.7,-2.1 1.6,-2 1.5,-8 0,-2 -0.9,-2 2.2,-4 -0.2,-2 -0.9,-2 2.2,-2 -1.3,-2 0,-4 -1.7,-2 1.9,-2 -1,-2 1.3,-3.8 6,0.2 0,106.9 -4,-0.5 -2,0.5 -0.3,0.7 -3.1,2 0.5,2 -5.1,1.4 -4,-0.4 -6,-1.6 -2,-0.1 -4,0.8 -4,0.2 -10,-1.2 -12,0.9 -16,2.7 -12,0.4 -3.8,-1.1 -3.1,-2 -5.6,-2 0,-2 -2.4,-2 -1.4,-2 0.5,-2 -2.5,-4 -0.3,-2 1,-2 0.2,-2 1.4,-1.4 2,-1.5 6,-2.2 2,-1.5 2.6,-3.4 -0.6,-1.8 2.7,-2.2 0.1,-4 -1.3,-2 1,-2 0.4,-2 -0.9,-2.5 -2,-1.5 -2.9,2 -1,2 -6.1,3.4 -4,1.4 -4,-0.2 -8,-1.8 -8,-3 -10,-2 -4,-2.7 -1,-1.1 -0.9,-2 0.6,-2 -1.3,-2 0.9,-2 0.1,-2 -1.8,-4 -0.3,-2 1.7,-4 -1.2,-2 0.9,-2 0.7,-4 0,-6 -1.1,-2 1.4,-4 -1.2,-4 1,-2 -0.5,-2 0.5,-2 -0.2,-2 -1.9,-2 1.9,-2 -1,-2 0.7,-2 -1,-2 1.4,-2 0.6,-2 -2,-2 0.4,-2 1.7,-4 0,-2 1.7,-4 0.2,-2 2.7,-4 2.2,-2 1.3,-2 -1.4,-2zM165,24l3,-0.8 0,2.3 -3,-1.5zM-2,28l0,-1 2,0.6 2,1.2 1.5,1.2 3,4 -0.8,2 2.7,2 3.1,6 0.1,2 2.6,4 -0.3,4 1.5,2 0.5,2 -0.1,2 0.6,2 -0.6,4 -0.8,2 1.3,2 -1.8,4 0,2 1.3,4 -2.4,4 0.2,2 -2.8,2 -1.3,2 -0.4,2 -1.1,0.9 -4,2 -4,0.7 -2,-0.1 0,-67.5zM18.3,112l7.7,-0.3 2,0.6 2.3,1.7 0.9,2 -0.2,2 1.6,4 -1.4,2 0.9,4 1.3,2 -1.8,2 -1.1,2 0.1,2 -2.4,2 0.3,2 -6.5,3.1 -2.8,0.9 -0.3,2 -4.1,2 -6.5,0 2.7,-2 1.7,-2 -4.7,-1.2 -2,-1.4 -1.2,-1.4 -3.5,-2 0.9,-2 -2.1,-2 -0.1,-0.7 -2,-0.6 0,-18.5 12,-1.9 8.3,-0.3z" fill="#047bf4" stroke-opacity="0.22"/>
<path d="M40.2,-2l19.5,0 1.7,2 0.6,2 -0.1,2 1,2 0.2,2 7.9,8 3.6,6 3.3,2 1.2,2 0.3,2 0.6,0.7 2,0.5 0.4,-1.2 3.9,-4 -1.3,-2 5.6,-6 1.4,-2.2 3.8,-3.8 2.9,-4 0.7,-2 3.2,-4 -2.5,-2 23.6,0 2.3,3.5 0.6,2.5 2.3,4 2.1,2 2.2,4 1.9,2 1.6,6 2.8,2 0.3,2 -0.5,2 1.3,2 -0.1,2 1.4,2 -1.9,1.9 1.9,2.1 0.6,2 -0.4,2 0.8,2 -0.7,2 1.6,4 -1.2,4 1.3,2 0.7,6 -0.6,3.7 -1,2.3 1.3,2 -1.3,4 0.1,2 1.8,4 -1.5,4 0.5,2 -1.9,2 -0.2,2 0.7,2 -1.1,2 0.4,2 -2.4,4 1.1,2 1,4 -1.8,2 2.3,2 0.1,2 3.9,3.5 2,-0.5 2,-1.2 4.3,-3.8 -0.2,-2 3.4,-2 0.6,-4 -1,-2 2.3,-4 -0.6,-2 0.6,-2 -1.4,-2 -0.1,-2 1.6,-2 -1.5,-2 1.1,-4 -1.7,-4 0.1,-2 2.1,-4 -0.7,-2 1.9,-2 0.8,-6 1.3,-2 0.4,-2 -1.3,-2 2,-0.3 4,1 0,75.2 -4,0.3 -2,1.2 -2.4,2.6 -0.6,2 -5,3.3 -6,-0.6 -2,-0.7 -1.9,-2 -2.1,-0.4 -6,2 -4,0.7 -8,-0.8 -14,0.7 -14,2.7 -4,0.4 -8,-0.5 -8.7,-2.8 -0.5,-2 -2.4,-2 -1.4,-2 0.5,-2 -1.5,-2 -0.8,-2 0.2,-2 2.4,-4 6.1,-4 1.9,-2 0.7,-2 1.4,-2 -1,-2 2.8,-2 0.1,-4 -1.3,-2 1.7,-4 -1.1,-4 -1.1,-1.4 -2,-1.9 -1.9,1.3 -0.7,2 -2.1,2 -1.3,2.2 -6,2.7 -2,0.5 -4,0 -6,-1.1 -8,-2.9 -10,-2.6 -4,-1.8 -1.3,-1 -1.3,-2 0.6,-2 -1.6,-2 1,-2 -0.1,-2 -1.9,-4 -0.4,-2 1.7,-4 -1.3,-2 0.9,-2 0.7,-4 0.1,-6 -1.1,-1.9 1.4,-4.1 -1.2,-4 1,-2 -0.6,-2 0.6,-2 -0.2,-2 -1.9,-2 1.9,-2 -1,-2 0.6,-2 -0.9,-2 2.2,-4 -1.9,-1.9 0,-0.8 2.1,-5.3 0.1,-2 0.7,-2 1.3,-2 0.2,-2 7.5,-8 -1.7,-2zM-2,32l0,-1.1 2,0 4,2.6 0.5,0.5 -0.6,2 2.8,2 1.3,2 0.5,2 1.4,2 0,2 2.9,4 -0.1,4 1.6,2 0.5,2 -0.1,2 0.7,2 -0.7,4 -0.9,2 1.3,2 -1.7,4 -0.2,2 0.8,3.8 -2.6,4.2 0.3,2 -2.8,2 -2.4,4 -4.1,2 -2.4,0.4 -2,-0.2 0,-62.2zM15.7,114l8.3,-0.1 2,0.4 2,1.7 0.3,2 1.4,2 0.7,2 -1.1,2 0.9,2 0.4,2 1.1,2 -1.9,2 -1.1,2 -0.2,2 -3,2 -0.7,2 -2.8,1 -6,1.1 -4,-0.5 -7.8,-3.6 0.4,-2 -1.8,-2 0,-4 -0.8,-1.8 -2,-2.8 -2,-1 0,-1.2 2,-1 1.4,-2.2 0.2,-2 0.4,-0.3 6,-2.6 7.7,-1.1z" fill="#0398f7" stroke="none"/>
<path d="M43.3,-2l14.4,0 1.5,2 2.4,8 8.4,8.5 3.3,5.5 3.2,2 1,2 -0.3,2 1.7,2 0.3,2 1.6,2 -1.4,2 2.6,2 2.6,-4 -0.4,-2 1.1,-2 -0.2,-2 2.8,-4 -1.1,-2 3.2,-3.6 3.3,-2.4 0.9,-2 4.1,-4 1,-2 2.7,-3.7 3.8,-2.3 2,-2 -3.8,-2 16,0 3,4 0.5,2 1.6,2 0.7,2 2.6,2 2.6,4 2.3,2 1.9,6 2.8,1.9 0.5,2.1 -0.4,2 1.4,2 -0.1,2 1.4,2 -2,2 2,2 0.7,2 -0.4,2 0.8,2 -0.7,2 1.6,4 -1.2,4 1.2,2 0.5,2 -0.2,2 0.4,2 -0.7,4 -1.2,2 1.3,2 -1.1,4 0,2 1.9,4 -1.7,4 0.7,2 -1.8,2 -0.2,2 0.7,2 -1.2,2 0.5,2 -2.4,4 1,2 0.7,3.9 -1.8,2.1 2.1,2 -0.1,2 2,4 -0.5,2 1.5,2 0.8,0.3 1.4,-0.3 6.6,-5 5,-5 -0.7,-2 3.3,-2 0.9,-4 -1.2,-2 2.7,-3.1 2,0 4,2.3 0,27.2 -6,-0.2 -1.4,1.8 0.6,2 -3.9,4 -1.1,2 -4.2,1.3 -2,-0.4 -2,-1.3 -2,-1.5 -2,-2.5 -2,0.3 -2,0.9 -4,2.7 -4,0.8 -2,0 -6,-1 -5.4,0.7 -8.6,0 -18,3.8 -8,-0.8 -4.7,-1 -0.7,-2 -2.9,-2 -1.2,-2 0.2,-2 -1.5,-2 1,-4 3,-4 0.5,-2 2.2,-2 1.5,-2 0.4,-2 1.1,-2 -0.9,-1.9 2.7,-2.1 0.1,-4 -1.3,-2 1.7,-4 -0.7,-2 0.1,-2 -1.5,-2 -0.3,-2 0.3,-2 -3.1,-2.2 -0.5,2.2 -2.3,2 -1.5,4 -3.6,4 -4.1,1.5 -4,0.8 -8,-1.1 -14,-5.2 -6,-1.3 -1.3,-0.7 -1.6,-2 0.2,-2 -1.8,-2 1,-2 -0.1,-2 -1.4,-2 -1.2,-4 1.6,-4 -1.2,-2 1.5,-6 -0.3,-2 0.5,-2 -0.1,-2 -1.2,-2 1.6,-4 -1.3,-4 1,-2 -0.5,-2 0.6,-2 -0.3,-2 -1.9,-2 1.9,-2 -0.9,-2 0.5,-2 -0.8,-2 2.2,-4 -2,-2 0.4,-2 2,-4 0.1,-2 2.3,-4 0.4,-2 4,-4 5,-4 -1.6,-2zM-2,34l0,-0.5 2,0 1.5,0.5 0.3,2 2.8,2 1.6,2 0.6,2 1.5,2 -0.1,2 3.1,4 0.1,4 1.7,2 0.5,2 -0.1,2 0.8,2 -0.1,2 -1.7,4 1.2,2 -1.3,2 -0.6,4 0.4,4 -2.8,4 0.5,2 -2.9,2 -3.3,4 -3.7,0.8 -2,-0.3 0,-58.5zM167.3,64l0.7,-0.5 0,1.4 -0.7,-0.9zM161.8,68l6.2,-1.2 0,28.7 -2,-0.6 -4,0 -0.5,-0.9 1.1,-2 -2.4,-2 0,-2 1.8,-1.9 -1.9,-2.1 0,-2 0.8,-2 -1.5,-4 0,-2 2.3,-4 0.1,-2zM13.2,116l4.8,-0.3 4.5,0.3 1.5,0.8 3.2,3.2 1,2 -1,2 2.7,6 -1.9,2 -1.7,4 -6.3,3.7 -4,0.5 -8,-1.7 -1.1,-0.5 0,-2 -2.1,-2 0.1,-4 -1.5,-4 -1.4,-1.9 2.3,-2.1 0.6,-2 1.6,-2 3.5,-1.4 3.2,-0.6z" fill="#02b7f9" stroke="none"/>
<path d="M48,-2l6,0 2,1.6 1.5,2.4 2.7,6 9.8,10 2.1,4 3.3,2 1,2 -0.5,2 1.6,2 0.1,2 1.4,2 -1.6,2 2.4,2 1.2,2 -0.4,2 1.4,0.9 2,-1.6 2.5,-3.3 -1.2,-2 1.3,-2 -0.6,-2 1.2,-2 -0.2,-2 2.1,-4 -0.9,-2 3.8,-3.6 4,-2.4 0.4,-2 4,-4 1.6,-2.8 2,-1.7 6,-2.4 2,-1.5 2,-0.5 2,0.4 0.8,0.5 -0.5,2 5.7,1.6 1.2,2.4 2.8,2.3 3.1,3.7 2.6,2 0.2,2 1.9,4 3,2 0.5,2 -0.2,2 1.4,2 -0.1,2 1.4,2 -2,2 1.9,2 0.9,2 -0.5,2 0.9,2 -0.7,2 1.6,4 -1.2,4 1.2,2 0.5,2 -0.3,2 0.4,2 -0.8,4 -1.4,2 1.3,2 -1,4 0.1,2 1.9,4 -0.5,2 -1.2,2 0.7,2 -1.8,2 -0.2,2 0.7,2 -1.1,2 0.4,2 -2.4,4 0.9,2 0.4,4 -1.7,2 1.8,2 0,2 1.6,4 -1.3,2 0.2,2 0.9,2 -0.1,4 1.5,4 -4.9,2 -2.5,1.6 -2,0.4 -2,0 -4,-1.2 -2,0 -6,1.3 -8,-0.3 -6.5,2.2 -11.5,2.5 -8,-1.5 -6,-4.3 -0.6,-0.7 0.1,-2 -1.3,-2 0.5,-4 1.9,-2 1,-2 -0.3,-2 3.3,-4 0.1,-2 1.1,-2 -1,-2 2.7,-2 0.2,-4 -1.3,-2 1.8,-4 -0.7,-2 0.2,-2 -1.4,-2 0,-2 0.7,-2 -2,-2 -1,-5.5 -2,-1.5 -0.4,1 0.7,2 -1.1,2 -1.9,2 0.4,2 -2.1,2 -1.3,4 -4.3,3.6 -4,1.3 -6,0.1 -4,-0.7 -6.7,-2.3 -3.3,-1.9 -8.9,-2.1 -2.3,-2 -0.2,-2 -2.2,-2 1.2,-2 -0.3,-2 -1.5,-2 -1.3,-4 1.6,-4 -1.3,-2 1.5,-6 -0.3,-2 0.5,-2 -0.1,-2 -1.2,-2 1.7,-4 -1.4,-4 1.1,-2 -0.5,-2 0.5,-2 -0.2,-2 -1.9,-2 1.9,-2 -0.9,-2 0.5,-1.9 -0.9,-2.1 2.4,-4 -1.9,-2 0.4,-2 2,-3.9 0.3,-2.1 2.4,-4 0.6,-2 4.5,-4 4.2,-2.8 3,-1.2 -1,-2zM-2,38l0,-1.9 3.9,1.9 2.1,2 2.4,4 0.1,2 3.4,4 0.3,4 1.8,2 0.5,2 -0.1,2 0.8,2 0,2 -1.9,4 1,2 -1.3,2 -0.6,8 -0.9,2 -1.7,2 0.6,2 -3.2,2 -3.2,2.7 -2,0.4 -2,-0.2 0,-52.9zM163.9,80l0.7,0 -0.6,0.2zM159.2,108l4.8,-1.9 4,0.5 0,13.2 -1,0.2 1,0.4 0,3.6 -2,-0.2 -4,-1.3 -2,1.3 -1.5,4.2 0.6,2 -1.5,2 -3.6,3 -2,0.3 -2,-0.5 -1.4,-0.8 -1.7,-4 -1.6,-2 -1,-4 9.7,-7.4 1.6,-2.6 4.1,-4 -0.5,-2zM15.9,118l4.1,-0.3 2,0.6 2.9,1.7 1.3,2 -0.9,2 1.6,4 1.5,2 -1.8,2 -2.4,4 -2.2,1.2 -4,1.4 -6,0.1 -2.4,-0.7 -0.5,-2 -2.6,-2 0.1,-4 -2.3,-6 3.5,-2 0.1,-2 2.1,-1.2 5.9,-0.8z" fill="#01dcfc"/>
<path d="M45,4l3,-1.5 2,-0.4 4,0.7 2.8,3.2 0.9,2 2.3,1.7 1.9,2.3 6.6,6 2.2,4 3.2,2 1.2,2 -0.5,2 1.4,2 0,2 1.4,2 -1.6,2 2.2,2 0.6,2 -0.7,2 1.4,2 -0.2,2 0.6,2 -0.1,4 0.4,0.7 2,0.5 4,-3.1 0,-4.1 0.6,-2 -0.2,-2 2.2,-4 -1.4,-2 1.4,-2 -0.9,-2 2,-2 -0.4,-2 1.3,-2 0.3,-2 -0.5,-2 2.1,-2 5.9,-4 0.8,-2 1.4,-2 5.4,-3.6 4,-1.8 2,-0.5 2,0.1 6,2.8 4,2.4 5.3,4.6 0.7,3 1.7,3 3.2,2 0.7,2 0.1,2 1.4,2 0,2 1.2,2 -2,2 1.9,2 1.1,2 -0.5,2 0.9,2 -0.6,2 1.7,4 -1.4,4 1.3,2 0.4,6 -0.9,4 -1.6,2 1.4,2 -1,4 0.2,2 1.9,4 -0.5,2 -1.3,2 0.7,1.8 -1.6,2.2 -0.3,2 0.7,2 -1.1,2 0.3,1.9 -2.5,4.1 0.7,2 -0.1,4 -1.7,2 1,2 -0.2,2 2.2,4 -1.8,2 1.6,4 -1.5,2 0.3,2.7 -2.4,3.3 -3.6,0.5 -8,-0.9 -6,1.2 -6,0.5 -2,0.3 -10,4.1 -6,1.1 -4,-0.5 -2,-0.8 -5.2,-3.5 0.4,-2 -1.5,-2 -0.5,-4 1.9,-2 0.7,-2 -0.7,-2 2.9,-3.8 0,-2 0.9,-2.2 -0.9,-1.9 2.7,-2.1 0.4,-4 -1.5,-2 1.9,-4 -0.7,-2 0.4,-2 -1.4,-2 0.2,-2 0.9,-2 -2,-2 0.2,-4 -2.7,-6 0.1,-4 -0.5,-0.6 -2,1.1 -2,2 -1,3.5 0.3,4 -0.5,2 -1.4,2 0.5,2 -1.9,1.9 -1.3,2.1 -0.3,2 -4.4,2.6 -4,0.9 -4,0.1 -6,-1 -5,-2.6 -11,-4.4 -1.3,-1.6 -2.7,-1.8 1.2,-2.2 -0.4,-2 -1.7,-2 -1.6,-4 1.6,-4 -1.4,-2 1.5,-6 -0.3,-2 0.6,-2 -0.2,-2 -1.2,-2 0.5,-2 1.3,-2 -1.4,-4 1.1,-2 -0.6,-2 0.6,-2 -0.3,-2 -1.9,-2 1.9,-2 -0.9,-2 0.6,-2 -0.9,-2 2.6,-4 -2,-2 0.5,-2 2.3,-4 0.3,-2 3.4,-6 5.8,-4zM82,59.8l0,0.7 0.2,-0.5zM-2,42l0,-1.1 2,0.1 1.8,1 3.3,6 2.2,2 0.9,4 2,2 1.6,8 -0.8,2 -1.5,2 1,2 -1.2,2 0.2,2 -1.3,6 -0.7,2 -1.5,2 0.3,2 -6.3,2.6 -2,0.2 0,-46.8zM161.4,114l0.6,-0.4 2,1.4 4,0.2 0,1.7 -2,0.1 -2,0.9 -2,0.1 -1.7,-2 1.1,-2zM15.5,120l2.5,-0.5 2,0.1 2,1.1 1.2,1.3 -0.7,2 1.8,4 1.7,1.9 -4,5.4 -2,1.2 -4,0.3 -2,-0.4 -4.5,-2.4 -0.5,-2 0.6,-2 -1.8,-4 0.4,-2 7.3,-4zM152.6,122l1.4,-0.8 2,0.5 0.7,4.3 -2.2,2 -0.1,4 -2.4,0.7 -1,-0.7 0.1,-2 -2.9,-2 0.1,-2 0.7,-2 3.6,-2z" fill="#00fff7" stroke="none"/>
<path d="M45.4,6l4.6,-1.9 2,0.1 2,1.6 0.6,2.2 3.9,2 1.3,2 4.2,3.1 3,2.9 2.4,4 3.3,2 1.2,2 -0.5,2 1.5,2 -0.3,2 1.6,2 -1.6,2 2.2,2 0.4,2 -0.6,2 0.9,2 0.6,6 -0.7,2 0.6,2 2.4,2 -1.7,4 0.5,2 -1.8,6 1.2,2 -2,2 -0.8,2 -0.1,6 -0.4,2 -1.3,1.9 0.7,2.1 -4.2,4 -0.8,2 -5.7,1.9 -4,0.5 -4,-0.4 -9.4,-4 -2.2,-2 -0.4,-0.9 -8,-2.8 -0.4,-0.3 1.3,-2 -0.6,-2 -2.3,-2.5 -1.5,-3.5 1.6,-4 -1.4,-2 1.5,-6 -0.4,-2 0.6,-2 -0.1,-2 -1.4,-2 0.6,-2 1.3,-2 -1.4,-4 1.1,-2 -0.6,-2 0.5,-2 -0.2,-2 -1.9,-2 1.7,-1.8 -0.6,-2.2 0.5,-2 -0.9,-2 2.7,-4 -1.7,-1.9 0,-0.5 1.3,-3.6 1.5,-2 0.5,-2 2.7,-4.6 1.3,-1.4 4.1,-2zM108.3,10l1.7,-1.1 2,-0.4 10,3.7 4.6,3.8 3,6 3.6,2 1.1,4 1.5,2 -0.1,2 1.2,2 -1.9,2 3,3.9 -0.4,2.1 1,2 -0.6,2.2 1.7,3.8 -1.4,4 1.3,2 -0.1,8 -0.5,2 -1.8,2 1.4,2 -1.2,4 0.4,2 1.9,4 -2,4 1,2 -1.8,2 -0.5,2 0.8,2 -1.1,2 0,2 -2.6,4 0.5,4 -2,2.5 -2,0.4 -2,-0.2 -0.8,1.3 2.7,2 -1.1,4 4.5,2 -1.3,0.9 -2,0.5 -2,-0.5 -2.3,-0.9 0.3,-1.9 -2,-2 -4,-1 -2,0.2 -2.7,2.7 0,2 2.3,4 -3.5,2 -1.2,2 1.1,1.9 -2,1.7 -4,0.9 -6,4.1 -6,1.9 -6,0.6 -3.4,-1.1 -2.1,-2 -0.8,-2 -1.7,-1.8 -0.9,-4.2 1.8,-2 0.5,-2 -0.7,-2 1.8,-2 0.9,-2 -0.3,-2 0.9,-1.8 -0.9,-2.2 2.7,-2 0.6,-4 -1.5,-2 2,-4 -0.8,-2 0.5,-2 -1.5,-2 0.2,-2 1.2,-2 -2,-2 0.1,-4 -2.5,-6 0.8,-4 -1.9,-2 2.2,-4 -0.4,-2 0.3,-4 -1,-4 3.9,-3.9 -0.2,-2.1 1.4,-4 -0.5,-2 1.5,-4 -1.6,-2 1.4,-1.9 -0.8,-2.1 2.8,-1.9 -0.9,-2.1 1.4,-2 0.6,-4 1.9,-2 5,-3.4 2,-3.3 1.5,-1.3 4.8,-2zM-2,46l0,-1.6 2,0.7 1,0.9 0.9,2 2.3,2 1,2 -0.2,2 3,2 0.7,4 1.2,2 0.4,2 -0.8,2 -1.5,2 1.1,2 -1.1,1.8 -0.1,2.2 -1.5,4 -0.4,3.1 -1.8,2.9 -0.4,2 -1.8,0.5 -3.7,-0.5 -0.3,-2 0,-38zM12.8,124l5.2,-1.6 4,5.2 1,2.4 -3,4.3 -2,0.7 -2,-0.2 -2,-1 -2,-1.7 0.5,-2.1 -0.5,-1.8 1.5,-2.2 -0.7,-2z" fill="#00ffd1"/>
<path d="M44,8l4,-1.2 2,-0.1 1.5,1.3 5,2 3.5,3.5 3.7,2.5 1.9,2 2.6,4 3.5,2 1.1,2 -0.5,2 1.5,2 -0.4,2 1.9,2 -1.7,2 2.2,2 0.3,2 -0.5,2 1.3,8 -1,2 0.8,2 2,2 -1,2 -0.3,2 0.3,2 -1.7,6 1.2,2 -1.8,2 -0.8,2 0,6 -0.6,2 -1.2,2 0.8,2 -3.6,3.1 -2,0.9 -2.5,2 -3.5,1 -6,-0.1 -6,-2.1 -1.6,-0.8 -1.9,-2 0,-2 -7.2,-2 -0.2,-2 -1.1,-1.9 -3.9,-4.1 -0.6,-2 1.3,-2 0.4,-2 -1.6,-2 1.6,-6 -0.5,-2 0.7,-2 -0.2,-2 -1.5,-2 0.6,-2 1.3,-2 -1.3,-4 1,-2 -0.6,-2 0.5,-2 -0.3,-2 -1.8,-2 1.8,-2 -0.6,-2 0.5,-2 -0.8,-2.1 2.8,-3.9 -1.7,-2 1.4,-4 1.7,-2 0.5,-2 2.6,-4 2.7,-2zM109.1,12l2.9,-0.9 10,3.1 2.3,1.8 1.7,2 1.7,4 3.9,2 1.3,4 1.6,2 -0.3,2 1.4,2 -1.8,2 3.1,4 -0.3,2 0.9,2 -0.6,2 1.9,4 -1.6,4 1.4,2 0,2 -0.5,2 0.3,4 -0.6,2 -1.8,1.9 1.5,2.1 -1.4,4 2.1,6 -1.9,4 1,2 -1.9,2 -1,2 1.1,2 -1.5,2.9 -3.1,3.1 -0.4,2 0.8,2 -1.3,1.3 -4.6,0.7 -1.3,2 -2.1,1.6 -2,0.5 -4,-0.8 -2.6,0.7 1.4,2 -1.9,4 -1.4,4 -0.7,4 -1.1,2 -2.5,2 -4.5,2 0.2,2 -2.9,1.5 -10,1.1 -2,-1.1 -3.8,-3.5 -1.5,-4 1.6,-2 0.7,-2 -0.7,-2 1.7,-1.9 0.7,-2.1 -0.5,-2 1,-2 -1,-2 2.8,-2 0.6,-4 -1.6,-2 2.3,-4 -1,-2 0.5,-2 -1.4,-2 0.2,-2 1.3,-2 -1.9,-1.9 -0.2,-4.1 -2.5,-6 0.9,-2 0.1,-2 -1.8,-2 2.5,-4 -0.4,-4 0.7,-2 -1.5,-4 3.7,-4 -0.4,-2 1.8,-4 -0.6,-2 1.2,-4 -1.7,-2 1.6,-2 -0.6,-2 2.9,-2 -1.1,-2 1.4,-1.8 3.1,-6.2 3.7,-2 2,-2 1.2,-2.2 5.1,-1.8zM-2,52l0,-0.8 2,0.1 1,0.7 0.1,2 4.2,2 0.9,2 -0.2,2 2.2,2 0.3,2 -0.5,2 -1.4,2 1.2,2 -1,2 -0.8,3 -1.7,3 0.4,2 -2.7,3.7 -2,0.6 -1.7,-0.3 -0.3,-2 0,-30zM15.6,130l0.4,-0.5 2,0.1 0.3,2.4 -2.3,0.3 -0.5,-0.3 0.1,-2z" fill="#00ffac" stroke="none"/>
<path d="M44.1,10l3.9,-0.9 5.5,0.9 5.2,4 3.7,2 4.7,6 3.6,2 0.9,2 -0.3,2 1.6,2 -0.6,2 2.1,2 -1.6,2 2.1,2 -0.1,4 1,8 -1,2 0.7,2 1.8,2 -0.9,2 0.2,4 -1.8,6 1.2,2 -1.7,2 -0.9,2 0.1,6 -0.6,2 -1.3,2 0.8,2 -4.4,2.9 -6,2.8 -1.7,0.3 -4.3,-0.2 -6,-1.8 -1.7,-2 0.1,-2 -3.9,-2 -3.6,-4 -4.9,-3.4 -1.3,-2.6 1.5,-2 0.3,-2 -1.8,-2 0.7,-4 0.9,-2 -0.5,-2 0.7,-2 -0.3,-2 -1.5,-2 0.5,-2 1.3,-2 -1.4,-4 1.1,-2 -0.6,-2 0.4,-1.8 -0.2,-2.2 -1.8,-2 1.8,-2 -0.6,-2 0.6,-2 -1,-2 3.1,-4 -1.6,-2 1.7,-4 1.7,-2 0.5,-2 1.8,-2.7 2,-1.3zM110.9,14l1.1,-0.4 6,1 4,1.5 2.2,1.9 1.7,4 4,2 1.3,4 1.9,2 -0.5,2 1.8,2 -1.8,2 3.1,4 -0.1,2 0.7,2 -0.4,2 2,4 -1.9,4 1.6,2 -0.8,4 0.4,4 -0.5,2 -1.8,2 1.5,2 -1.6,4 1.8,6 -1.4,2 -0.5,2 1,2 -4.2,4 1.6,2 -6.9,6 -2.2,3.7 -6.9,2.3 -7,4 1.6,2 -3.7,1.8 0,0.9 0.8,1.3 0,2 -1.7,2 -0.3,2 -1.9,2 -6.1,4 -0.9,2 -1.9,1.4 -4,0.7 -2,-0.4 -2.8,-1.7 -1.7,-2 -1,-2 2.3,-4 -0.5,-2 1.7,-2 0.3,-2 -0.8,-2 1,-2 -1.1,-2 3,-2 0.4,-4 -1.4,-2 2,-2 0.5,-2 -1,-2 0.3,-2 -1.2,-1.8 -0.1,-2.2 1.4,-2 -1.8,-2 -0.5,-2 0.1,-2 -2.5,-6 1.1,-2 -0.1,-2 -1.8,-2 2.8,-4 -0.6,-4 1.2,-2 -1.7,-4 3.3,-4 -0.4,-2 2,-4 -0.7,-2 1.1,-4 -1.8,-2 1.8,-2 -0.2,-2 2.3,-2 -0.8,-2 3.9,-3.9 0,-2.1 1.1,-2 3.8,-2 3.1,-2.6 4.9,-1.4zM-2,56l0,-0.6 2.7,0.6 -0.7,0.5 -2,0.1 0,-0.6zM-2,60l0,-1.1 4,-0.1 0.6,1.2 3.1,2 0.2,2 -1.1,4 1.6,2 -4,8 0.3,2 -2.7,2.3 -2,0.2 0,-22.5z" fill="#00ff72"/>
<path d="M43.5,14l2.5,-1.3 6,0 8,3.8 2,1.7 3,3.8 3.8,2 0.7,2 0.1,2 1.6,2 -0.6,2 2.2,2 -1.6,2 1.9,2 0.5,6 -0.5,2 0.9,3.8 -0.9,2.2 0.3,2 1.5,2 -0.5,2 0.4,4 -1.1,4 -1.1,2 1.2,2 -2.4,4 -0.2,4 0.5,2 -0.8,2 -1.8,2 -0.6,2 -3.2,2 -3.3,1.1 -6,1.1 -2.4,-0.2 -2.1,-2 -0.3,-2 -3.2,-1.9 -0.1,-2.1 -3.9,-3.8 -4,-2.2 -1.8,-2 2,-4 -2.2,-1.9 -0.3,-2.1 1.3,-4 -0.4,-2 0.3,-2 -0.3,-2 -1.7,-2 0,-2 1.1,-1.9 -1.3,-4.1 1.2,-2 -0.6,-2 0.3,-2 -0.3,-2 -1.7,-2 2,-2 -0.6,-2 0.6,-2 -0.9,-2 3.5,-4 -1.3,-2 4.6,-6 0,-2zM106.1,18l1.9,-1 4,-0.9 6,0.9 2.5,1 1.5,1.6 1,2.4 3.6,2 1.2,4 2.2,1.9 0.1,2.1 1.9,1.9 -1.5,2.1 3.1,4 0.4,6 2,3.9 -2,4.1 1.7,2 -1,4 0.5,4 -0.6,2 -1.6,2 1.3,2 -1.7,4 0.5,6 -1.3,2 -0.3,2 0.8,2 -5.8,4 -0.2,2 -2.6,2 -0.9,2 -2.8,2.6 -10,4.3 -1.8,1.1 -1,2 -3.7,2 2.7,2 -2,2 -0.6,2 -1.4,2 -0.4,2 -2.1,2 -5.7,1.7 -2,0.1 -2.3,-3.8 2.3,-1.4 4.8,-0.6 -2.8,-1 -1.7,-3 -0.3,-1.9 -1.6,-2.1 3.6,-2 -0.7,-6 3.2,-2 -0.4,-2 -1.3,-2 -0.1,-2 -2.2,-4 2,-2 -1.3,-2 -0.3,-4 -3.9,-6 1.1,-2 0.3,-2 -1.6,-2 0.8,-2 1.4,-2 -0.6,-4 2,-2 -0.4,-2 -1.6,-2 1,-2 1.7,-2 -0.4,-2 1.8,-4 -0.5,-2.2 1.5,-3.8 -1.9,-2 2.1,-2 -0.4,-2 1.5,-2 -0.4,-2 4.8,-4 -0.4,-2 1.2,-1.3 4,-2.6zM-2,72l0,-1 2,-0.3 2,0.8 0.2,0.5 -4.2,3.4 0,-3.4z" fill="#00ff26"/>
<path d="M49,16l3,-0.3 6,1.9 2,1.4 2.9,3 4,2 1.1,4 1.7,2 -0.5,2 2.1,2 -1.6,2 1.6,2 0.4,2 0.5,4 -0.8,2 1.2,4 -1,2 0.1,2 1.2,2 -0.2,4 0.5,2 -1.3,4 -1.3,2 1,2 -2.2,4 -0.4,2 0.6,4 -1.1,2 -3.1,2 -1.4,2 -2,1.2 -4,0.9 -2,0 -2,-2.1 -3.8,-2 0.5,-2 -3.2,-4 -1.9,-4 -0.1,-4 -3.5,-2 -0.2,-2 1.2,-2 -1,-1.9 -0.5,-2.1 -0.2,-4 -2.1,-2 -0.3,-2 0.9,-2 -1.7,-4 1.3,-2 -0.3,-6 -1.7,-2 2.2,-2 -0.6,-2 0.7,-2 -0.9,-2 4.2,-4 -1.5,-2 1.5,-2 3,-2.7 3,-1.3zM104.7,22l3.3,-1.4 10,-0.6 2,2 4,2 1.3,4 2.3,2 0.2,2 2.2,2 -1.5,2 3.2,4 -0.5,2 0.4,2 1.1,4 1.5,2 -2,4 1.7,2 -0.3,2 -0.8,2 0.4,4 -0.6,2 -1.6,2 1,1.9 -1,2.1 -0.9,4 0,2 -2.9,4 0.8,3.8 -3.9,2.2 -2.1,3.3 -4,1.7 -4,2.9 -4,-0.5 -8,-2 -2,-0.9 -0.6,-2.5 -2.5,-2 3.9,-2 -2,-2 0.3,-2 -0.5,-2 -1.6,-2 -3,-1.9 -1.8,-2.1 0.9,-4 -0.9,-2 0.1,-2 1.2,-2 -0.2,-4 1.9,-2 -0.4,-2 -1.9,-2 0.7,-2 1.8,-2 -0.5,-2 0.3,-2 1.3,-2 -0.3,-2 1.7,-4 -1.2,-2 2,-2 -0.8,-2 0.9,-2 -0.1,-2 5.5,-4 0.5,-2z" fill="#24ff00"/>
<path d="M49.3,18l2.7,-0.5 2,0.3 3.9,2.2 2.1,1.8 5,2.2 1.3,4 2.1,2 -0.4,1.9 1.8,2.1 -1.6,2 1.5,2 1.1,6 -1,2 1.4,4 -1,2 -0.1,2 1.1,2 0.3,6 -1.5,4 -1.5,2 0.8,2 -2,4 -0.4,2 0.2,4 -1.8,2 -5.3,1.7 -4,-0.1 -2,-0.6 -1,-3 -2.3,-2 -1.4,-4 -0.3,-4 -2,-2 0,-4 -1.5,-2 -1.5,-6 -2,-1.9 -0.7,-2.1 0.4,-2 -1.3,-2 -0.6,-2 1.3,-2 -0.2,-2 0.4,-2 -0.3,-2 -1.6,-2 2.2,-2 -0.5,-2 1.2,-2 -0.3,-2 2.4,-2 1.4,-2 -1.7,-2 1.9,-2.2 3.3,-1.8zM108.2,24l1.8,-1.1 2,-0.2 6,0.5 2.9,0.8 2,4 2.7,2 0.1,2 2.2,2 -1.6,2 3.3,4 -0.9,2 1.8,6 1.8,2 -1.8,4 1.3,2 -0.1,2 -0.9,2 0.4,2 -0.2,2 -0.7,2 -1.5,2 0.5,2 -1,4 -1.7,2 -1.1,4 -2.6,2 -0.9,3.1 -2,2.2 -2,1 -2,0.1 -2,0.7 -2,1.4 -2.7,-0.5 -1.3,-2 -5.4,-4 -0.1,-4 -2,-2 -3.4,-2 -1.1,-1.9 0.1,-2.1 -1.4,-4 1.4,-4 -0.1,-2 1.1,-2 0.5,-2 -0.4,-2 -1.9,-2 0.6,-2 1.9,-2 -0.7,-2 -0.1,-2 1.7,-2 -0.1,-2 1.2,-4 -0.7,-2 2.4,-2 -0.9,-2 0.9,-2 -0.3,-2 7,-4z" fill="#6dff00"/>
<path d="M50.1,20l1.9,-0.4 2,0.3 2.9,2.1 6.1,2 1.2,2 0.4,2 2.4,2 -0.3,2 1.6,2 -1.6,2 1.3,1.8 1.4,6.2 -1.1,2 1.5,4 -1.4,4 1.2,2 0.2,6 -1.8,4 -1.5,2 0.5,2 -2.2,4 -0.4,2 0.4,2 -0.8,1.4 -2,1 -2,-0.4 -4,-1.8 -2.2,-2.2 -1.1,-2 -0.8,-4 -2.2,-2 -0.3,-4 -2,-6 -0.8,-2 -1.5,-2 -0.9,-2 -0.1,-2 -1.7,-2 -0.6,-2 1.1,-2 -0.2,-2 0.7,-2 -0.4,-2 -1.6,-2 2.2,-2 -0.4,-2 1.7,-2 0.1,-2 3.4,-4 -1.1,-2 2.7,-2zM108.8,26l3.2,-1.3 6,0.3 1.9,1 0.5,2 3.2,2 0,2 2,2 -1.6,1.9 3.3,4.1 -0.7,2 0.5,2 -0.3,2 1.1,2 2.1,1.9 -1.4,4.1 1,2 -0.1,2 -0.8,2 0.4,2 -1.8,4 -1.3,1.9 0.9,2.1 -0.9,3.1 -3.1,2.9 -0.5,2 0.2,2 -2.6,1.4 -6,1.8 -6,0 -1.5,-1.2 0.2,-2 -2.5,-2 -3.9,-2 -1.1,-2 0.6,-2 -2.4,-4 2.5,-8 -0.4,-4 -1.4,-2 0.7,-2 1.5,-2 -1,-2 -0.3,-2 1.9,-2 -0.2,-2 1,-4 -0.5,-2 2.7,-2 -0.4,-2 1.2,-2 -0.2,-2 4.3,-2z" fill="#b6ff00"/>
<path d="M51.1,24l0.9,-1.4 2,0 6.6,1.4 1.9,2 0.4,2 2.6,2 -0.1,2 1.3,2 -1.6,2 1.5,2 1.2,6 -1.2,2 1.9,4 -1.9,4 1.4,1.8 0.5,2.2 -0.5,4 -2,4 -1.6,2 0.1,2 -2.4,2 -2.1,0.8 -2,-0.2 -0.9,-0.6 -1.3,-2 -3.5,-2 -2.3,-9.8 -2.4,-4.2 -0.7,-4 -1.8,-2 -0.8,-2 0.5,-2 -0.1,-2 0.7,-2 -0.6,-2 -1.6,-2 2.4,-2 -0.2,-2 1.6,-2 0.1,-2 4,-4zM109.7,28l6.3,-1.1 5,3.1 0.1,2 1.9,2 -1.6,2 2.1,2 1.4,2 -0.4,2 0.3,2 -0.5,2 0.8,2 2,2 -0.9,2 0.3,2 0.9,2 -0.8,4 0.2,2 -4.3,6 1.9,2 -0.4,1.8 -4,2.6 -5,1.6 -1,3.8 -2,0.1 -7.4,-3.9 -1,-2 0.9,-2 -0.5,-1.8 -3,-2.2 -0.3,-2 0.2,-2 1.6,-2 0.1,-2 -1.6,-6 0.3,-2 1.3,-2 -1.3,-2 0,-2 2.1,-2 -0.6,-2 1,-4 0,-2 3,-2 0.4,-2 2.1,-2 0.4,-2z" fill="#ffff00"/>
<path d="M51.5,26l2.5,-1.3 2,-0.3 2,0.3 2,0.9 0.9,2.4 2.9,2 0.1,2 1,2 -1.5,2 1.6,2 1.2,6 -1.4,2 2.2,4 -2.1,4 1.5,2 0.5,2 -0.7,4 -1.2,2 -3,3.1 -2,1.1 -2,-0.6 -1.1,-1.6 -2.8,-2 -1.2,-6 -2.9,-4 -0.2,-4 -3.3,-4 0.8,-6 -2.1,-4 2.4,-2 0,-2 1.5,-2 0,-2 2.4,-2zM112.6,32l1.4,-0.9 2,-0.5 3.8,3.4 -1.4,2 2.5,2 1.1,2 0,6 0.6,2 1.8,2 -1,2 0.6,2 1.2,2 -0.8,6 -1.3,2 -4.1,4 -0.7,2 -4.3,1 -2,-0.4 -2,-1.3 -4,-1.2 -1.8,-4.1 2.4,-2 -3.3,-8 0.3,-2 1.3,-2 -1.6,-2 0.7,-2 2,-1.8 -0.4,-2.2 0.4,-2.4 1.7,-3.6 3.1,-2 1.8,-2z" fill="#ffb600"/>
<path d="M51.6,28l2.4,-1.3 2,-0.4 5.6,3.7 1,4 -1.3,2 1.7,2 1.2,6 -1.6,2 2.6,4 -2.2,4 1.7,4 -1.4,2 0.1,2 -1.4,1.2 -2,0 -2,-1.1 -1.6,-4.1 -2.4,-2 -1.4,-2 0.3,-2 -0.5,-2 -3.7,-4 0.5,-2 0.1,-4 -1.9,-4 2.4,-2 0.4,-2 1.1,-2 0.3,-2zM112.4,38l1.6,-0.5 2,0.5 1.5,2 -0.8,2 -0.1,2 1.4,1.2 3.6,4.8 -0.9,2 0.4,2 1.4,2 -0.2,2 -1.6,4 -0.2,2 -2.5,1.9 -2,0.7 -6.2,-2.6 0.9,-2 -1.2,-2 0.1,-2 -2,-2 -0.9,-2 -0.1,-2 1.4,-2 -2,-1.8 0,-0.5 4.3,-3.7 -0.6,-4 2.7,-2z" fill="#ff6d00"/>
<path d="M54.6,30l1.4,-0.6 2,0.5 1.9,4.1 -1.6,2 1.7,1.9 1.1,6.1 -1.1,2 2.2,4 -2.2,5 -2,0.2 -2,-1.1 0.8,-2.1 -2.7,-4 -2.1,-2 0,-2 0.9,-2 -1.8,-4 -1.4,-2 2.6,-2 2.3,-4zM113.7,50l0.3,-0.9 2,0.1 0.6,0.8 -0.5,2 0.3,2 -0.4,0.3 -2.4,-0.3 -0.7,-2 0.8,-2z" fill="#ff2400"/>
</g>
<rect x="29.8" y="36.5" width="164.9" height="144.3" fill="none" stroke="#222" stroke-width="0.7"/>
<text x="30.4" y="193.0" font-size="8.6" text-anchor="middle" font-family="'Liberation Sans', sans-serif" >0</text>
<text x="57.3" y="193.0" font-size="8.6" text-anchor="middle" font-family="'Liberation Sans', sans-serif" >15</text>
<text x="84.2" y="193.0" font-size="8.6" text-anchor="middle" font-family="'Liberation Sans', sans-serif" >30</text>
<text x="111.1" y="193.0" font-size="8.6" text-anchor="middle" font-family="'Liberation Sans', sans-serif" >45</text>
<text x="138.0" y="193.0" font-size="8.6" text-anchor="middle" font-family="'Liberation Sans', sans-serif" >60</text>
<text x="164.9" y="193.0" font-size="8.6" text-anchor="middle" font-family="'Liberation Sans', sans-serif" >75</text>
<text x="191.8" y="193.0" font-size="8.6" text-anchor="middle" font-family="'Liberation Sans', sans-serif" >90</text>
<text x="25.0" y="183.7" font-size="8.6" text-anchor="end" font-family="'Liberation Sans', sans-serif" >0</text>
<text x="25.0" y="169.3" font-size="8.6" text-anchor="end" font-family="'Liberation Sans', sans-serif" >5</text>
<text x="25.0" y="154.9" font-size="8.6" text-anchor="end" font-family="'Liberation Sans', sans-serif" >10</text>
<text x="25.0" y="140.5" font-size="8.6" text-anchor="end" font-family="'Liberation Sans', sans-serif" >15</text>
<text x="25.0" y="126.1" font-size="8.6" text-anchor="end" font-family="'Liberation Sans', sans-serif" >20</text>
<text x="25.0" y="111.7" font-size="8.6" text-anchor="end" font-family="'Liberation Sans', sans-serif" >25</text>
<text x="25.0" y="97.3" font-size="8.6" text-anchor="end" font-family="'Liberation Sans', sans-serif" >30</text>
<text x="25.0" y="82.9" font-size="8.6" text-anchor="end" font-family="'Liberation Sans', sans-serif" >35</text>
<text x="25.0" y="68.5" font-size="8.6" text-anchor="end" font-family="'Liberation Sans', sans-serif" >40</text>
<text x="25.0" y="54.1" font-size="8.6" text-anchor="end" font-family="'Liberation Sans', sans-serif" >45</text>
<text x="25.0" y="39.7" font-size="8.6" text-anchor="end" font-family="'Liberation Sans', sans-serif" >50</text>
<path d="M30.4,180.8v3M57.3,180.8v3M84.2,180.8v3M111.1,180.8v3M138.0,180.8v3M164.9,180.8v3M191.8,180.8v3M43.8,180.8v1.8M70.7,180.8v1.8M97.6,180.8v1.8M124.5,180.8v1.8M151.4,180.8v1.8M178.3,180.8v1.8M29.8,180.8h-3M29.8,166.4h-3M29.8,152.0h-3M29.8,137.6h-3M29.8,123.2h-3M29.8,108.8h-3M29.8,94.4h-3M29.8,80.0h-3M29.8,65.6h-3M29.8,51.2h-3M29.8,36.8h-3M29.8,173.6h-1.8M29.8,159.2h-1.8M29.8,144.8h-1.8M29.8,130.4h-1.8M29.8,116.0h-1.8M29.8,101.6h-1.8M29.8,87.2h-1.8M29.8,72.8h-1.8M29.8,58.4h-1.8M29.8,44.0h-1.8" stroke="#222" stroke-width="0.7" fill="none"/>
<text x="112.5" y="207.7" font-size="10" text-anchor="middle" font-family="'Liberation Sans', sans-serif" >time [ns]</text>
<text transform="translate(9.0,111.4) rotate(-90)" font-size="10" text-anchor="middle" font-family="'Liberation Sans', sans-serif">distance from electrode [mm]</text>
<text x="0.3" y="27.8" font-size="11" text-anchor="start" font-family="'DejaVu Sans', sans-serif" >(c)</text>
<text x="29.5" y="30.5" font-size="9.5" font-family="'Liberation Sans', sans-serif">θ<tspan font-size="6.3" dy="1.8">hf</tspan><tspan dy="-1.8">= 180°</tspan></text>
<rect x="206.2" y="39.0" width="10.2" height="141.5" fill="url(#cb)"/>
<text x="219.8" y="181.7" font-size="7.6" text-anchor="start" font-family="'Liberation Sans', sans-serif" >0.0</text>
<text x="219.8" y="167.8" font-size="7.6" text-anchor="start" font-family="'Liberation Sans', sans-serif" >3.4</text>
<text x="219.8" y="153.8" font-size="7.6" text-anchor="start" font-family="'Liberation Sans', sans-serif" >6.8</text>
<text x="219.8" y="139.9" font-size="7.6" text-anchor="start" font-family="'Liberation Sans', sans-serif" >10.1</text>
<text x="219.8" y="125.9" font-size="7.6" text-anchor="start" font-family="'Liberation Sans', sans-serif" >13.5</text>
<text x="219.8" y="112.0" font-size="7.6" text-anchor="start" font-family="'Liberation Sans', sans-serif" >16.9</text>
<text x="219.8" y="98.0" font-size="7.6" text-anchor="start" font-family="'Liberation Sans', sans-serif" >20.3</text>
<text x="219.8" y="84.1" font-size="7.6" text-anchor="start" font-family="'Liberation Sans', sans-serif" >23.7</text>
<text x="219.8" y="70.1" font-size="7.6" text-anchor="start" font-family="'Liberation Sans', sans-serif" >27.0</text>
<text x="219.8" y="56.2" font-size="7.6" text-anchor="start" font-family="'Liberation Sans', sans-serif" >30.4</text>
<text x="219.8" y="42.2" font-size="7.6" text-anchor="start" font-family="'Liberation Sans', sans-serif" >33.8</text>
<text transform="translate(251.5,105.2) rotate(-90)" font-size="10" text-anchor="middle" font-family="'Liberation Sans', sans-serif">excitation rate [a.u.]</text>
</g>
<g transform="translate(265.6,195.4)">
<g transform="translate(29.8,36.5)" clip-path="url(#pc)" stroke="#001020" stroke-opacity="0.6" stroke-width="0.55" stroke-linejoin="round">
<rect x="0" y="0" width="164.9" height="144.3" fill="#0812ec"/>
<path d="M-2,-2l170,0 0,150 -71.2,0 0.2,-2 -3,-1.1 -1.1,1.1 0.3,2 -32.5,0 -2.7,-3.8 0.8,-2.2 -1,-2 0,-2 -1.2,-2 -0.6,-2 0.7,-2 -0.6,-4 -1.9,-2 1,-4 -1.1,-2 -0.6,-4 -0.9,-2 -2.4,-2 0.6,-2 -2.5,-2 0.7,-2 -2.3,-2 -3.5,-2 -6,-6 0.8,-1.8 -0.6,-2.2 -2.3,-2 1.1,-4 -4.7,-4 -1.3,-4 -4,-4 -2.7,-2 -0.4,-2 -6.8,-4 0.8,-2 -3.1,-4.5 -1.7,-1.5 -2.8,2 1.7,2 -2.2,4 1,5.2 3.4,4.8 2.2,2 0.1,2 1.4,2 3.7,4 0.4,4 4.4,2 0.8,2 -1.2,2 1.5,2 1.3,3.4 0.4,0.6 3.6,2 1.2,2 -2.2,2 2.1,2 -0.9,2 2.7,2 -0.2,4 2,6 -0.6,2 1.8,2 1.6,6 -1.2,2 2.8,6 -2,2 2.3,2 0.9,2 -44.3,0 0,-150zM12,13.1l-2,4.9 1,2 -0.3,2 1.3,0.9 2,-1.5 0.8,-1.4 -2.1,-2 1.3,-1.8 0.4,-2.2 -0.4,-1.2 -2,0.3zM146,11.5l-2,2.2 -2.1,4.3 1.5,2 -0.6,2 1.5,2 -0.9,2 0.9,2 -1.5,2 1.1,2 -1,2 0.3,6 0.6,2 -0.7,2 0.8,2 -0.9,4 0.5,2 1.4,2 -1.8,2 2,2 -1.5,2 0.6,2 -1.7,4 1.3,2 0.9,4 1.3,1.2 2,0.1 2,-1.3 1.2,-2 0.2,-2 -0.9,-2 0.7,-2 -0.3,-2 -2.3,-2 -0.1,-2 -2.1,-2 1.9,-2 -1.7,-2 2.1,-6 -0.2,-2 1.1,-2 -0.7,-8 1.7,-2 -1.2,-2 0.9,-2 -1.1,-2 1,-2 -1.3,-2 1.1,-1.8 -1.5,-2.2 0.7,-4 -1.2,-1.5 -2,-1zM12,28.9l-0.7,1.1 0.7,0.7 0,-1.8z" fill="#081ded" stroke="none"/>
<path d="M-2,-2l13.5,0 0.2,2 -2.1,2 1.9,2 -2.2,2 0.7,4 -0.2,2 -1.8,6 1.4,2 -0.5,2 1.7,2 -1.1,2 0.8,2 -1.3,2 1.5,2 -1.6,2 0.4,6 1.1,2 -1.2,2 0.5,2 -0.8,2 -0.2,2 0.1,2 1.2,2 -2,2 1.7,2 -1.9,2 1.5,2 -2,4 0.9,6 1.5,4 2.5,2 1.1,2 5.2,6 0.1,4 4.3,2 1.1,2 -1.1,2 1.7,2 1.2,4 3.4,2 1.5,2 -1.9,2 2.3,2 -0.9,2 3,2 -0.4,4 1.2,3.9 -0.7,4.1 1.8,2 -0.7,4 0.3,2 -0.3,2 1.3,2 -0.7,4 -2.8,2 2.6,2 1.7,2 -38.5,0 0,-150zM20.7,-2l147.3,0 0,150 -67.4,0 0.2,-2 -1.3,-2 -1.5,-0.7 -6,-0.4 -4.7,1.1 1.8,2 0.8,2 -23.9,0 -3.2,-4 -0.6,-2 -1.6,-2 -0.5,-2 -1.5,-2 -0.8,-2 0.3,-2 -0.6,-4 -1.8,-2 1,-4 -1.2,-2 -0.8,-6 -2.7,-2 1,-2 -2.5,-2 1.4,-2 -2.3,-2 -3.8,-2 -6,-6 0.7,-2 -1.4,-2 -2.5,-2 1.1,-4 -3.9,-4 -1.2,-2 -0.1,-2 -1.9,-2 -0.4,-2 -1.7,-2 -2.1,-4 -2.3,-2 -0.5,-2 -3.6,-1.1 -1.2,-0.9 -2,-2 -0.1,-2 -3.1,-2 0.7,-2 -1.5,-2 -0.7,-2 1.2,-4 -0.4,-2 0.3,-8 0.3,-2 1.5,-2 -0.8,-2 0.9,-2 -0.4,-2 0.9,-2 -0.1,-2 1.3,-2 -1.1,-2 3.6,-6 0.6,-2 -0.9,-4 1.4,-2 -1.4,-2 1.6,-2 0.1,-2zM144,5.1l-1,0.9 -1.1,8 -1.2,4 1.3,1.9 -0.4,2.1 1.6,2 -0.9,2 1,2 -1.4,2 1.3,2 -1.2,1.8 0,6.2 0.9,2 -0.9,2.3 0.8,1.7 -1,4 0.2,2 1.5,2 -1.9,2 2.1,2 -1.1,2 0.8,2 -1.7,4 1.4,2 0.4,4 0.5,0.9 2,1.7 2,-0.1 2,-0.8 1.7,-1.7 0.9,-2 0.1,-2 -1.2,-2 0.9,-2 -0.3,-2 -2.1,-2 0.1,-2 -2.1,-2 1.8,-2 -1.6,-2 0.2,-2 1.6,-4 -0.4,-2 0.9,-2 -0.5,-8 1.4,-2 -1,-2 0.9,-2 -0.9,-2 0.9,-2 -1,-2 1.1,-2 -1.3,-2 1.9,-4 -2.4,-6 -3.1,-2 -0.5,-1.7 -2,0.8z" fill="#072eee" stroke="none"/>
<path d="M-2,-2l9.2,0 0.3,2 -1,2 1.9,2 -1.6,2 1.4,6 -1.4,6 1.4,2 -0.7,2 1.7,2 -1,2 1,2 -1.4,2 1.5,2 -1.6,2 0.2,6 1,2 -1.2,2 0.6,2 -1.2,4 0.1,2 1.3,2 -1.9,2 1.7,2 -1.6,2 1.2,2 -0.6,2 -1.3,1.9 0.5,2.1 0.1,8 10.2,10 -0.1,4 3.7,2 1.3,2 -0.8,2 2,2 1,4 3,2 1.6,2 -1.7,2 2.3,2 -0.8,2 3.1,2 -0.4,4 1.3,4 -1.6,4 1.9,2 -2.4,6 0.3,2 1.7,2 -0.8,2 -1.4,1.2 -5.2,2.8 3.2,1.9 2.3,2.1 -32.3,0 0,-2 1.9,-2 -1.9,-0.3 0,-145.7zM23.8,-2l115.3,0 -3.7,4 2.3,2 -0.2,2 0.5,2 2.3,4 0,2 -0.8,2 -0.1,2 1.6,2 -0.5,2 1.5,1.8 -0.7,2.2 1.1,2 -1.3,2 1.3,2 -1.3,2 0.2,6 0.6,2 -0.8,2 0.7,2 -0.9,4 0.2,2 1.4,2 -1.9,2 2.1,2 -1.1,2 0.9,2 -1.6,4 1.4,2 0.2,4 1.5,2.9 2,1 5.8,-1.9 1.8,-2 0.6,-2 -0.1,-2 -1.4,-2 0.8,-2 -0.2,-2 -2.1,-2 0,-2 -2.1,-2 1.9,-2 -1.6,-2 0.1,-2 1.4,-4 -0.4,-2 0.9,-2 -0.5,-2 0.3,-2 -0.4,-4 1.5,-2 -1.1,-2 1.1,-2 -0.9,-2 1,-2 -1,-2 1.3,-2 -1.1,-2 2.8,-4 -0.4,-2 0.6,-4 -0.7,-2 1.8,-2 -2.8,-2 1.1,-1 2,-0.6 2,0.6 2,1.3 4,0.5 2,-0.8 1.9,-2 -0.4,-2 0.5,0 0,145.1 -3.5,0.9 -0.7,2 -0.1,2 -58.9,0 -1.9,-4 -2.5,-2 -6.4,-0.5 -4,0.4 -5.4,2.1 2.4,4 -14.5,0 0.3,-2 -2,-2 -4.8,-2 -2.8,-2 -0.9,-2 -2,-2 -1,-2 -0.6,-6 -1.8,-2 1.1,-4 -1.2,-2 -0.5,-6 -2.8,-2 1.2,-2 -2.3,-2 1.5,-2 -1.9,-2 -4,-2 -1.4,-2 -4.6,-4 0.5,-2 -1.8,-2 -2.7,-2 0.9,-4 -3.7,-4 -1.1,-2 0.1,-2 -1.7,-2 -0.3,-2 -3.4,-6 -2,-2 -0.8,-3.1 -0.8,-0.9 -3.8,-2 -1,-2 -3.9,-2 0.4,-2 -1.9,-2 -0.9,-2 1.1,-4 -0.6,-2 0.3,-10 1.6,-2 -1,-2 1.3,-2 -0.4,-2 1.1,-2 -0.4,-2 1.5,-2 -0.6,-2 4,-5.8 0.7,-2.2 -0.6,-4 1.6,-2 -1.6,-2 1.4,-2 0.3,-2zM154.2,-2l2.2,0 -0.4,0.6 -1.8,-0.6z" fill="#0641f0" stroke="none"/>
<path d="M-2,-2l5.2,0 0.4,4 2.1,2 -1,2 2.2,6 -0.1,2 -1.2,4 1.6,2 -0.6,2 1.4,2 -0.7,2 0.9,2 -1.2,2 1.3,2 -1.5,2 0.3,6 0.7,2 -1,2 0.5,2 -1.3,4 0.1,2 1.2,2 -1.9,2 1.8,2 -1.5,2 1.1,2 -0.6,2 -1.5,2 0.6,2 -0.1,2 -0.6,4 -0.8,2 3.2,4 5,2.9 3.3,3.1 -0.2,4 3.4,2 1.4,2 -0.7,2 2.1,2 1.1,4 2.7,2 1.6,2 -1.7,2 2.2,2 -0.7,2 3.1,2 -0.3,4 1.3,4 -2,4 1.8,2 -0.7,2 -0.9,2 -1.8,2 -0.3,4 -4.9,4 -3.3,2 3.1,2 0.1,2 -12.1,0 -0.5,-2 -2.3,-2 -8.8,-1.5 0,-144.5zM25.7,0l0.6,-2 104.8,0 -0.5,4 3.1,2 0.2,2 4.6,6 0.3,2 -0.6,2 0.1,2 1.6,2 -0.3,2 1.7,2 -0.9,2 1.2,2 -1.2,2 1.3,2 -1.3,2 0.1,6 0.7,2 -0.9,2 0.8,2 -1.1,4 0.2,2 1.5,2 -1.9,2 2,2 -1,2 0.9,2 -0.4,2 -1.1,2 1.4,2 0.1,4 1.4,4 0.9,0.8 2,0.3 8,-3 1.8,-2.1 0.4,-2 -0.4,-2 -1.8,-2 0.7,-2 -0.3,-2 -2.1,-2 0.1,-2 -2.2,-2 1.8,-1.9 -1.5,-2.1 -0.1,-2 1.4,-4 -0.6,-2 1,-2 -0.5,-2 0.3,-2 -0.4,-4 1.4,-2 -1,-2 1.1,-2 -0.8,-2 1.1,-2 -0.9,-2 1.2,-2 -0.7,-2 3.5,-4 1.5,-2.5 2,-1.3 2,-1.2 6,-0.7 0,130.8 -8,0.9 -7,4 4.1,4 -48.8,0 -1.7,-4 -2.5,-2 -4.1,-1.2 -6,-0.5 -4,0.6 -8.4,3.1 2.3,4 -6.6,0 -0.2,-2 -2.3,-2 -6.8,-2.5 -2.6,-1.5 -1.3,-2 -2.3,-2 -1.1,-2 -1,-6 -1.7,-2 1,-4 -1.5,-4 -0.1,-4 -2.7,-2 1.3,-1.9 -2,-2.1 1.5,-2 -1.8,-2 -3.7,-1.9 -1.2,-2.1 -5.1,-4 0.4,-2 -1.9,-2 -2.9,-2 0.7,-3.9 -3.7,-4.1 -1.2,-2 0.3,-2 -1.3,-2 -0.3,-2 -3.4,-6 -2.1,-2 -0.1,-2 -0.8,-2 -2.5,-2 -0.9,-2 -4,-1.9 -0.8,-2.1 -2.3,-2 -1.2,-2 0.9,-4 -0.8,-2 0.4,-2 -0.4,-2 0.3,-6 1.6,-2 -1,-2 1.3,-1.8 -0.2,-2.2 1.2,-2 -0.5,-2 1.7,-2 -0.3,-2 4.4,-6 0.3,-2 -0.4,-4 1.8,-1.9 -1.6,-2.1 1.3,-2zM162,81.7l0,0.6 2.3,-0.3 -2.3,-0.3z" fill="#0653f1" stroke="none"/>
<path d="M27.8,0l0.7,-2 98.6,0 -0.6,4 4.1,2 -0.1,2 3.5,2.9 2.8,3.1 0.6,2 -0.4,2 0.3,2 1.7,2 -0.2,2 1.7,2 -0.9,2 1.3,2 -1.2,2 1.4,2 -1.4,2 0.1,6 0.8,2 -0.9,2 0.7,2 -1.1,4 0.2,2 1.5,2 -1.9,2 2.1,2 -1.2,2 1.1,2 -0.4,2 -1.2,2 1.4,2 0,4 0.8,2 0,2 2.3,2.2 2,0 10,-3.1 4,-0.5 1,1.4 0,2 -1.7,2 0.2,2 2.8,4 -1.2,2 0,2 2.9,2.5 4,0.3 0,42.8 -6,-0.3 -2,0.9 -1.4,1.8 -5.2,4 -5.4,2 1.6,2 -0.1,2 -21.3,0 -2.2,-0.9 -4,-0.3 -2,0.2 -0.5,1 -6.1,0 0.6,-1 4,-1 0.3,-2 -6.3,-0.7 -8,-3.2 -6,-0.6 -6,0 -2.4,0.5 -7.6,2.9 -4,0.5 -2,-0.3 -8,-2.8 -5,-4.3 -1.2,-2 -0.2,-2 -0.9,-2 -0.1,-2 -1.7,-2 1,-4 -1.1,-2 -0.4,-2 0,-4 -2.6,-2 1.2,-2 -1.9,-2 1.7,-2 -1.7,-2 -3.8,-2 -1.3,-2.7 -4.6,-3.3 0.1,-2 -2,-2 -3,-2 0.4,-4 -3.7,-4 -1.1,-2 0.3,-2 -1.1,-2 -0.3,-2 -3.4,-6 -2.1,-2 -0.7,-4 -2.2,-2 -0.3,-2 -3.8,-2 -0.5,-1.8 -3.1,-2.2 -1.6,-2 -0.1,-2 0.7,-2 -1,-2 0.4,-2 -0.4,-2 0.2,-6 1.7,-2 -1,-2 1.6,-2 -0.3,-2 1.3,-2 -0.4,-2 1.8,-2 -0.1,-2 4.3,-5.9 0,-6.1 1.9,-2 -1.5,-2 1.4,-2zM86,-0.2l2,0.6 4,-0.4 -2,-1.5 -2,-0.1 -2,1.4zM134,143.9l-1.9,0.1 -0.4,2 2.3,1 4,0 2.7,-1 0.1,-2 -6.8,-0.1zM-2,2l1.2,0 3.1,2 0.2,2 3.1,6 0,2 -0.9,4 1.5,2 -0.5,2 1.5,2 -0.7,2 0.9,2 -1.3,2 1.4,2 -1.5,2 0.3,6 0.8,2 -1.2,2 0.5,2 -1.2,4 0,2 1.1,2 -1.8,2 1.7,2 -1.4,2 0.9,2 -0.6,2 -1.6,2 0.5,1.8 -0.2,2.2 -1.8,3.6 -2,0.7 -2,-0.2 0,-72.1zM166.3,12l1.7,-0.3 0,65 -2,-0.4 -6,-2.6 -1,-1.7 -1.2,-4 -2.2,-2 0.3,-2 -0.5,-2 -2,-2 0,-2 -2.2,-2 1.8,-2 -1.6,-2 -0.2,-2 1.3,-4 -0.5,-2 0.8,-2 -0.5,-2 0,-6 1.4,-2 -1.1,-2 1.3,-2 -0.8,-2 1.1,-2 -0.8,-2 1.3,-2 -0.4,-2 3.7,-3.5 2,-1.3 2,-0.7 4,-0.5zM-2,82l2,-1.7 8,2 3.7,1.7 2.1,2 0,4 3.1,2 1.4,2 -0.6,2 2.3,2 1,4 2.7,2 1.4,2 -1.6,2 2,2 -0.8,2 3,2 -0.2,4 1.5,4 -2.3,4 1.6,2 -0.7,2 -1.3,2 -2.2,2 -0.8,2 0.1,2 -5.4,3.9 -2,0.8 -2,0.4 -4,-0.1 -12,-1.5 0,-59.5zM165.9,90l2.1,-0.3 0,0.8 -2,-0.3z" fill="#0565f3" stroke="none"/>
<path d="M29.7,0l0.6,-2 50.5,0 -0.1,2 1.3,1.8 6,0.9 4,-0.7 4,-1.6 0.6,-0.4 0.2,-2 27.8,0 0.1,2 -0.8,2 4.4,2 -0.1,2 3.8,2.8 3.4,3.2 0.8,2 -0.2,2 0.5,2 1.8,2 -0.2,2 1.7,2 -0.8,2 1.2,2 -1,2 1.4,2 -1.4,2 0.1,6 0.7,2 -0.8,2 0.6,2 -1,4 0.1,2 1.5,2 -1.9,2 2.1,2 -1.1,2 1.1,2 -0.5,2 -1.1,2 1.3,2 0,4 0.7,2 -0.2,2 1.2,2 2,1.2 10,-2.1 2,-0.1 2,1 -0.6,2 0.8,2 3.1,4 -1.3,2 -0.5,2 2,2 0.4,2 -1.3,2 1.4,1.7 6,0.5 0,34.7 -6,-1.4 -4.7,4.5 -1.5,2 -3.8,2.9 -4,1.5 -4,0.5 -12,-0.1 -8,-1.1 -10,-0.4 -4,-0.7 -4,-1.5 -6,-0.5 -8,0.2 -4,1 -5.7,2.2 -4.3,0.4 -4,-0.7 -4.8,-1.7 -5.1,-4 -1.4,-2 -0.3,-2 -1,-2 -0.2,-2 -1.6,-2 1,-4 -1.1,-2 -0.5,-2 0.1,-4 -2.5,-2 1.2,-2 -1.7,-2 1.7,-2 -1.5,-2 -3.7,-2 -0.5,-2 -1.9,-2 -3.3,-2 -0.2,-2 -2.1,-2 -3.1,-2 0.2,-4 -3.7,-4 -1.2,-2 0.4,-2 -1,-2 -0.2,-2 -3.4,-6 -2.3,-2 -0.6,-4 -1.9,-2 -0.1,-2 -3.6,-2 0.1,-2 -3.5,-2 -2,-2 -0.3,-2 0.6,-2 -1.2,-2 0.5,-2 -0.5,-2 0.2,-6 1.6,-2 -0.8,-2 1.6,-2 -0.3,-2 1.5,-2 -0.3,-2 1.8,-2 -0.1,-2 3.4,-4 0.9,-2 0.2,-6 1.9,-2 -1.3,-2 1.6,-2zM-2,8l0,-1.7 2,0.2 2,1.8 2.5,3.7 0.1,2 -0.8,4 1.7,2 -0.5,2 1.5,2 -0.6,2 0.9,2 -1.3,2 1.3,2 -1.4,2 0.3,6 0.7,2 -1.2,2 0.5,2 -1.2,4 -0.1,2 1.1,2 -1.8,2 1.7,2 -1.4,2 0.9,2 -0.7,2 -1.7,2 0.2,2 -0.6,2 -2.1,1.1 -2,0 0,-63.1zM161.9,14l6.1,-0.4 0,57.3 -4,0.9 -2,-0.4 -1.4,-1.4 -0.9,-2 -2.6,-2 0,-2 -0.8,-2 -1.9,-2 -0.1,-2 -2.3,-2 1.8,-2 -1.7,-2 -0.2,-2 1.2,-4 -0.6,-2 0.9,-2 -0.6,-2 0.3,-2 -0.3,-4 1.5,-2 -1.1,-2 1.3,-2 -0.7,-2 1.1,-2 -0.7,-2 1.4,-2 -0.1,-2 2.5,-2.3 3.9,-1.7zM1.6,84l2.4,-0.7 4,0.1 1.9,0.6 2.5,2 0.4,2 -0.3,2 3.2,2 1.3,2 -0.6,2 2.4,2 1.1,4 2.7,2 1.3,2 -1.6,2 1.7,1.9 -0.8,2.1 2.8,2 -0.2,4 1.7,4 -2.3,4 1.4,2 -1,2 -3.4,4 -0.9,2 -0.2,2 -5.1,3 -2,0.6 -4,0.2 -12,-1 0,-56.3 3.6,-0.5z" fill="#047bf4" stroke-opacity="0.22"/>
<path d="M33.6,-2l41.7,0 -0.7,2 0.1,2 5.3,2 1.5,2 4.5,0.7 6,-0.5 7.2,-2.2 2.8,-2.4 2,-0.8 4.4,-0.8 0.2,-2 12.3,0 -0.6,2 0.1,2 4.2,2 0.3,2 8.2,6 1.1,2 0.1,2 0.7,2 2.1,2 -0.1,2 1.8,2 -0.8,1.9 1.3,2.1 -1,2 1.4,2 -1.3,2 0.1,6 0.7,2 -0.8,2 0.7,2 -1.2,4 0.1,2 1.6,2 -2,2 2.1,2 -1.1,2 1.1,2 -0.4,2 -1.2,2 1.3,2 0,4 0.5,2 -0.5,2 1,4 1.6,0.9 2,0.2 6,-1.7 2,-0.1 2,0.6 5.8,6.1 -1.8,3.9 1.9,2.1 0.5,2 -1.7,2 1.2,2 0.3,2 -0.4,2 2.1,2 0.6,2 -2.5,2 1.5,2 -1.5,2 2.7,2 -0.7,0.8 -1.1,3.2 0.1,2 0.7,2 -2,4 0.7,2 -1.7,2 -0.8,2 -5.8,6 -2.1,1.4 -4,1.4 -8,0.6 -8,-0.6 -6,-1.1 -6,-0.6 -3.9,-1.1 -10.1,-1.5 -12,1.1 -10,3.1 -4,0.5 -5.5,-1.2 -6.9,-4 -1.6,-2 -0.3,-2 -1.1,-2 -0.3,-2 -1.6,-2 1.1,-4 -1.2,-2 -0.4,-2 0.1,-4 -2.3,-1.9 1,-2.1 -1.6,-2 1.8,-2 -1.2,-2 -3.4,-2 -0.3,-2 -1.1,-2 -3.7,-2 -0.6,-2 -5.7,-4 -0.1,-4 -3.9,-4 -1.2,-1.9 0.4,-2.1 -0.8,-2 -0.1,-2 -3.4,-6 -2.5,-2 -0.5,-4 -1.9,-2 0.1,-2 -3.1,-2 0.7,-2 -5.6,-4 -0.7,-2 0.3,-2 -1.3,-2 0.3,-2 -0.3,-8 1.6,-2 -0.8,-2 1.6,-1.9 -0.2,-2.1 1.6,-2 -0.1,-2 1.7,-2 -0.1,-2 3.5,-4 0.7,-2 0.1,-4 0.6,-2 2.2,-2 -0.6,-2 1.9,-2 0.3,-2zM-2,12l0,-1.1 2,0.2 1.9,0.9 0.5,6 1.8,2 -0.4,2 1.6,2 -0.6,2 0.9,2 -1.3,2 1.4,2 -1.5,2 0.5,6 0.5,2 -1.2,2 0.5,2 -1.5,6 1.2,2 -2,2 1.7,2 -1.5,2 0.7,2 -1.2,2.3 -2,1.5 -2,0.4 0,-54.2zM161.1,16l0.9,-0.3 6,0.3 0,50.4 -4,0.5 -2,-0.1 -2,-1.2 -0.7,-1.6 -3.3,-4 -0.2,-2 -2.6,-2 1.8,-2 -1.7,-2 -0.4,-2 1.1,-3.9 -0.6,-2.1 0.8,-2 -0.6,-2 0.3,-2 -0.3,-4 1.6,-2 -1,-2 1.3,-2 -0.7,-2 1.2,-2 -0.6,-2 1.6,-2 0.5,-2 3.6,-2zM-2,88l0,-0.9 8,-0.8 2,0 2,1 0.4,0.7 -0.2,2 3.5,2 1.3,2 -0.7,2 2.5,2 1.4,4 2.8,2 1.3,2 -1.8,2 1.5,1.8 -0.9,2.2 2.6,2 -0.9,2 0.3,2 2,4 -2.5,4 1,2 -2.3,4 -1.7,2 -2,4 -3.6,1.5 -4,0.7 -12,-0.7 0,-51.5z" fill="#0398f7" stroke="none"/>
<path d="M41.3,-2l26.7,0.2 0.7,1.8 -0.7,2 3.3,2 -1.7,2 6.4,2.6 2,0.2 8,0.3 12,-0.7 1.8,-0.4 3,-2 3.2,-1.2 6,-0.8 2,-1.2 2,-0.1 3.7,1.3 0.4,2 10.6,6 1.3,2 0.4,2 1.1,2 2.2,2 0,2 1.9,2 -0.9,2 1.5,2 -0.8,2 1.5,2 -1.4,2 0.1,6 0.8,2 -0.8,2 0.6,2 -1.3,4 0.2,2 1.5,2 -2,2 2.1,2 -1.1,2 1.2,2 -0.4,2 -1.4,2 1.4,2 0.4,6 -0.9,2 0.6,2 -0.7,2 1.7,2 2.5,0.7 4,-0.3 4,-1.5 2,0.1 4,2.6 2.5,2.4 -1.9,4 1.9,2 0.6,2 -1.7,2 1.1,2 0.2,2 -0.5,2 2.1,2 0.7,2 -2.4,2 1.4,1.9 -1.2,2.1 2.4,2 -1.8,4 -0.1,2 0.8,2 -2.5,4 0.1,2 -2.5,4 -6.6,6 -4.6,1.5 -6,0.4 -8,-0.9 -4,-1.1 -6,-0.9 -6,-1.8 -10,-1.3 -6,1.5 -8,1.1 -6,2.5 -6,0.9 -4,-0.7 -6,-2.7 -2.7,-2.5 -2,-6 -1.3,-1.8 0.1,-2.2 0.9,-2 -1.3,-2 -0.5,-2 0.3,-4 -2.4,-2 1.2,-2 -1.5,-2 1.9,-2 -1.2,-2 -2.8,-2 -0.7,-4 -3.6,-2 -0.4,-2 -6.7,-4 -0.7,-4 -2.6,-2.2 -2.8,-3.8 0.3,-2 -0.5,-4 -3.4,-6 -2.6,-2 -0.5,-4 -1.9,-2 0.2,-2 -2.8,-2 1,-2 -5,-4 -0.7,-4 -1.3,-1.9 -0.4,-4.1 0.4,-2 -0.5,-4 1.6,-2 -0.7,-2 1.6,-2 -0.6,-2 1.9,-2 -0.2,-2 2,-2 -0.4,-2 3.5,-4 1,-6 0.8,-1.9 3.1,-2.1 -0.1,-2 3,-1.5 2,-0.5 1.3,-2zM-2,16l2,0.4 0.5,1.6 2,2 0,2 1.5,1.9 -0.3,2.1 0.8,2 -1.3,2 1.5,2 -1.5,2 0.1,4 0.9,4 -1.5,2 0.5,2 -1.8,6 1.3,2 -2.1,2 0.7,2 -1.3,3 -2,0.4 0,-45.4zM161.6,18l6.4,0.4 0,44.9 -4,0.5 -2,-0.3 -2,-1.4 -2,-2.1 -0.5,-2 -2.8,-2 1.7,-2 -1.9,-2 -0.5,-2 1,-4 -0.7,-2 0.9,-2 -0.7,-2 0,-6 1.7,-2 -0.9,-2 1.2,-2 -0.7,-2 1.5,-2 -0.3,-2 3,-3.5 1.6,-0.5zM-2,90l0,-1.1 6,-0.3 2,0.3 1.1,1.1 4.2,2 1.6,2 -0.8,2 2.2,2 2.2,4 2.8,2 1.4,2 -1.8,2 1.6,2 -1,2 2.5,2 -1.1,2 0.2,2 1.9,4 -2.5,4 0.8,2 -2.2,4 -5.9,6 -3.2,0.4 -12,-0.3 0,-48.1z" fill="#02b7f9" stroke="none"/>
<path d="M40.4,2l5.6,-1.1 6,1.2 6,-0.8 7.1,2.7 -0.8,2 2.2,2 0.4,2 3.1,1.8 2,0.4 6,-0.6 6,0.3 14,-1.7 12,-3.6 4,-0.4 8,2.7 6,3 2,1.9 0.6,2.2 1.4,2 2.5,2 0,2 2,2 -1,2 1.7,2 -0.7,2 1.5,2 -1.3,2 0.4,4 -0.3,2 0.9,2 -0.8,2 0.6,2 -1.4,4 0.2,2 1.5,2 -2.1,2 2.1,2 -1.1,2 1.2,2 -0.3,2 -1.5,2 1.3,2 0.3,6 -1.1,2 0.5,2 -0.9,2 1.8,2.8 2,0.8 4,0.6 6,-1.4 2,0.1 2,0.9 3,2.2 -1.6,4 1.8,2 0.7,2 -1.7,2 1,2 0.3,2 -0.4,2 1.8,2 1,2 -2.4,2 1.6,2 -1.4,2 2.3,2 -1.7,4 -0.3,1.9 1,2.1 -3,3.9 -0.2,2.1 -1.2,2 -2.6,2.8 -6,4.6 -6,1.4 -10,-1.3 -5.6,-1.5 -2.4,-2 -4,-0.3 -6,-2 -4,-2.2 -2.9,2.5 -15.1,3.1 -6,2.9 -4,1 -4,-0.3 -6,-2.2 -2,-1.1 -1.5,-1.4 -2.1,-6 -1.5,-2 0.1,-2 1,-1.8 -1.3,-2.2 -0.4,-2 0.3,-4 -2.4,-2 1.2,-2 -1.3,-2 1.9,-2 -1.2,-2 -2.3,-2 0.4,-2 -0.6,-2 -2.9,-2 0.2,-2 -8.1,-4 -1.3,-4 -4.7,-4 -1.1,-2 -0.1,-6 -3.2,-6 -2.8,-2 -0.6,-4 -1.7,-1.8 0.1,-2.2 -2.8,-2 1.3,-2 -4.5,-4 0.6,-2 -3.2,-8 -0.4,-6 2,-2 -0.7,-2 1.4,-2 -0.6,-2 1.7,-2 -0.4,-2 2.3,-2 -0.6,-2 3.4,-4 0.7,-4 1.7,-3.3 6.4,-4.7zM161.4,20l6.6,-0.3 0,41.5 -6,-0.1 -2,-1.8 -0.7,-1.3 -3.3,-2 1.8,-2 -2.1,-2 -0.6,-2 0.9,-4 -0.8,-2 0.8,-1.8 -0.7,-2.2 0,-6 1.9,-2 -0.8,-2 1.1,-2 -0.6,-2 1.7,-2 0.1,-2 2.7,-2zM-2,22l0,-1.5 2,-0.1 2.6,3.6 -0.2,2 0.7,2 -1.1,2 1.6,2 -1.5,2 -0.2,2 0.9,6 -1.8,2 0.7,2 -0.4,2 -1.3,3 -1.2,1 1.9,2 -2.7,1.6 0,-33.6zM-2,92l0,-1.4 6,0.1 3.8,1.3 2.2,1.3 0.7,0.7 -0.6,2 4.9,6 2.8,2 1.5,2 -1.6,2 1.6,2 -1,2 2.6,2 -1.3,2 0.2,2 1.5,4 -2.4,4 0.7,2 -2.2,4 -1.4,1.4 -4,2.8 -2,0.6 -12,-0.5 0,-44.3z" fill="#01dcfc"/>
<path d="M47.7,4l6.3,0.1 2,0.8 4.9,3.1 3.1,3.9 3.1,2.1 0,2 4.8,6 4.1,2.5 3,-4.5 -1,-2 2,-1 4.6,-1 3.4,-1.4 14,-2.1 10,-3.4 4,0.3 8,2.6 3,2 2.6,4 2.8,2 0.2,2 2.3,2 -1.1,2 2,2 -0.5,2 1.6,2 -1.4,2 0.5,2 -0.3,4 1,2 -0.7,1.9 0.6,2.1 -1.8,4 0.3,2 1.4,2 -2.2,2 2.2,2 -1.1,2 1.2,2 -0.2,2 -1.9,2 1.2,2 0.3,6 -1.3,2 0.4,2 -1.1,2.3 1.6,3.7 2.4,1.9 -0.9,2.1 0.9,0.4 4,-0.2 2,-1.2 4,-1.1 4.8,0.1 1.2,1.8 -0.5,2.2 1.8,2 1,2 -1.8,2 1,2 0.4,2 -0.3,2 2.8,4 -2.3,2 1.7,2 -1.4,2 2.3,2 -1.8,4 -0.3,2 0.9,2 -3.7,4 -0.1,2 -1.3,2 -2.2,2 -6.2,4.1 -4,1.2 -4,-0.2 -6,-1.6 -1.8,-1.5 -0.7,-2 -11.5,-2.7 -4,-2.2 -6,-1.7 -6.3,2.6 1.7,2 -11.4,3.2 -4,1.5 -4,2.5 -2,0.5 -4,-0.4 -6,-2.2 -1.7,-1.1 -2.5,-6 -1.4,-2 0,-2 1,-2 -1.2,-2 -0.5,-2 -0.1,-2 0.5,-2 -2.4,-2 1.1,-2 -1.2,-2 2.4,-2 -3.3,-4 1.1,-2 -1.3,-4 0.2,-2 -2.7,-1.7 -5.8,-2.3 -3.6,-4 -5.2,-4 -1,-2 -0.2,-6 -1.4,-2 -1.4,-4 -3.2,-2 -0.7,-4 -1.8,-2 0.1,-2 -2.7,-2 1.6,-2 -2.7,-2 -1.5,-2 1.5,-4 -1.7,-2 -0.3,-2 -1.6,-2 -1.3,-4 0.2,-2 2.6,-2 -0.8,-2 1.7,-2 -0.5,-2 0.7,-2 -0.5,-2 2.4,-2 -0.9,-1.8 3.4,-4.2 1,-4 3.6,-3.9 2,-1 7.7,-1.1zM74,25.3l-0.4,0.7 1.1,0 -0.7,-0.7zM164.9,22l3.1,-0.4 0,1.9 -0.7,0.5 0.7,0.1 0,33 -4,-0.4 -2,0.3 -3.6,-1 1.5,-2 -2.4,-2 -0.8,-2 0.9,-4 -1.1,-2 1.1,-2 -1,-2 0,-6 2.1,-2 -0.7,-1.9 1,-2.1 -0.4,-2 3.4,-2.9 2.9,-1.1zM-2,30l0,-0.7 2,1 1.5,1.7 -1.5,3.1 -2,2 0,-7.1zM-2,40l0,-0.8 2,0.2 0.2,0.6 -0.2,0.6 -2,0.3 0,-0.9zM-2,94l0,-0.8 2,-0.1 4,0.3 2.3,0.6 0.5,2 6.3,6 2.7,2 1.6,2 -1.3,2 1.7,2 -0.8,2 2.6,2 -1.3,2 1.1,6 -2.5,4 0.8,2 -2.3,4 -1.4,1.1 -4,1.9 -4,0.1 -8,-1.1 0,-40z" fill="#00fff7" stroke="none"/>
<path d="M45,6l3,-0.6 4,0.4 2,0.6 4,2.4 5.6,5.2 1.1,4 2.8,2 0.8,2 2.5,2 -0.4,2 4.4,2 1.2,1.4 2.9,-1.4 0.5,-2 3.5,-2 -0.5,-2 1.6,-3.7 6,0 8,-3.3 8,-2.1 8,-1.5 6,1.1 4,2.2 1.8,1.3 1.1,2 2.9,2 0.7,2 2.9,2 -1.1,2 2.1,2 -0.3,2 1.7,2 -1.5,2 0.6,2 -0.1,4 1,2 -0.7,2 0.6,2 -2,4 1.3,4 -2.1,2 2.2,2 -1,2 1.2,2 -0.3,2 -2.3,2 1.5,4 -0.2,4 -1.3,2 0,2 -1.6,2 0.6,2 -0.3,2 1,2 -3,2 -1.4,1.8 2,1.3 2,0.4 4,-0.2 12,-3.5 2,-0.1 0.9,0.3 0.6,2 2.5,3.2 0.4,0.8 -2.1,2 1.7,3.4 0.1,2.6 2.8,4 -2.1,2 1.7,2 -1.4,2 2.3,2 -1.8,4 -0.3,2 0.9,2 -4.2,3.9 -0.1,2.1 -1.9,2 -8,4.8 -3.9,1.2 -2.1,-0.1 -4.8,-1.9 -0.2,-2 -1,-1.1 -7.8,-2.9 -4.2,-2.5 -1.6,-1.5 -4.4,-0.6 -2,-1 -0.3,-0.4 1.2,-2 -2.9,-0.6 -3.5,0.6 -4.5,4.2 -2,1.1 -2.6,0.7 -6.9,4 -0.6,2 -4.6,2 -2.2,2 -1.1,0.5 -2,0.1 -2,-0.4 -6,-2.7 -2.1,-3.5 -0.5,-2 -1.6,-2 -0.2,-2 1,-2 -1.4,-4 -0.3,-2 0.6,-2 -2.5,-2 1,-1.9 -1.1,-2.1 3,-2 -3.2,-4 1.2,-2 0,-2 -0.7,-2 1.6,-4 -2.8,-1.4 -3.4,-0.6 -1.4,-4 2.8,-1 0.8,-1 -4.8,-0.6 -2,0.2 -2,1.3 -3,-0.9 -3,-2.7 -0.7,-1.3 0.1,-2 -1.4,-3.8 -1.5,-2.2 -0.7,-4 -3.1,-2 -0.8,-2 -0.3,-2 -2.1,-2 0.1,-2 -2.7,-2 1.5,-2 -2.4,-1.9 -1.4,-2.1 2.2,-4 -1.7,-2 0,-2 -2,-2 -1.9,-4 0.1,-2 3,-2 -0.8,-2 1.9,-2 -0.6,-6 1.9,-2 -1.3,-2 3.6,-4 1,-2 0.4,-2 3.6,-2.5 5,-1.5zM102,107.9l-1,0.1 1,-0.1zM114,103.8l-0.9,0.2 2.9,0.9 3,-0.9 -5,-0.2zM118,107.7l-0.3,0.3 0.4,2 1.9,0.3 1.5,-0.3 -1.4,-2 -2.1,-0.3zM161.6,26l6.4,-0.5 0,29 -6,-1.1 -2.5,-1.4 -1.1,-2 0.9,-4 -1.3,-1.8 1.1,-2.2 -1.1,-1.9 -0.2,-6.1 2.5,-2 -1,-2 2.3,-4zM-2,98l0,-2 4,0.3 2,0.9 10,6.8 1.8,2 -0.9,2 1.7,2 -0.8,2 2.7,2 -1.2,2 0.5,6 -2.8,4 0.8,2 -1.1,2 -1.2,2 -1.5,0.9 -4,1 -10,-1.2 0,-34.7z" fill="#00ffd1"/>
<path d="M43.8,8l4.2,-1.3 2,0.2 2,0.4 5.2,2.7 4.3,4 1,4 3.2,2 0.3,2 2.8,2 0.1,2 2.9,2 -0.5,2 1,2 -0.8,2 -0.2,2 1.3,4 1.1,2 -1.5,2 1.3,2 -0.5,2 0.8,2 -1.6,2 3.8,1.9 0.1,-1.9 -2,-2 4.1,-4 0.5,-2 1.3,-2 -1.5,-2 0,-4 -0.7,-2 1.2,-2 0.3,-2 3.9,-2 0,-2 4,-2 2.8,-2.9 3.4,-1.1 1.2,-2 5.4,-2.5 6,-1.4 8,-0.8 4,0.2 2,0.6 3.1,1.9 1.3,2 2.8,2 0.8,1.9 3.9,2.1 -0.8,2 2.2,2 -0.4,2 1.8,2 -1.5,2 0.7,2 -0.1,4 1.2,2 -0.8,2 0.7,2 -2.3,4 1,4 -2,2 2.1,2 -1,2 1.3,1.9 -0.5,2.1 -2.8,2 1.7,4 -0.6,2 -0.1,2 -1.7,2.9 -3.3,3.1 1.7,4 1.4,2 -5.4,4 0.5,2 -0.6,2 -2.3,1.5 -4,1 -4,0.5 -8,0 -2.5,-1 -1.5,-1.4 -2,-0.6 2,-2 -2,-0.4 -0.7,0.4 0.7,2 -1.8,2 -0.2,1.9 1.1,2.1 -1.7,2 1.4,2 -2.8,0.7 -1.1,1.3 -3.1,2 2.2,3 4,-1.2 1.9,0.2 -5.9,4.2 -0.9,1.8 0.9,1.6 2,1.6 2,-0.2 2.6,1 -2.4,2 -4.2,-0.8 -2.5,4.8 -5,4 -1.4,2 -7.1,3.4 -4.5,-1.4 -3.5,-2.5 -0.8,-1.5 -0.4,-2 -1.6,-2 -0.4,-2 0.8,-2 -0.8,-2 -0.5,-4 0.5,-2 -2.6,-2 0.9,-2 -1,-2 3.3,-2 -2.9,-4 0.9,-2 0.2,-4 1.9,-2 0.7,-2 -2.2,-2 1.9,-2 -0.1,-2 -0.8,-2 0.7,-2 1.5,-2 -1.2,-0.6 -2,0.2 -2,1.1 -4,0.2 -3.9,-0.9 1.2,-2 -1.3,-0.5 -6,-0.1 -2,-0.7 -3.6,-4.7 -0.7,-2 0.2,-2 -3.5,-4 -0.4,-1.8 -2.7,-2.2 0.2,-2 -2.6,-2 1.1,-2 -2.6,-2 -0.9,-2 0.5,-2 1.6,-2 -1.5,-2 -0.1,-2 -1.3,-2 -0.3,-2 -1.4,-2 -0.6,-2 2.9,-2 -0.5,-2 1.4,-2 -0.5,-2 0.7,-2 -0.3,-2 1.2,-2 -1.5,-2 5.1,-6 0.7,-2 5.2,-2zM76,57.7l-2,1.1 -1,1.2 1.7,4 -0.3,2 1.6,0.5 2,-0.9 1.5,-1.6 -0.4,-4 0.2,-2 -3.3,-0.3zM162.7,28l1.3,-0.6 4,-0.3 0,21.6 -1.4,1.3 1.4,2.1 -3.2,-0.1 -2.8,-0.7 -1.5,-1.3 0.6,-2 -0.2,-2 -1.6,-2 1.4,-2 -1.1,-2 -0.5,-6 2.6,-2 -0.9,-2 1.9,-2zM145.6,90l2.4,0 2.3,2 -0.5,4 1.8,2 0.9,4 1,2 1.8,2 -1.7,2 1.7,2 -1.5,2 2.2,1.9 -1.5,4.1 -0.2,2 0.5,2 -4.8,4 0.1,2 -4.1,2.8 -6,2.5 -4,0.1 -2,-0.8 -2,-3 -4.8,-1.6 -0.7,-2 0.8,-2 -0.3,-2 -2.9,-4 1.7,-4 -1.8,-1.9 2.6,-2.1 -2.6,-1.8 0,-0.6 2,-2.5 2.8,-1.1 -4.2,-4 1.4,-0.8 2,-0.4 6,0.4 1,-1.2 -0.8,-2 0.8,-2 3,-0.2 7,-1.8 0.6,-2zM-2,98l2,-0.2 2,0.6 10.3,5.6 2.1,2 -0.7,2 1.8,2 -0.7,2 2.7,2 -1.1,2 0.2,6 -1.4,2 -2.2,2 0.3,2 -0.4,2 -1.4,2 -1.5,0.6 -2,0.1 -4,-0.8 -6,-0.6 0,-33.3zM113.4,114l2.6,-0.4 0.7,0.4 -0.7,0.3 -2.6,-0.3z" fill="#00ffac" stroke="none"/>
<path d="M42.2,10l5.8,-1.9 2,0.1 4.7,1.8 4.9,4 1,2 0.3,2 3,2 0.4,2 2.9,2 0.2,2 2.2,2 -0.4,2 1.3,2 -0.9,2 0.2,2 1,4 1.2,2 -1.2,2 1,2 -0.7,2 -0.4,4 2,2 -1.6,2 0.9,1.8 -1,2.2 1,4 -1.4,2 1.8,2 -0.9,2 -3.5,4.2 -4,0.8 -6,0 -6,0.8 -2,-1.5 -1.3,-2.3 -2.7,-1.4 -0.4,-0.6 0.1,-2 -1.4,-2 -0.7,-2 -1.5,-2 -2.8,-2 0,-2 -2.3,-2 0.4,-2 -2.5,-2 -0.6,-2 0.2,-2 1.5,-2 -1.5,-2 0,-2 -0.8,-2 0.5,-2 -2.4,-4 2.4,-2 -0.4,-2 1.1,-2 -0.7,-2 1,-2 -0.4,-2 0.9,-2 -1.4,-2 1.3,-2 6.6,-6zM102,16l12,-1.4 4,0.4 2,0.8 2.2,2.2 2.9,2 0.7,2 4.4,2 -0.4,2 2.2,1.9 -0.5,2.1 1.9,2 -1.4,2 0.9,6 1.1,1.9 -0.7,2.1 0.7,2 -2.5,4 0.4,4 -1.6,2 1.7,1.9 -0.8,2.1 1.4,2 -1.2,2 -3,2 2.2,4 -1,2 -0.3,2 -1.3,2 -4.7,4 1.4,4 2.7,2 -5.4,3.2 -3.5,2.8 0.2,2 -2.7,0.6 -5.3,-0.6 -8.7,-5.6 -2,-0.5 -4,2 -0.1,2.1 -3.9,5.9 0.4,2.1 -1.8,2 0.4,4 -1.3,2 0.9,2 -2.4,2 3,2 -0.1,2 0.8,2 -1.6,2 0.4,2 -0.4,2 -3,4 -3.3,3.1 -6,2.6 -2,0 -4,-2.1 -1.3,-1.6 -0.5,-2 -1.5,-2 -0.5,-2 0.4,-2 -0.6,-2 0.2,-6 -2.7,-2 0.9,-2 -1,-2 3.4,-2 -0.7,-2 -1.9,-2 1.4,-4 0.2,-2 3,-2 0.9,-2 -1,-2 2.1,-4 -1.2,-2 0.8,-2 1.6,-1.1 3.1,-0.9 1.5,-2 2.7,-2 0.8,-2 7.6,-4 -4.2,-2 1.2,-2 -2.7,-0.3 -1.8,-3.7 0.4,-2 1.4,-1.9 -2,-1 -4.8,-1.1 2.8,-2 -2.2,-4 3.9,-4 -0.8,-2 1.3,-2 -0.9,-2 1.7,-2 -2.5,-4 1.5,-3 1.1,-1 3.9,-2 0.7,-2 2.3,-2.2 2.2,-1.8 3.7,-2 1.6,-2 4.5,-2zM88,75.9l3.2,0.1 -1.2,-0.4 -2,0.3zM96,77.9l-3.1,2.1 3.1,1.3 0.7,0.7 -1.3,2 4.6,1.4 2,-0.4 1.5,-1 -3.8,-2 -0.7,-2 -3,-2.1zM164.3,32l1.7,-0.4 2,1.6 0,13.3 -4,-0.2 -2.9,-2.3 2,-2 -1.5,-2 -0.6,-2 1,-2 -1.2,-2 3.2,-2zM139.4,96l4.6,-1.7 2,0.8 3.5,2.9 0.8,2 0.2,2 3,4 -1.1,2 1.6,1.9 -1.8,2.1 2.6,2 -1.5,4 -0.2,4 -5.3,4 -0.4,2 -3.4,2.4 -4,1.1 -2,-0.1 -2,-0.7 -2.2,-2.7 -3.8,-2 0,-3.9 -1.6,-2.1 -0.3,-2 -0.9,-2 2.8,-2 -2.8,-2 2,-2 -2.3,-2 2.3,-2 3.8,-2 1.4,-2 3.6,-1.9 1.2,-2.1 0.2,-2zM-2,102l0,-0.6 2,-0.8 2,0 4,1.4 4,2 2.5,2 -0.1,2 2,2 -0.8,2 2.9,2 -1,2 -0.3,6 -1.2,1.8 -3.2,2.2 -0.4,4 -0.4,0.5 -2,0.7 -10,-1.6 0,-27.6z" fill="#00ff72"/>
<path d="M48.7,12l3.3,-0.1 2,0.7 1.8,1.4 2.8,4 2.3,2 0.6,2 3,2 0.4,2 1.7,2 -0.4,2 1.3,2 -0.4,2 1.4,4 0,2 1.4,2 -1.3,2 1.2,2 -1.2,4 -0.1,2 1.8,2 -2.7,2 1.4,2 -0.8,2 0.6,2 -0.4,2 -2.4,2 1.7,2 -1.7,1.2 -6,1.6 -4,0.6 -2,-0.4 -6,-3.9 -1,-1.1 0.2,-2 -4.7,-4 -0.2,-2 -2.1,-2 -0.3,-2 -2.6,-2 -0.3,-4 0.7,-2 -1.2,-2 0,-2 -0.6,-2 0.3,-2 -1.4,-4 1.9,-2 -0.6,-2 1.1,-2 -0.8,-2 1.1,-2 -0.7,-2 1.2,-2 -1,-2 1.6,-2 1.4,-0.8 6,-2.8 2.7,-0.4zM105.7,18l4.3,-0.9 4,0.1 4,1.2 3.4,1.6 1.4,2 3,2 1.3,2 2.8,2 -1.1,2 1.8,2 -1,2 0.2,2 1,4 1.3,2 -0.8,2 0.7,1.9 -2.4,4.1 0,4 -1.6,2 1.2,2 -1,2 1.6,2 -5.5,4 2.6,2 -0.4,2 -4.1,4 -1,2 -3.4,1.5 -3.4,0.5 3.2,4 -3,2 0.1,2 -0.9,0.8 -2,0.4 -3.5,-3.2 -1.1,-2 1.3,-2 -2.7,-0.8 -1.4,-1.2 -0.5,-2 -2.4,-2 -1.7,-0.7 -1.8,-1.3 -0.1,-2 -0.9,-2 -4.3,-2 -2.1,-4 -2.8,-2 1.1,-2 -2.5,-2 0.3,-2 -2.1,-6 2,-2 0.8,-2 -0.1,-4 1,-4 -2.9,-2 4.4,-2.3 2,-3.7 0.3,-2 1.2,-2 3,-2 9.2,-4zM85.2,86l0.8,-1.5 2,0.1 2.8,1.4 0.5,2 -2.7,2 0,4 -0.9,2 0.6,2 -0.4,2 -1.9,1.9 1.1,2.1 0,2 -0.7,2 1.5,2 -2.3,2 2.4,2 0.5,4 -1.6,2 0.6,2 -2.8,4 -0.3,2 -2.4,1.7 -4,1.1 -2,-0.4 -4,-4.3 -2,-6 1,-4.1 -0.2,-2 -2.6,-2 1.4,-2 -1.4,-2 3,-2 -0.1,-2 -1.9,-2 1.6,-2 0.5,-4 5.2,-4 1.5,-2.6 7.2,-3.4zM141.2,102l2.8,-0.1 2,0.8 2,1 2.2,2.3 -1,2 1.7,2 -2.3,2 3.1,2 -2.6,2 1,2 -0.5,2 -5.6,6.6 -2,1.7 -7.3,-2.3 -1.3,-2 1.6,-2 -1.8,-2 0.4,-2 -1.5,-2 2.1,-2 -2,-2 2.6,-2 -1.8,-2 5.3,-2 3.1,-2 -0.2,-2zM2.3,108l1.7,-0.9 2,0.1 4,1.5 1.8,1.3 -0.5,2 3.1,2 -0.7,2 0.1,2 -1.2,4 -1.5,2 -1.1,0.6 -4,0.8 -2.8,-1.4 -0.1,-2 -1.5,-2 0.5,-2 -0.4,-4 -2.7,-2 3.3,-4z" fill="#00ff26"/>
<path d="M47.9,14l2.1,-0.2 2,0.4 6.6,5.8 0.4,2 3,1.9 0.6,2.1 2.1,2 -0.4,2 1.1,2 -0.6,2 2,4 0,2 1.2,2 -1.3,2 1.3,2 -1.3,4 -0.1,2 1.4,1.8 -2.8,2.2 1.1,2 -0.9,2 0.7,2 -1.2,2 -5.2,2 -1.7,1.8 -6,-0.9 -2,-0.9 0.1,-2 -4.7,-4 -0.2,-2 -2.6,-2 -0.3,-2 -3.1,-2 -0.4,-4 0.4,-2 -1.1,-2 0,-2 -0.9,-2 0.3,-2 -0.8,-4 1.7,-2 -0.8,-2 1.3,-2 -0.8,-2 1.1,-2 -0.7,-2 1.4,-2 -0.3,-2 0.4,-0.4 4,-2.3 3.9,-1.3zM114,20l2,-0.1 2,0.9 4.8,3.2 1.2,1.9 3.3,2.1 -1.2,2 1.9,1.9 -0.6,2.1 1.3,6 1.3,1.9 -0.8,2.1 0.4,2 -0.7,2 -1.3,2 -0.6,2 0.7,2 -1.7,1.8 0.6,2.2 -1,2 1.2,2 -5.4,4 0.2,2 -2.5,2 -3.1,1.3 -6,1.6 -2,0.1 -3.9,-1 -4.8,-6 -2.2,-2 -0.7,-2 -2.3,-2 0.6,-2 -3.3,-2 0.6,-1.9 -1.4,-2.1 0.4,-2 -1,-2 1.9,-2 -1,-6 1.4,-4 -0.1,-2 2.6,-2 -0.7,-2 1.4,-2 -0.4,-2 0.9,-0.9 8,-3.4 10,-1.7zM77.9,94l2.1,-0.9 2,0 1.5,0.9 -1.1,2 2.6,2 -0.3,2 -1.6,2 1.2,2 0.1,2 -1.1,2 2.3,2 -2.1,2 2.3,2 -0.2,2 -2.3,4 1.1,2 -2.4,2.6 -2,1 -2,0.3 -2,-1.3 -2.6,-2.6 -0.8,-2 1.4,-4.3 -0.4,-1.7 -2.3,-2 1.6,-2 -1.6,-2 2.5,-2 0.3,-2 -1.2,-2 2.7,-2 2.3,-6zM143.4,110l1.7,0 -1.1,0.5 -0.6,-0.5zM6.9,114l1.1,-1 3.2,1 0.1,4 -0.7,2 -0.6,1 -2,0.8 -2.4,-1.8 -0.4,-2 0.8,-3 0.9,-1zM140.2,118l1.8,-1.7 1.7,3.7 -1.6,2 -2.4,-2 0.5,-2z" fill="#24ff00"/>
<path d="M46.2,16l1.8,-0.4 2,0.3 6,3.7 0.4,0.4 0.4,2 3.2,2 0.7,2 2.3,2 -0.4,2 1,2 -0.8,2 2.3,4 0.1,2 1.1,2 -1.3,2 1.3,2 -1.4,4 -0.1,2 1.2,1.9 -2.9,2.1 0.9,1.9 -1.5,2.1 0.8,2 -1.3,1.3 -2,1.1 -4,0.9 -2,-0.3 -5.8,-5 -0.2,-2 -3.4,-2 0.2,-2 -3.6,-2 -0.7,-2 0.1,-4 -1.1,-2 -0.1,-2 -1,-2 0.3,-2 -0.5,-4 1.6,-2 -1,-2 1.5,-2 -0.9,-2 1.3,-2 -0.6,-2 1.7,-2 0.6,-2 3.6,-1.9zM105.6,24l4.4,-1.4 4,-0.4 2,0.2 4,1.5 1.3,2.1 2.7,1.9 -0.3,2.1 2.2,2 -0.7,2 1.3,4 0.2,2 1.3,2 -0.9,2 0.4,2 -0.6,2 -2.2,4 1.1,2 -2.1,2 0.5,2 -0.8,2 1,2 -2.4,2 -3.7,2 -1.9,2 -2.4,0.8 -4,0 -4,-0.9 -2,-1.4 -1.5,-2.5 -4.5,-4 -0.1,-2 -3,-2 2,-2 -2.5,-2 -0.5,-4 1.6,-2 -0.9,-2 0.1,-2 -1,-2 1.7,-6 2.6,-2 -1.2,-2 1.7,-2 0.7,-2 6.4,-2zM75.5,108l2.5,-0.2 4.7,2.2 -2.5,2 3.1,2 -0.9,2 -3.3,4 1.6,2 -0.7,0.4 -2,-0.4 -1.2,-2 -0.1,-2 0.7,-2 -0.4,-2 -1.4,-2 0.3,-2 -0.4,-2z" fill="#6dff00"/>
<path d="M44,20l2,-1.4 2,-0.2 4,0.6 2,1 0.7,2 3.3,1.9 1.1,2.1 2.3,2 -0.4,2 1.2,2 -0.9,2 2.2,4 0.3,2 0.8,2 -1.2,2 1.3,2 -1.5,4 -0.2,2 1.2,2 -3,2 0.6,2 -2.6,2 1,2 -2.2,1 -2,0.1 -2.4,-1.1 -2.2,-2 -0.5,-2 -4.3,-2 0.7,-2 -3.9,-2 -1.3,-2 0,-4 -1.3,-2 -0.2,-2 -1.1,-2 -0.1,-6 1.5,-2 -0.9,-2 1.5,-2 -0.8,-2 1.5,-2 -0.5,-2 2.3,-2zM105.1,26l6.9,-1.4 4,0.3 4,3.1 1.2,2 2.7,2 -0.8,2 1.7,4 -0.1,2 1.1,2 -0.8,2 0.4,2 -3,6 1.4,2 -2.6,2 0.2,2 -0.6,2 1.1,2 -1.9,1 -8,2 -2,0.1 -2,-0.6 -0.7,-0.5 -0.2,-2 -5.5,-2 0,-2 -2.9,-2 1.6,-2 -2.1,-2 -0.8,-2 0.8,-4 -0.6,-2 0.4,-2 -1.3,-2 0.4,-2 1,-4 2.7,-2 -1.1,-2 5.4,-4z" fill="#b6ff00"/>
<path d="M43.6,22l2.4,-1.4 4,-0.3 6,3.6 1.5,2.1 2.2,2 -0.5,2 1.6,2 -0.8,1.8 2,4.2 0.9,4 -1.1,2 1.1,2 -1.6,6 1.1,2 -3.1,2 -0.4,2 -0.9,0.5 -2,0.1 -6.9,-2.6 0.5,-2 -3.5,-2 -2.1,-2 -0.5,-4 -1.4,-2 -0.2,-2 -1.2,-2 -0.1,-6 1.4,-1.9 -1,-2.1 1.6,-2 -0.7,-2 1.9,-2 -0.2,-2zM109.6,28l2.4,-0.6 2,0.2 7.8,4.4 -0.7,2 1.2,2 0.5,2 -0.2,2 0.8,2 -1,2 0.4,2 -0.6,2 -1.4,2 -0.5,2 1.2,2 -3.3,2 -2.2,2.6 -2,0.9 -4,0.1 -2,-0.4 -5.1,-3.2 1.5,-2 -2.4,-2 0.1,-2 -1.3,-4 0.2,-2 1.1,-2 -2.3,-2 2.1,-6 4.6,-4 3.1,-2z" fill="#ffff00"/>
<path d="M47.2,22l2.8,0.3 4,1.9 4,3.8 -0.6,2 2,2 -0.8,2 1.7,4 0.9,4 -1.1,2 0.7,2 -1.5,6 0.9,2 -4.2,2.2 -2.7,-0.2 -1.1,-2 -5.9,-4 -1.2,-4 -1.7,-2 -0.2,-2 -1.4,-2 -0.1,-6 1.5,-2 -1.1,-2 1.6,-2 -0.4,-2 2.4,-2 0.3,-1.1 1.2,-0.9zM109.7,32l2.3,-1.8 2,0.2 4.5,1.6 0.1,2 1.6,2 0.1,2 0,4 -1.2,2 0.8,2 -0.7,2 -2.1,2 1.5,4 -8.3,2 -0.5,0 -1.3,-2 -2.5,-2 -2.1,-6 0.1,-2 1.7,-2 -1.7,-2 1.7,-2 -0.3,-2 1.6,-2 2.7,-2z" fill="#ffb600"/>
<path d="M45.1,26l2.9,-1.4 2,-0.2 3.9,1.6 2.4,2 -0.7,2 2.2,2 -0.7,2 1.3,4 -0.1,2 1.1,2 -1.1,2 0.1,2 -1,4 -1.4,2.3 -2,0.1 -2,-0.7 -2.7,-1.7 -1.3,-1.6 -1.1,-2.4 -2,-2 -0.2,-2 -1.6,-2 -0.3,-6 1.5,-2 -1.1,-2 1.8,-2 0.1,-2zM111.5,46l0.5,-0.6 2,-0.2 2,0.8 -2,0.9 -2,-0.3 -0.5,-0.6z" fill="#ff6d00"/>
<path d="M46.7,28l1.3,-1.5 2,-0.2 2,0.4 2,1.1 -0.4,2.2 2.4,1.9 -0.6,2.1 1,2 0,2 -0.8,2 1.4,2 -1.9,2 0.4,2 -1.5,2.5 -2,-0.1 -5.3,-4.4 -0.1,-2 -2,-2 -0.7,-6 1.7,-2 -1.1,-2 2.2,-2z" fill="#ff2400"/>
</g>
<rect x="29.8" y="36.5" width="164.9" height="144.3" fill="none" stroke="#222" stroke-width="0.7"/>
<text x="30.4" y="193.0" font-size="8.6" text-anchor="middle" font-family="'Liberation Sans', sans-serif" >0</text>
<text x="57.3" y="193.0" font-size="8.6" text-anchor="middle" font-family="'Liberation Sans', sans-serif" >15</text>
<text x="84.2" y="193.0" font-size="8.6" text-anchor="middle" font-family="'Liberation Sans', sans-serif" >30</text>
<text x="111.1" y="193.0" font-size="8.6" text-anchor="middle" font-family="'Liberation Sans', sans-serif" >45</text>
<text x="138.0" y="193.0" font-size="8.6" text-anchor="middle" font-family="'Liberation Sans', sans-serif" >60</text>
<text x="164.9" y="193.0" font-size="8.6" text-anchor="middle" font-family="'Liberation Sans', sans-serif" >75</text>
<text x="191.8" y="193.0" font-size="8.6" text-anchor="middle" font-family="'Liberation Sans', sans-serif" >90</text>
<text x="25.0" y="183.7" font-size="8.6" text-anchor="end" font-family="'Liberation Sans', sans-serif" >0</text>
<text x="25.0" y="169.3" font-size="8.6" text-anchor="end" font-family="'Liberation Sans', sans-serif" >5</text>
<text x="25.0" y="154.9" font-size="8.6" text-anchor="end" font-family="'Liberation Sans', sans-serif" >10</text>
<text x="25.0" y="140.5" font-size="8.6" text-anchor="end" font-family="'Liberation Sans', sans-serif" >15</text>
<text x="25.0" y="126.1" font-size="8.6" text-anchor="end" font-family="'Liberation Sans', sans-serif" >20</text>
<text x="25.0" y="111.7" font-size="8.6" text-anchor="end" font-family="'Liberation Sans', sans-serif" >25</text>
<text x="25.0" y="97.3" font-size="8.6" text-anchor="end" font-family="'Liberation Sans', sans-serif" >30</text>
<text x="25.0" y="82.9" font-size="8.6" text-anchor="end" font-family="'Liberation Sans', sans-serif" >35</text>
<text x="25.0" y="68.5" font-size="8.6" text-anchor="end" font-family="'Liberation Sans', sans-serif" >40</text>
<text x="25.0" y="54.1" font-size="8.6" text-anchor="end" font-family="'Liberation Sans', sans-serif" >45</text>
<text x="25.0" y="39.7" font-size="8.6" text-anchor="end" font-family="'Liberation Sans', sans-serif" >50</text>
<path d="M30.4,180.8v3M57.3,180.8v3M84.2,180.8v3M111.1,180.8v3M138.0,180.8v3M164.9,180.8v3M191.8,180.8v3M43.8,180.8v1.8M70.7,180.8v1.8M97.6,180.8v1.8M124.5,180.8v1.8M151.4,180.8v1.8M178.3,180.8v1.8M29.8,180.8h-3M29.8,166.4h-3M29.8,152.0h-3M29.8,137.6h-3M29.8,123.2h-3M29.8,108.8h-3M29.8,94.4h-3M29.8,80.0h-3M29.8,65.6h-3M29.8,51.2h-3M29.8,36.8h-3M29.8,173.6h-1.8M29.8,159.2h-1.8M29.8,144.8h-1.8M29.8,130.4h-1.8M29.8,116.0h-1.8M29.8,101.6h-1.8M29.8,87.2h-1.8M29.8,72.8h-1.8M29.8,58.4h-1.8M29.8,44.0h-1.8" stroke="#222" stroke-width="0.7" fill="none"/>
<text x="112.5" y="207.7" font-size="10" text-anchor="middle" font-family="'Liberation Sans', sans-serif" >time [ns]</text>
<text x="0.3" y="27.8" font-size="11" text-anchor="start" font-family="'DejaVu Sans', sans-serif" >(d)</text>
<text x="29.5" y="30.5" font-size="9.5" font-family="'Liberation Sans', sans-serif">θ<tspan font-size="6.3" dy="1.8">hf</tspan><tspan dy="-1.8">= 270°</tspan></text>
<rect x="206.2" y="39.0" width="10.2" height="141.5" fill="url(#cb)"/>
<text x="219.8" y="181.7" font-size="7.6" text-anchor="start" font-family="'Liberation Sans', sans-serif" >0.0</text>
<text x="219.8" y="167.8" font-size="7.6" text-anchor="start" font-family="'Liberation Sans', sans-serif" >3.2</text>
<text x="219.8" y="153.8" font-size="7.6" text-anchor="start" font-family="'Liberation Sans', sans-serif" >6.5</text>
<text x="219.8" y="139.9" font-size="7.6" text-anchor="start" font-family="'Liberation Sans', sans-serif" >9.7</text>
<text x="219.8" y="125.9" font-size="7.6" text-anchor="start" font-family="'Liberation Sans', sans-serif" >12.9</text>
<text x="219.8" y="112.0" font-size="7.6" text-anchor="start" font-family="'Liberation Sans', sans-serif" >16.1</text>
<text x="219.8" y="98.0" font-size="7.6" text-anchor="start" font-family="'Liberation Sans', sans-serif" >19.4</text>
<text x="219.8" y="84.1" font-size="7.6" text-anchor="start" font-family="'Liberation Sans', sans-serif" >22.6</text>
<text x="219.8" y="70.1" font-size="7.6" text-anchor="start" font-family="'Liberation Sans', sans-serif" >25.8</text>
<text x="219.8" y="56.2" font-size="7.6" text-anchor="start" font-family="'Liberation Sans', sans-serif" >29.1</text>
<text x="219.8" y="42.2" font-size="7.6" text-anchor="start" font-family="'Liberation Sans', sans-serif" >32.3</text>
<text transform="translate(251.5,105.2) rotate(-90)" font-size="10" text-anchor="middle" font-family="'Liberation Sans', sans-serif">excitation rate [a.u.]</text>
</g>
<g><path d="M89.3,161.2L103.6,124.3" stroke="#000" stroke-width="3.0" fill="none"/><path d="M106.8,115.9L106.5,127.0L99.6,124.4Z" fill="#000"/><path d="M148.5,162.5L162.7,125.9" stroke="#000" stroke-width="3.0" fill="none"/><path d="M166.0,117.5L165.6,128.6L158.7,125.9Z" fill="#000"/><path d="M81.3,66.3L89.6,93.6" stroke="#000" stroke-width="3.2" fill="none" stroke-dasharray="4.8 2.4"/><path d="M92.1,101.7L85.8,93.2L92.5,91.1Z" fill="#000"/><path d="M335.0,160.0L350.4,124.3" stroke="#000" stroke-width="3.0" fill="none"/><path d="M354.0,116.0L353.2,127.1L346.4,124.2Z" fill="#000"/><path d="M396.0,161.0L411.6,123.3" stroke="#000" stroke-width="3.0" fill="none"/><path d="M415.0,115.0L414.4,126.1L407.6,123.3Z" fill="#000"/><path d="M349.0,62.5L357.6,91.8" stroke="#000" stroke-width="3.2" fill="none" stroke-dasharray="4.8 2.4"/><path d="M360.0,100.0L353.8,91.4L360.5,89.4Z" fill="#000"/><path d="M64.6,322.5L82.3,283.0" stroke="#222" stroke-opacity="0.5" stroke-width="2" fill="none"/><path d="M48.0,363.5L62.6,327.6" stroke="#000" stroke-width="3.0" fill="none"/><path d="M65.4,320.6L65.1,330.2L59.0,327.7Z" fill="#000"/><path d="M131.8,323.9L150.0,275.5" stroke="#222" stroke-opacity="0.5" stroke-width="2" fill="none"/><path d="M116.0,364.0L129.8,329.0" stroke="#000" stroke-width="3.0" fill="none"/><path d="M132.5,322.0L132.3,331.6L126.1,329.2Z" fill="#000"/><path d="M81.7,260.9L88.8,286.7" stroke="#000" stroke-width="3.2" fill="none" stroke-dasharray="4.8 2.4"/><path d="M91.1,294.9L85.1,286.2L91.8,284.3Z" fill="#000"/><path d="M367.5,364.0L382.9,328.7" stroke="#000" stroke-width="3.0" fill="none"/><path d="M386.5,320.5L385.7,331.6L378.9,328.6Z" fill="#000"/><path d="M429.0,364.0L443.9,329.8" stroke="#000" stroke-width="3.0" fill="none"/><path d="M447.5,321.5L446.7,332.6L439.9,329.7Z" fill="#000"/><path d="M344.0,253.0L352.6,282.3" stroke="#000" stroke-width="3.2" fill="none" stroke-dasharray="4.8 2.4"/><path d="M355.0,290.5L348.8,281.9L355.5,279.9Z" fill="#000"/></g>
</g>
</svg></body></html>
